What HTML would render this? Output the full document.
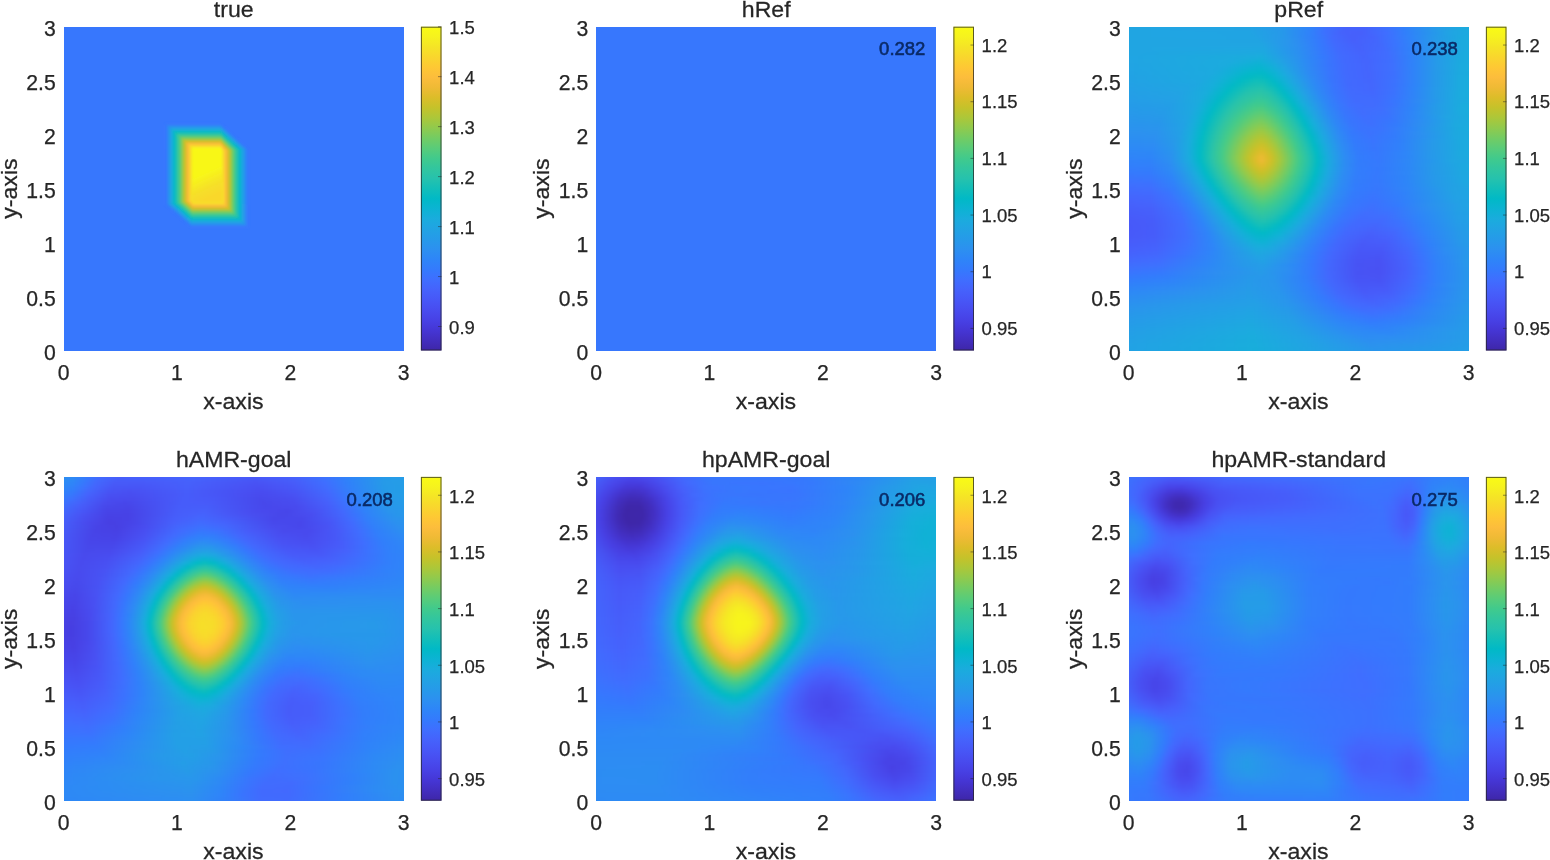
<!DOCTYPE html>
<html lang="en">
<head>
<meta charset="utf-8">
<title>Reconstruction comparison</title>
<style>
html,body{margin:0;padding:0;background:#fff;}
body{width:1550px;height:860px;overflow:hidden;position:relative;}
.hm{position:absolute;width:340px;height:324px;overflow:hidden;}
.hm i{position:absolute;display:block;left:-8px;top:-8px;width:356px;height:340px;filter:blur(1.6px);}
svg{position:absolute;left:0;top:0;display:block;}
text{font-family:"Liberation Sans",Arial,Helvetica,sans-serif;fill:#262626;stroke:#262626;stroke-width:0.25px;}
.t{font-size:21.2px;}
.c{font-size:18.5px;}
.l{font-size:21.6px;}
.a{font-size:18.5px;fill:#0a2a66;stroke:#0a2a66;stroke-width:0.55px;}
.m{text-anchor:middle;}
.e{text-anchor:end;}
#h0{left:64px;top:27px;background:#3777fd;}
#h1{left:596px;top:27px;background:#3777fd;}
#h2{left:1129px;top:27px;}
#h2 i{
background-image:linear-gradient(90deg,#20a4e2 0.5px,#21a3e4 126.5px,#2797ea 163.5px,#3180fa 193.5px,#416afe 216.5px,#4464fd 235.5px,#3e6ffe 259.5px,#3180fa 280.5px,#249ce7 316.5px,#1caadf 343.5px,#1baade 355.5px),
linear-gradient(90deg,#20a5e2 0.5px,#21a3e3 126.5px,#2798ea 161.5px,#3082f9 190.5px,#3b72fe 204.5px,#4562fc 224.5px,#4563fc 243.5px,#3b72fe 266.5px,#3082f9 284.5px,#259be8 315.5px,#1caadf 342.5px,#1baade 355.5px),
linear-gradient(90deg,#20a5e2 0.5px,#21a3e3 127.5px,#2798ea 161.5px,#3081fa 190.5px,#3d70fe 204.5px,#4561fc 224.5px,#4561fc 243.5px,#3c71fe 267.5px,#3080fa 284.5px,#259ce7 316.5px,#1caade 342.5px,#1babde 355.5px),
linear-gradient(90deg,#20a5e2 0.5px,#20a4e3 128.5px,#2699e9 160.5px,#3081fa 189.5px,#3b72fe 202.5px,#4562fc 220.5px,#465ffb 239.5px,#3f6eff 265.5px,#3080fa 285.5px,#20a4e3 328.5px,#1babde 352.5px,#1babde 355.5px),
linear-gradient(90deg,#20a5e2 0.5px,#20a4e3 132.5px,#2798ea 162.5px,#327dfb 193.5px,#4269fe 212.5px,#465ffb 231.5px,#4464fd 252.5px,#3a74fe 272.5px,#2e85f8 291.5px,#2699e9 313.5px,#1ca9df 339.5px,#1babdd 355.5px),
linear-gradient(90deg,#20a5e2 0.5px,#20a4e2 137.5px,#2a94ed 169.5px,#347afd 197.5px,#416afe 212.5px,#4660fb 232.5px,#4366fd 254.5px,#3a74fe 273.5px,#2e85f8 292.5px,#269ae9 314.5px,#1caade 340.5px,#1aabdd 355.5px),
linear-gradient(90deg,#20a5e2 0.5px,#20a5e2 141.5px,#2c90f0 175.5px,#347afd 198.5px,#416afe 214.5px,#4561fc 235.5px,#4268fd 258.5px,#3975fe 275.5px,#2e86f7 294.5px,#2699e9 314.5px,#1caade 340.5px,#1aabdd 355.5px),
linear-gradient(90deg,#20a5e2 0.5px,#1ea7e1 142.5px,#2c8ef1 178.5px,#3579fd 200.5px,#416afe 216.5px,#4562fc 238.5px,#416afe 262.5px,#3081fa 289.5px,#21a4e3 327.5px,#1aacdd 350.5px,#1aacdd 355.5px),
linear-gradient(90deg,#20a4e2 0.5px,#1ca9df 142.5px,#2c8df2 180.5px,#3678fd 202.5px,#416afe 219.5px,#4563fd 241.5px,#406dfe 266.5px,#2f84f9 292.5px,#269ae8 315.5px,#1baade 340.5px,#1aacdd 355.5px),
linear-gradient(90deg,#20a4e3 0.5px,#1babdd 119.5px,#19addc 141.5px,#2995ec 172.5px,#337bfd 200.5px,#416bfe 219.5px,#4464fd 242.5px,#406dfe 267.5px,#2e84f8 293.5px,#2699e9 314.5px,#1baade 339.5px,#1aacdd 355.5px),
linear-gradient(90deg,#21a4e3 0.5px,#1babde 110.5px,#12b0d7 139.5px,#21a3e3 159.5px,#2d89f5 186.5px,#3876fd 206.5px,#416afe 222.5px,#4464fd 245.5px,#3e6ffe 270.5px,#3082f9 291.5px,#259be8 316.5px,#1baade 340.5px,#1aacdd 355.5px),
linear-gradient(90deg,#21a3e3 0.5px,#1babde 103.5px,#0bb3d2 137.5px,#13afd8 148.5px,#21a2e4 163.5px,#2d8af4 186.5px,#3776fd 206.5px,#416afe 223.5px,#4465fd 246.5px,#3e70fe 271.5px,#2f83f9 292.5px,#269ae9 315.5px,#1babde 340.5px,#1aacdd 355.5px),
linear-gradient(90deg,#21a3e4 0.5px,#1baade 97.5px,#0db2d4 119.5px,#06b6cd 139.5px,#11b1d6 151.5px,#1ea7e1 162.5px,#2d8bf3 186.5px,#3876fd 207.5px,#416afe 223.5px,#4465fd 246.5px,#3e70fe 271.5px,#2f84f8 293.5px,#269ae8 315.5px,#1babde 340.5px,#1aacdc 355.5px),
linear-gradient(90deg,#21a2e4 0.5px,#1caadf 91.5px,#13afd8 106.5px,#04b8ca 128.5px,#03b8c8 142.5px,#10b1d6 155.5px,#1ea7e1 165.5px,#2d8af4 188.5px,#3876fd 208.5px,#416afe 224.5px,#4465fd 247.5px,#3d70fe 272.5px,#2f84f8 293.5px,#2699e9 314.5px,#1baade 339.5px,#19acdc 355.5px),
linear-gradient(90deg,#22a1e4 0.5px,#1ca9df 86.5px,#15afd9 100.5px,#01b9c6 124.5px,#08bbc0 139.5px,#01b9c7 147.5px,#13b0d8 160.5px,#1fa6e1 169.5px,#2d8bf3 189.5px,#3875fd 209.5px,#416afe 225.5px,#4465fd 248.5px,#3c71fe 273.5px,#2f84f8 293.5px,#2699e9 314.5px,#1babde 339.5px,#19acdc 355.5px),
linear-gradient(90deg,#22a1e5 0.5px,#1da8e0 79.5px,#16aeda 95.5px,#01bac5 118.5px,#11beba 134.5px,#0fbdbb 142.5px,#01b9c7 152.5px,#14afd8 164.5px,#20a4e3 173.5px,#2d8bf4 191.5px,#3875fd 210.5px,#416afe 226.5px,#4366fd 249.5px,#3c72fe 273.5px,#2f84f8 293.5px,#2699e9 314.5px,#1babde 339.5px,#19acdc 355.5px),
linear-gradient(90deg,#23a0e5 0.5px,#1ea6e1 73.5px,#17aedb 91.5px,#01b9c6 112.5px,#18bfb5 131.5px,#1ac0b4 141.5px,#04bac3 154.5px,#02b8c8 157.5px,#16aeda 168.5px,#259ce7 181.5px,#2d89f5 194.5px,#3975fe 212.5px,#4169fe 228.5px,#4367fd 251.5px,#3b72fe 273.5px,#2e85f8 294.5px,#2699e9 314.5px,#1babde 339.5px,#19acdc 355.5px),
linear-gradient(90deg,#239fe6 0.5px,#20a5e2 66.5px,#17addb 88.5px,#01bac5 108.5px,#1fc1b1 128.5px,#25c2ad 140.5px,#14beb8 151.5px,#01bac5 159.5px,#11b0d7 169.5px,#1ea7e0 176.5px,#2d8af4 195.5px,#3876fd 212.5px,#416bfe 227.5px,#4367fd 250.5px,#3c72fe 272.5px,#2e85f8 293.5px,#269ae9 314.5px,#1babde 339.5px,#19acdc 355.5px),
linear-gradient(90deg,#249ee6 0.5px,#21a3e3 60.5px,#19addc 84.5px,#01bac5 104.5px,#25c2ad 125.5px,#2cc4a6 139.5px,#24c2ae 148.5px,#01b9c6 163.5px,#14afd8 173.5px,#21a4e3 181.5px,#2d8af4 197.5px,#3776fd 213.5px,#416bfe 229.5px,#4268fe 252.5px,#3b72fe 272.5px,#2e86f7 294.5px,#2699e9 313.5px,#1babde 338.5px,#19addc 355.5px),
linear-gradient(90deg,#249de7 0.5px,#22a2e4 56.5px,#1aacdd 81.5px,#01b9c6 100.5px,#29c3aa 122.5px,#32c69e 138.5px,#2cc4a5 147.5px,#21c1b0 154.5px,#00bac6 166.5px,#15afd9 176.5px,#21a3e3 184.5px,#2d8af4 199.5px,#3876fd 215.5px,#416bfe 231.5px,#416afe 254.5px,#3a74fe 273.5px,#2e86f7 294.5px,#2699e9 313.5px,#1babde 338.5px,#19acdc 355.5px),
linear-gradient(90deg,#259ce8 0.5px,#23a0e5 52.5px,#1babdd 78.5px,#01b9c6 97.5px,#29c3aa 117.5px,#39c896 136.5px,#37c898 143.5px,#23c1ae 157.5px,#01bac6 169.5px,#16aeda 179.5px,#239ee6 189.5px,#2d89f5 202.5px,#3975fe 218.5px,#416bfe 234.5px,#406cfe 257.5px,#3579fd 278.5px,#2c8ef1 301.5px,#1da8e0 333.5px,#19acdc 355.5px),
linear-gradient(90deg,#259ae8 0.5px,#239ee6 49.5px,#1ca9df 74.5px,#11b1d6 83.5px,#01b9c6 94.5px,#29c3a9 113.5px,#3fca8e 133.5px,#41ca8c 141.5px,#2cc4a5 156.5px,#1cc0b3 163.5px,#01b9c6 172.5px,#17aedb 182.5px,#2798ea 195.5px,#3180fa 210.5px,#3f6eff 229.5px,#416bfe 251.5px,#3a73fe 270.5px,#2d87f6 294.5px,#249de7 317.5px,#1aacdd 341.5px,#19acdc 355.5px),
linear-gradient(90deg,#2699e9 0.5px,#249ce7 45.5px,#1da8e0 71.5px,#15afd9 79.5px,#01bac5 92.5px,#29c3aa 109.5px,#48cb86 132.5px,#4ecb81 140.5px,#3ac895 152.5px,#23c1af 164.5px,#02bac4 174.5px,#05b7cb 177.5px,#1da8e0 188.5px,#2d8af4 205.5px,#3777fd 220.5px,#406dfe 237.5px,#3f6ffe 260.5px,#2e84f8 290.5px,#2699e9 312.5px,#1babde 338.5px,#19acdc 355.5px),
linear-gradient(90deg,#2798ea 0.5px,#259be8 43.5px,#1ea7e0 69.5px,#15aed9 77.5px,#01b9c7 89.5px,#09bcbf 93.5px,#29c3a9 106.5px,#4acb85 126.5px,#5acc77 137.5px,#59cc78 142.5px,#3ac895 156.5px,#23c1af 167.5px,#01bac5 177.5px,#15aed9 186.5px,#22a1e4 194.5px,#2d89f5 208.5px,#3876fd 223.5px,#406dfe 241.5px,#3c71fe 264.5px,#2e87f7 292.5px,#269ae8 313.5px,#1babde 339.5px,#19acdc 355.5px),
linear-gradient(90deg,#2896eb 0.5px,#2699e9 40.5px,#1fa5e2 66.5px,#16aeda 75.5px,#01b9c7 87.5px,#0abcbf 91.5px,#2bc3a8 104.5px,#47cb87 120.5px,#65cc6f 134.5px,#69cc6b 140.5px,#59cc78 148.5px,#3bc993 159.5px,#22c1af 170.5px,#02bac4 179.5px,#05b7cc 182.5px,#1da8df 192.5px,#2d8af4 209.5px,#3777fd 224.5px,#3f6eff 243.5px,#3a73fe 266.5px,#2d88f6 293.5px,#21a4e3 325.5px,#19acdc 348.5px,#1aacdd 355.5px),
linear-gradient(90deg,#2995ec 0.5px,#2797ea 39.5px,#20a4e3 64.5px,#16aeda 74.5px,#01bac5 86.5px,#2ac3a9 101.5px,#47cb87 116.5px,#6fcc66 132.5px,#78cc5f 140.5px,#67cc6d 148.5px,#3ec990 161.5px,#20c1b0 173.5px,#01b9c6 182.5px,#17aedb 191.5px,#259ae8 202.5px,#2d89f5 212.5px,#3776fd 227.5px,#3e6ffe 247.5px,#3677fd 271.5px,#2d8cf3 297.5px,#1da8e0 333.5px,#1aacdd 355.5px),
linear-gradient(90deg,#2a93ed 0.5px,#2895ec 37.5px,#21a2e4 62.5px,#18addb 72.5px,#01b9c6 84.5px,#2ac3a8 99.5px,#47cb87 113.5px,#7acc5d 131.5px,#87cb54 139.5px,#80cc59 144.5px,#59cc78 156.5px,#3dc991 164.5px,#22c1af 175.5px,#00b9c6 184.5px,#17aedb 193.5px,#259ce7 203.5px,#2d88f6 214.5px,#3876fd 230.5px,#3d70fe 250.5px,#337bfc 275.5px,#2c8ff0 300.5px,#1da9df 334.5px,#1aacdd 355.5px),
linear-gradient(90deg,#2b92ee 0.5px,#2a94ed 36.5px,#22a1e5 60.5px,#18addb 71.5px,#02b9c7 82.5px,#04bac3 84.5px,#2ac3a8 97.5px,#46cb88 110.5px,#83cb57 129.5px,#95ca49 138.5px,#93ca4a 142.5px,#7ccc5c 150.5px,#3fca8f 166.5px,#23c1af 177.5px,#01bac6 186.5px,#17addb 195.5px,#2798ea 207.5px,#3081fa 221.5px,#3a73fe 238.5px,#3a74fe 260.5px,#2e87f7 290.5px,#2699e9 311.5px,#1baade 338.5px,#1aacdd 355.5px),
linear-gradient(90deg,#2c90f0 0.5px,#2b92ee 35.5px,#239fe6 58.5px,#18addb 70.5px,#02b9c7 81.5px,#08bbc0 84.5px,#29c3a9 95.5px,#47cb87 108.5px,#8dcb4f 128.5px,#a2c840 137.5px,#a3c83f 141.5px,#8ecb4e 149.5px,#48cb86 166.5px,#2cc4a6 176.5px,#18bfb6 182.5px,#01b9c6 188.5px,#1da8e0 200.5px,#2d8bf4 216.5px,#3479fd 230.5px,#3b72fe 249.5px,#337cfc 274.5px,#2c90f0 300.5px,#1da8df 334.5px,#1aabdd 355.5px),
linear-gradient(90deg,#2c8ef1 0.5px,#2c90f0 33.5px,#249de7 56.5px,#19addc 69.5px,#02b9c7 80.5px,#08bcc0 83.5px,#2ac3a8 94.5px,#47cb87 106.5px,#90ca4d 125.5px,#acc739 135.5px,#b2c535 140.5px,#a6c73d 146.5px,#84cb56 155.5px,#41ca8d 170.5px,#23c1af 181.5px,#01b9c6 190.5px,#1ca9df 201.5px,#2d8cf3 217.5px,#337bfc 230.5px,#3a74fe 248.5px,#337bfc 272.5px,#2c8ef1 298.5px,#1da8e0 334.5px,#1aabdd 355.5px),
linear-gradient(90deg,#2c8cf2 0.5px,#2c8ef1 32.5px,#269ae8 54.5px,#1aacdd 68.5px,#02b9c7 79.5px,#01bac5 80.5px,#2bc3a7 93.5px,#45cb88 104.5px,#8fca4e 122.5px,#b4c534 133.5px,#bfc32e 140.5px,#b3c534 146.5px,#8ccb50 156.5px,#45cb89 171.5px,#1ec0b2 184.5px,#02bac5 191.5px,#11b1d6 198.5px,#1da8e0 203.5px,#2d8bf3 219.5px,#337afd 233.5px,#3975fe 252.5px,#3080fa 279.5px,#2799ea 310.5px,#1ca9df 338.5px,#1babde 355.5px),
linear-gradient(90deg,#2d8af4 0.5px,#2d8cf3 32.5px,#2798ea 52.5px,#1babde 67.5px,#01b9c6 79.5px,#2bc3a7 92.5px,#47cb87 103.5px,#90ca4d 120.5px,#b6c533 130.5px,#cac129 138.5px,#cbc129 141.5px,#bfc32e 146.5px,#a5c83e 153.5px,#60cc72 167.5px,#40ca8d 174.5px,#20c1b0 185.5px,#01b9c6 193.5px,#1ca9df 204.5px,#2d8cf3 220.5px,#337bfc 234.5px,#3876fd 252.5px,#3081fa 279.5px,#2799e9 310.5px,#1ca9df 339.5px,#1babde 355.5px),
linear-gradient(90deg,#2d88f6 0.5px,#2d8af5 31.5px,#2896ec 51.5px,#1babde 67.5px,#02b9c7 78.5px,#01bac5 79.5px,#2ac3a8 91.5px,#47cb87 102.5px,#8fca4e 118.5px,#b5c533 127.5px,#c9c129 133.5px,#d7be29 140.5px,#cac129 146.5px,#abc739 154.5px,#64cc6f 168.5px,#3ec98f 176.5px,#21c1b0 186.5px,#01bac6 194.5px,#1ca9df 205.5px,#2d8cf3 221.5px,#327cfc 234.5px,#3776fd 252.5px,#3081fa 279.5px,#2799e9 310.5px,#1ca9df 339.5px,#1baade 355.5px),
linear-gradient(90deg,#2e86f7 0.5px,#2d87f6 30.5px,#2994ed 51.5px,#1babde 67.5px,#02b9c7 78.5px,#05bbc2 80.5px,#2bc4a7 91.5px,#45cb88 101.5px,#90ca4d 117.5px,#b8c431 126.5px,#cbc029 131.5px,#e1bc2b 139.5px,#dfbc2a 142.5px,#c5c22a 150.5px,#a5c73d 157.5px,#5bcc77 171.5px,#3fca8f 177.5px,#22c1af 187.5px,#01bac5 195.5px,#15aed9 203.5px,#22a2e4 210.5px,#2d8bf4 223.5px,#337bfc 237.5px,#3678fd 256.5px,#2e86f8 285.5px,#2798ea 309.5px,#1da9df 338.5px,#1baade 355.5px),
linear-gradient(90deg,#2f84f8 0.5px,#2e85f8 29.5px,#2b91ef 49.5px,#1aacdd 68.5px,#02b9c7 78.5px,#01bac5 79.5px,#29c3aa 90.5px,#42ca8b 100.5px,#8acb52 115.5px,#b5c533 124.5px,#cac129 129.5px,#e2bc2c 136.5px,#ebbb33 140.5px,#dbbd29 146.5px,#c8c129 151.5px,#a1c840 159.5px,#5bcc77 172.5px,#3fca8f 178.5px,#21c1b0 188.5px,#01b9c6 196.5px,#1ca9df 207.5px,#2d8cf3 223.5px,#327dfc 236.5px,#3678fd 255.5px,#2e85f8 284.5px,#2798ea 309.5px,#1da9df 339.5px,#1caade 355.5px),
linear-gradient(90deg,#3081fa 0.5px,#2f82f9 29.5px,#2c8ff1 49.5px,#1babde 68.5px,#01b9c7 79.5px,#11beba 84.5px,#2ac3a9 91.5px,#44cb89 101.5px,#8ecb4f 116.5px,#b8c431 125.5px,#c9c129 129.5px,#dfbc2a 135.5px,#edba34 140.5px,#d8be29 147.5px,#c4c22b 152.5px,#a2c840 159.5px,#5ccc76 172.5px,#3fca8e 178.5px,#22c1af 188.5px,#01bac5 196.5px,#15afd9 204.5px,#21a2e4 211.5px,#2d8bf3 224.5px,#327cfc 238.5px,#3579fd 258.5px,#2d89f5 289.5px,#20a5e2 330.5px,#1ca9df 355.5px),
linear-gradient(90deg,#317ffb 0.5px,#3180fa 29.5px,#2d8bf3 48.5px,#22a2e4 64.5px,#15aed9 72.5px,#02b9c8 80.5px,#01bac5 81.5px,#29c3aa 92.5px,#43ca8b 102.5px,#8bcb51 117.5px,#b5c533 126.5px,#cac129 131.5px,#e1bc2b 139.5px,#e0bc2a 142.5px,#c6c22a 150.5px,#a1c840 158.5px,#58cc79 172.5px,#3dc990 178.5px,#20c1b0 188.5px,#01b9c6 196.5px,#1ca9df 207.5px,#2c8cf2 223.5px,#327dfb 236.5px,#3579fd 255.5px,#2e85f8 283.5px,#2798ea 310.5px,#1da8e0 340.5px,#1ca9df 355.5px),
linear-gradient(90deg,#337cfc 0.5px,#327dfb 29.5px,#2d8bf4 50.5px,#239fe6 64.5px,#17addb 73.5px,#02b9c7 82.5px,#06bbc2 84.5px,#29c3a9 94.5px,#44cb8a 104.5px,#90ca4d 120.5px,#b7c432 129.5px,#c9c129 134.5px,#d6be29 140.5px,#cac129 146.5px,#a7c73d 155.5px,#5ccc76 170.5px,#40ca8d 176.5px,#21c1b0 187.5px,#01bac6 195.5px,#1caadf 206.5px,#2d8cf3 223.5px,#327dfc 237.5px,#3479fd 257.5px,#2d87f6 287.5px,#269ae8 313.5px,#1da8e0 342.5px,#1da9df 355.5px),
linear-gradient(90deg,#3579fd 0.5px,#347afd 28.5px,#2d88f6 50.5px,#2896eb 61.5px,#1aacdd 74.5px,#01b9c7 84.5px,#0abcbf 87.5px,#29c3a9 96.5px,#43ca8a 106.5px,#8dcb50 122.5px,#b5c533 132.5px,#c7c129 139.5px,#c4c22b 143.5px,#a8c73c 152.5px,#6ccc69 165.5px,#3fca8f 175.5px,#20c1b0 186.5px,#01bac6 194.5px,#1da8e0 206.5px,#2d8cf3 222.5px,#327dfc 236.5px,#3579fd 256.5px,#2e87f7 286.5px,#2699e9 312.5px,#1ea7e0 341.5px,#1da8e0 355.5px),
linear-gradient(90deg,#3875fd 0.5px,#3777fd 28.5px,#2e84f8 50.5px,#2896eb 63.5px,#1aacdd 76.5px,#02b9c7 86.5px,#06bbc2 88.5px,#29c3aa 98.5px,#45cb88 109.5px,#90ca4d 126.5px,#b0c636 135.5px,#b9c431 140.5px,#afc637 146.5px,#8acb51 156.5px,#43ca8a 172.5px,#22c1af 184.5px,#01b9c6 193.5px,#1da8e0 205.5px,#2d8cf3 221.5px,#327efb 234.5px,#3579fd 254.5px,#2e84f8 283.5px,#2798ea 311.5px,#1ea7e1 341.5px,#1da8e0 355.5px),
linear-gradient(90deg,#3b72fe 0.5px,#3a73fe 28.5px,#2f83f9 52.5px,#2797eb 66.5px,#18addc 79.5px,#02b8c8 88.5px,#01bac6 89.5px,#2ac3a8 101.5px,#47cb87 112.5px,#90ca4d 130.5px,#a7c73c 138.5px,#a9c73b 141.5px,#9ac946 148.5px,#6ccc68 160.5px,#40ca8e 171.5px,#20c1b0 183.5px,#02bac5 191.5px,#0db3d3 197.5px,#1ca9df 203.5px,#2d8cf3 220.5px,#327dfb 234.5px,#3578fd 255.5px,#2e85f8 284.5px,#2699e9 313.5px,#1ea7e1 343.5px,#1ea7e0 355.5px),
linear-gradient(90deg,#3f6ffe 0.5px,#3d70fe 28.5px,#3180fa 52.5px,#2a93ed 66.5px,#19acdc 81.5px,#01b9c7 91.5px,#11beba 96.5px,#2bc3a7 104.5px,#46cb87 115.5px,#86cb54 132.5px,#97ca48 139.5px,#95ca49 143.5px,#7dcc5b 152.5px,#3fca8f 169.5px,#20c1b0 181.5px,#01b9c6 190.5px,#1da9df 202.5px,#2d8cf3 219.5px,#327cfc 234.5px,#3678fd 255.5px,#2e85f8 285.5px,#2699e9 314.5px,#1fa6e1 344.5px,#1ea7e1 355.5px),
linear-gradient(90deg,#406bfe 0.5px,#406dfe 29.5px,#327dfb 53.5px,#2c8df2 65.5px,#1aabdd 83.5px,#01b9c6 94.5px,#29c3aa 106.5px,#45cb89 118.5px,#7bcc5d 134.5px,#87cb54 140.5px,#7ecc5a 146.5px,#56cc7a 159.5px,#3dc991 167.5px,#23c1ae 178.5px,#01b9c6 188.5px,#16aeda 197.5px,#249de7 207.5px,#2d8af5 219.5px,#337bfd 235.5px,#3677fd 257.5px,#2e87f7 289.5px,#22a1e4 330.5px,#1fa6e1 355.5px),
linear-gradient(90deg,#4268fd 0.5px,#416afe 29.5px,#3974fe 47.5px,#2d87f6 64.5px,#269ae9 75.5px,#17addb 87.5px,#02b9c8 96.5px,#01bac5 97.5px,#29c3aa 109.5px,#46cb88 122.5px,#6dcc68 135.5px,#75cc62 141.5px,#67cc6d 149.5px,#3cc992 164.5px,#22c1af 176.5px,#01b9c6 186.5px,#1da8e0 199.5px,#2d8cf3 216.5px,#337bfc 232.5px,#3876fd 253.5px,#3081fa 282.5px,#22a1e4 332.5px,#1fa6e2 355.5px),
linear-gradient(90deg,#4465fd 0.5px,#4367fd 29.5px,#3b73fe 49.5px,#2e86f7 66.5px,#2897eb 76.5px,#19acdc 89.5px,#02b9c7 99.5px,#01bac5 100.5px,#2ac3a8 113.5px,#48cb86 127.5px,#62cc71 138.5px,#63cc70 142.5px,#4ecb81 153.5px,#33c69d 165.5px,#22c1af 173.5px,#02bac5 183.5px,#11b1d6 191.5px,#1da8e0 197.5px,#2d8cf3 214.5px,#337bfc 230.5px,#3974fe 251.5px,#327efb 278.5px,#22a1e5 333.5px,#20a5e2 355.5px),
linear-gradient(90deg,#4562fc 0.5px,#4465fd 29.5px,#3b72fe 52.5px,#2e85f8 68.5px,#2797ea 79.5px,#19addc 92.5px,#02b9c7 102.5px,#01bac5 103.5px,#29c3aa 116.5px,#4fcb81 136.5px,#54cc7c 141.5px,#47cb87 150.5px,#22c1af 170.5px,#01b9c6 181.5px,#17addb 191.5px,#2798ea 204.5px,#2d87f6 215.5px,#3677fd 233.5px,#3a73fe 255.5px,#3081fa 285.5px,#23a0e5 333.5px,#20a4e2 355.5px),
linear-gradient(90deg,#4660fb 0.5px,#4563fc 30.5px,#3c72fe 55.5px,#2e86f8 71.5px,#2798ea 82.5px,#18addc 95.5px,#02b9c8 105.5px,#01bac6 106.5px,#29c3aa 120.5px,#42ca8b 137.5px,#44cb89 142.5px,#35c79a 155.5px,#23c1ae 166.5px,#01b9c6 178.5px,#16aeda 188.5px,#249de7 199.5px,#2d8af4 211.5px,#3678fd 229.5px,#3c71fe 251.5px,#337bfd 277.5px,#2b91ef 309.5px,#22a2e4 342.5px,#21a4e3 355.5px),
linear-gradient(90deg,#465efa 0.5px,#4660fb 30.5px,#3c71fe 57.5px,#2e86f7 74.5px,#2799e9 85.5px,#18addb 98.5px,#03b8c8 108.5px,#03bac4 110.5px,#28c3aa 124.5px,#3ac894 139.5px,#36c79a 148.5px,#23c1af 162.5px,#01b9c6 175.5px,#15aeda 185.5px,#239fe5 195.5px,#2d89f5 209.5px,#3777fd 227.5px,#3e6ffe 249.5px,#3777fd 274.5px,#2d8cf3 304.5px,#23a0e5 337.5px,#21a3e3 355.5px),
linear-gradient(90deg,#465cf9 0.5px,#465ffb 30.5px,#3e6ffe 58.5px,#2e85f8 76.5px,#2699e9 88.5px,#18addb 101.5px,#02b9c7 112.5px,#04bac3 114.5px,#28c3aa 129.5px,#32c69e 140.5px,#2ac3a8 152.5px,#1ac0b4 161.5px,#01bac6 171.5px,#15aeda 182.5px,#23a0e5 192.5px,#2d8af4 206.5px,#3776fd 224.5px,#406dfe 245.5px,#3b72fe 269.5px,#2e87f7 299.5px,#239ee6 336.5px,#21a2e4 355.5px),
linear-gradient(90deg,#475af9 0.5px,#465efa 31.5px,#3f6eff 59.5px,#2e85f8 78.5px,#2798ea 90.5px,#18addc 104.5px,#03b8c8 115.5px,#02bac5 117.5px,#23c1ae 132.5px,#2bc3a7 141.5px,#23c1af 151.5px,#01bac5 167.5px,#11b0d7 177.5px,#1ea7e0 184.5px,#2d8af4 203.5px,#3777fd 220.5px,#406cfe 239.5px,#406dfe 263.5px,#2f83f9 296.5px,#249de7 335.5px,#22a2e4 355.5px),
linear-gradient(90deg,#4759f8 0.5px,#465cfa 31.5px,#3f6eff 61.5px,#2e84f8 80.5px,#2799ea 93.5px,#16aeda 108.5px,#03b8c8 119.5px,#01bac5 121.5px,#1cc0b3 135.5px,#21c1b0 142.5px,#12beb9 154.5px,#01b9c6 163.5px,#15afd9 175.5px,#22a1e4 185.5px,#2d89f5 201.5px,#3975fd 219.5px,#416afe 236.5px,#416afe 260.5px,#3a73fe 279.5px,#2e85f8 301.5px,#249de7 337.5px,#22a1e5 355.5px),
linear-gradient(90deg,#4758f8 0.5px,#465cf9 31.5px,#406dfe 61.5px,#2f83f9 81.5px,#2699e9 96.5px,#17addb 111.5px,#04b7ca 122.5px,#02bac5 126.5px,#15bfb8 138.5px,#13beb8 145.5px,#01b9c6 158.5px,#12b0d7 170.5px,#1ea7e1 178.5px,#2d8bf4 197.5px,#3776fd 214.5px,#416afe 230.5px,#4366fd 254.5px,#3c72fe 280.5px,#2f82f9 300.5px,#259be8 336.5px,#22a0e5 355.5px),
linear-gradient(90deg,#4758f8 0.5px,#465cfa 32.5px,#3f6eff 63.5px,#2f84f8 84.5px,#269ae9 99.5px,#16aeda 115.5px,#05b7cb 126.5px,#01bac5 131.5px,#0bbcbe 141.5px,#02b9c7 153.5px,#12b0d7 166.5px,#1fa6e1 175.5px,#2d89f5 195.5px,#3875fd 212.5px,#4269fe 227.5px,#4563fc 251.5px,#406cfe 276.5px,#2f83f9 303.5px,#259ae8 337.5px,#23a0e5 355.5px),
linear-gradient(90deg,#4759f8 0.5px,#465cfa 32.5px,#3f6efe 63.5px,#2e84f8 86.5px,#2799e9 101.5px,#16aeda 119.5px,#06b6cc 131.5px,#01b9c6 142.5px,#0db3d4 158.5px,#1ea7e0 170.5px,#2d8af5 192.5px,#3875fd 209.5px,#4268fe 224.5px,#4660fb 248.5px,#4367fd 272.5px,#3974fe 289.5px,#2f84f9 306.5px,#269ae8 339.5px,#239fe6 355.5px),
linear-gradient(90deg,#4759f8 0.5px,#465dfa 33.5px,#3e6ffe 65.5px,#2e85f8 88.5px,#2798ea 103.5px,#16aeda 123.5px,#08b5ce 136.5px,#08b5ce 145.5px,#15afd9 158.5px,#269ae8 177.5px,#2e87f7 191.5px,#3974fe 207.5px,#4367fd 222.5px,#465dfa 246.5px,#4563fd 270.5px,#3b73fe 290.5px,#3082f9 306.5px,#2699e9 338.5px,#249ee6 355.5px),
linear-gradient(90deg,#475bf9 0.5px,#465ffb 33.5px,#3d71fe 66.5px,#2e85f8 89.5px,#2798ea 106.5px,#15afd9 129.5px,#0cb3d3 141.5px,#1da8e0 161.5px,#2d8af5 186.5px,#3876fd 203.5px,#4268fd 217.5px,#475bf9 242.5px,#465efb 265.5px,#3d70fe 290.5px,#3180fa 306.5px,#2798ea 338.5px,#249de7 355.5px),
linear-gradient(90deg,#465cfa 0.5px,#4561fc 34.5px,#3c72fe 66.5px,#2e86f8 91.5px,#2798ea 108.5px,#18addb 133.5px,#14afd9 143.5px,#22a1e4 163.5px,#2d89f5 184.5px,#3776fd 200.5px,#4267fd 215.5px,#4759f8 240.5px,#475bf9 263.5px,#406cfe 288.5px,#3080fa 308.5px,#2797ea 339.5px,#249de7 355.5px),
linear-gradient(90deg,#465ffb 0.5px,#4563fd 35.5px,#3b73fe 65.5px,#2e85f8 91.5px,#2897eb 110.5px,#1baade 135.5px,#1ca9df 148.5px,#2a94ed 172.5px,#337cfc 193.5px,#4269fe 211.5px,#4758f8 237.5px,#4758f8 260.5px,#4268fd 286.5px,#3578fd 302.5px,#2c8df2 324.5px,#259ce7 354.5px,#259ce7 355.5px),
linear-gradient(90deg,#4561fc 0.5px,#4366fd 35.5px,#3b73fe 62.5px,#2f84f9 88.5px,#2797ea 113.5px,#1ea7e0 137.5px,#22a2e4 153.5px,#2e86f7 181.5px,#3875fd 197.5px,#4366fd 212.5px,#4756f6 238.5px,#4756f7 261.5px,#4367fd 287.5px,#3777fd 302.5px,#2d8bf4 323.5px,#259be8 353.5px,#259ce8 355.5px),
linear-gradient(90deg,#4464fd 0.5px,#4269fe 36.5px,#3875fd 62.5px,#2d88f6 93.5px,#2799e9 117.5px,#20a4e3 140.5px,#2798ea 161.5px,#337afd 191.5px,#4269fe 207.5px,#4755f6 235.5px,#4754f5 258.5px,#4563fd 284.5px,#3a73fe 300.5px,#3082f9 314.5px,#2797ea 344.5px,#259be8 355.5px),
linear-gradient(90deg,#4268fd 0.5px,#406dfe 37.5px,#2f84f8 84.5px,#2798ea 119.5px,#22a1e5 141.5px,#2b92ee 165.5px,#3579fd 191.5px,#4268fd 207.5px,#4754f5 235.5px,#4852f4 258.5px,#4562fc 284.5px,#3a73fe 301.5px,#3082f9 315.5px,#2897eb 344.5px,#259be8 355.5px),
linear-gradient(90deg,#406cfe 0.5px,#3d71fe 38.5px,#2e85f8 83.5px,#2699e9 123.5px,#249de7 143.5px,#2d88f6 174.5px,#3776fd 193.5px,#4366fd 209.5px,#4753f4 236.5px,#4852f4 259.5px,#4562fc 285.5px,#3a74fe 302.5px,#3081fa 315.5px,#2897eb 345.5px,#259ae8 355.5px),
linear-gradient(90deg,#3e70fe 0.5px,#3975fd 39.5px,#2d8af4 89.5px,#259ce8 139.5px,#2c8ff1 165.5px,#347afd 189.5px,#4268fd 206.5px,#4754f5 234.5px,#4851f3 257.5px,#465ffb 282.5px,#3b72fe 301.5px,#3081fa 315.5px,#2896eb 345.5px,#269ae8 355.5px),
linear-gradient(90deg,#3974fe 0.5px,#347afd 41.5px,#2c8ff0 98.5px,#269ae8 140.5px,#2d8bf4 170.5px,#3677fd 192.5px,#4367fd 208.5px,#4753f4 236.5px,#4852f4 259.5px,#4562fc 285.5px,#3a73fe 302.5px,#3082f9 316.5px,#2896eb 346.5px,#269ae9 355.5px),
linear-gradient(90deg,#3578fd 0.5px,#317efb 45.5px,#2699e9 130.5px,#2896ec 151.5px,#317ffa 184.5px,#4268fe 207.5px,#4754f5 235.5px,#4853f4 258.5px,#4562fc 284.5px,#3b73fe 301.5px,#3081fa 315.5px,#2896eb 346.5px,#269ae9 355.5px),
linear-gradient(90deg,#327cfc 0.5px,#2f83f9 48.5px,#2699e9 128.5px,#2995ec 152.5px,#317ffa 185.5px,#4268fd 209.5px,#4755f6 236.5px,#4754f5 259.5px,#4464fd 285.5px,#3a73fe 301.5px,#3081fa 315.5px,#2896eb 346.5px,#269ae9 355.5px),
linear-gradient(90deg,#3080fa 0.5px,#2d87f6 51.5px,#269ae9 127.5px,#2995ec 154.5px,#317ffb 187.5px,#4268fd 211.5px,#4757f7 238.5px,#4757f7 261.5px,#4268fd 288.5px,#3678fd 304.5px,#2d8cf3 327.5px,#269ae9 355.5px),
linear-gradient(90deg,#2e84f8 0.5px,#2d8cf3 57.5px,#259be8 127.5px,#2995ec 156.5px,#317efb 190.5px,#4268fd 214.5px,#4759f8 240.5px,#475af9 264.5px,#406bfe 290.5px,#3080fa 312.5px,#2896eb 345.5px,#269ae9 355.5px),
linear-gradient(90deg,#2d88f6 0.5px,#2c90f0 59.5px,#259ce7 127.5px,#2896ec 158.5px,#327efb 193.5px,#4268fd 217.5px,#475bf9 243.5px,#465efb 267.5px,#3d70fe 293.5px,#3180fa 310.5px,#2896eb 344.5px,#269ae9 355.5px),
linear-gradient(90deg,#2d8bf3 0.5px,#2994ed 66.5px,#249de7 129.5px,#2896ec 161.5px,#327cfc 198.5px,#4269fe 220.5px,#465efb 245.5px,#4563fc 270.5px,#3b73fe 293.5px,#3081fa 310.5px,#2897eb 345.5px,#269ae8 355.5px),
linear-gradient(90deg,#2c8ef1 0.5px,#2798ea 74.5px,#239fe6 132.5px,#2995ec 166.5px,#3479fd 205.5px,#416afe 225.5px,#4562fc 250.5px,#4169fe 276.5px,#3578fd 296.5px,#2d8cf3 323.5px,#259ae8 355.5px),
linear-gradient(90deg,#2b91ef 0.5px,#259ce7 81.5px,#23a0e5 136.5px,#2994ed 172.5px,#3579fd 210.5px,#416bfe 231.5px,#4366fd 256.5px,#3c71fe 283.5px,#2f82f9 306.5px,#2798ea 345.5px,#259be8 355.5px),
linear-gradient(90deg,#2a94ed 0.5px,#21a2e4 130.5px,#2699e9 167.5px,#3578fd 217.5px,#406cfe 241.5px,#3f6dfe 267.5px,#2f84f8 305.5px,#2799e9 346.5px,#259be8 355.5px),
linear-gradient(90deg,#2896eb 0.5px,#20a4e3 130.5px,#269ae8 169.5px,#347afd 222.5px,#3d70fe 250.5px,#3777fd 278.5px,#2c8cf2 316.5px,#259be8 355.5px),
linear-gradient(90deg,#2798ea 0.5px,#1fa5e2 130.5px,#259ce7 170.5px,#337cfc 227.5px,#3975fd 255.5px,#317ffa 288.5px,#2699e9 343.5px,#259ce7 355.5px),
linear-gradient(90deg,#269ae9 0.5px,#1ea7e1 130.5px,#249ee6 171.5px,#2e86f7 215.5px,#337afd 248.5px,#317ffa 280.5px,#259ae8 346.5px,#259ce7 355.5px),
linear-gradient(90deg,#259be8 0.5px,#1da8df 130.5px,#239fe6 173.5px,#2d88f6 220.5px,#317ffb 253.5px,#2e86f7 288.5px,#259ce7 350.5px,#249de7 355.5px),
linear-gradient(90deg,#249de7 0.5px,#1caadf 131.5px,#23a0e5 176.5px,#2d89f5 227.5px,#2f83f9 261.5px,#2a93ee 314.5px,#249de7 355.5px),
linear-gradient(90deg,#249ee6 0.5px,#1babde 131.5px,#22a1e4 178.5px,#2d8bf4 234.5px,#2d88f6 270.5px,#2799ea 329.5px,#249de7 355.5px),
linear-gradient(90deg,#239fe6 0.5px,#1aacdd 132.5px,#22a2e4 182.5px,#2d8cf3 243.5px,#2c8ef2 282.5px,#249ee6 355.5px),
linear-gradient(90deg,#23a0e5 0.5px,#19acdc 132.5px,#21a3e4 184.5px,#2c8ff0 247.5px,#2b92ee 291.5px,#249ee6 355.5px),
linear-gradient(90deg,#22a1e5 0.5px,#19addc 133.5px,#21a3e3 188.5px,#2b92ee 250.5px,#2896eb 301.5px,#239ee6 355.5px),
linear-gradient(90deg,#22a1e5 0.5px,#18addb 134.5px,#21a3e3 192.5px,#2994ed 254.5px,#259ae8 318.5px,#239fe6 355.5px),
linear-gradient(90deg,#22a1e4 0.5px,#18addb 135.5px,#21a3e3 196.5px,#2896eb 259.5px,#239fe6 355.5px),
linear-gradient(90deg,#22a2e4 0.5px,#18addc 137.5px,#22a2e4 205.5px,#2798ea 266.5px,#239fe6 355.5px);
background-position:0 0px,0 4px,0 8px,0 12px,0 16px,0 20px,0 24px,0 28px,0 32px,0 36px,0 40px,0 44px,0 48px,0 52px,0 56px,0 60px,0 64px,0 68px,0 72px,0 76px,0 80px,0 84px,0 88px,0 92px,0 96px,0 100px,0 104px,0 108px,0 112px,0 116px,0 120px,0 124px,0 128px,0 132px,0 136px,0 140px,0 144px,0 148px,0 152px,0 156px,0 160px,0 164px,0 168px,0 172px,0 176px,0 180px,0 184px,0 188px,0 192px,0 196px,0 200px,0 204px,0 208px,0 212px,0 216px,0 220px,0 224px,0 228px,0 232px,0 236px,0 240px,0 244px,0 248px,0 252px,0 256px,0 260px,0 264px,0 268px,0 272px,0 276px,0 280px,0 284px,0 288px,0 292px,0 296px,0 300px,0 304px,0 308px,0 312px,0 316px,0 320px,0 324px,0 328px,0 332px,0 336px;
background-size:100% 4px,100% 4px,100% 4px,100% 4px,100% 4px,100% 4px,100% 4px,100% 4px,100% 4px,100% 4px,100% 4px,100% 4px,100% 4px,100% 4px,100% 4px,100% 4px,100% 4px,100% 4px,100% 4px,100% 4px,100% 4px,100% 4px,100% 4px,100% 4px,100% 4px,100% 4px,100% 4px,100% 4px,100% 4px,100% 4px,100% 4px,100% 4px,100% 4px,100% 4px,100% 4px,100% 4px,100% 4px,100% 4px,100% 4px,100% 4px,100% 4px,100% 4px,100% 4px,100% 4px,100% 4px,100% 4px,100% 4px,100% 4px,100% 4px,100% 4px,100% 4px,100% 4px,100% 4px,100% 4px,100% 4px,100% 4px,100% 4px,100% 4px,100% 4px,100% 4px,100% 4px,100% 4px,100% 4px,100% 4px,100% 4px,100% 4px,100% 4px,100% 4px,100% 4px,100% 4px,100% 4px,100% 4px,100% 4px,100% 4px,100% 4px,100% 4px,100% 4px,100% 4px,100% 4px,100% 4px,100% 4px,100% 4px,100% 4px,100% 4px,100% 4px;
background-repeat:no-repeat;}
#h3{left:64px;top:477px;}
#h3 i{
background-image:linear-gradient(90deg,#2b92ee 0.5px,#2c8cf2 16.5px,#3479fd 34.5px,#416bfe 48.5px,#4563fd 70.5px,#4367fd 138.5px,#465ffb 199.5px,#4269fe 242.5px,#3776fd 269.5px,#2d8cf3 303.5px,#259be8 336.5px,#259be8 355.5px),
linear-gradient(90deg,#2b91ef 0.5px,#2d8bf3 16.5px,#3579fd 32.5px,#416afe 45.5px,#4660fb 65.5px,#4464fd 138.5px,#475af9 199.5px,#4464fd 240.5px,#3a73fe 268.5px,#2e85f8 293.5px,#259be8 331.5px,#259ce7 355.5px),
linear-gradient(90deg,#2c90f0 0.5px,#2d89f5 16.5px,#3777fd 31.5px,#4269fe 42.5px,#465dfa 61.5px,#465efb 94.5px,#4562fc 136.5px,#4756f7 199.5px,#465ffb 238.5px,#3c72fe 270.5px,#2f83f9 292.5px,#259be8 329.5px,#249de7 355.5px),
linear-gradient(90deg,#2c8df2 0.5px,#2e85f8 16.5px,#3777fd 28.5px,#4268fd 39.5px,#475af8 58.5px,#4759f8 85.5px,#4660fb 132.5px,#4852f4 200.5px,#475bf9 237.5px,#3f6eff 269.5px,#3080fa 291.5px,#269ae8 327.5px,#249ee6 353.5px,#249ee6 355.5px),
linear-gradient(90deg,#2d8af4 0.5px,#3081fa 16.5px,#3975fe 26.5px,#4465fd 38.5px,#4756f6 57.5px,#4755f6 83.5px,#465ffb 130.5px,#484ff2 202.5px,#4758f8 238.5px,#406cfe 270.5px,#3082f9 295.5px,#259ae8 328.5px,#239ee6 354.5px,#249ee6 355.5px),
linear-gradient(90deg,#2e86f7 0.5px,#337bfc 17.5px,#4367fd 32.5px,#4754f5 52.5px,#4850f2 74.5px,#465dfa 130.5px,#4754f5 168.5px,#484cf0 206.5px,#4756f6 241.5px,#416afe 272.5px,#3082f9 297.5px,#259ae8 329.5px,#239ee6 354.5px,#249ee6 355.5px),
linear-gradient(90deg,#3081fa 0.5px,#3677fd 15.5px,#4563fd 31.5px,#4850f2 52.5px,#484df0 74.5px,#465cfa 130.5px,#4755f6 163.5px,#484aee 204.5px,#4851f3 237.5px,#4367fd 272.5px,#3876fd 287.5px,#2e87f7 304.5px,#259be8 333.5px,#249ee6 355.5px),
linear-gradient(90deg,#327cfc 0.5px,#3c71fe 15.5px,#465cf9 33.5px,#484bef 54.5px,#484bee 77.5px,#465cfa 127.5px,#4758f8 157.5px,#4749ec 204.5px,#484df0 236.5px,#4562fc 270.5px,#3b73fe 287.5px,#3081fa 300.5px,#2798ea 329.5px,#249de7 353.5px,#249de7 355.5px),
linear-gradient(90deg,#3677fd 0.5px,#4562fc 23.5px,#484bee 48.5px,#4746ea 69.5px,#465cfa 126.5px,#475af9 154.5px,#4748eb 207.5px,#484cef 238.5px,#4660fb 271.5px,#3c72fe 289.5px,#3081fa 303.5px,#2798ea 331.5px,#259ce7 355.5px),
linear-gradient(90deg,#3b72fe 0.5px,#475bf9 25.5px,#4747ea 50.5px,#4745e8 72.5px,#465cfa 123.5px,#465dfa 150.5px,#4747eb 210.5px,#484aee 240.5px,#465dfa 271.5px,#3c71fe 291.5px,#3180fa 304.5px,#2896eb 331.5px,#259be8 355.5px),
linear-gradient(90deg,#3f6dfe 0.5px,#4756f7 26.5px,#4744e8 50.5px,#4743e7 72.5px,#465dfa 122.5px,#4660fb 149.5px,#484aee 200.5px,#4746ea 231.5px,#4853f4 261.5px,#4268fe 286.5px,#3081fa 308.5px,#2995ec 334.5px,#2699e9 355.5px),
linear-gradient(90deg,#4269fe 0.5px,#4852f4 26.5px,#4742e6 51.5px,#4742e6 72.5px,#465dfa 120.5px,#4563fd 147.5px,#484ff1 193.5px,#4746e9 226.5px,#484df0 255.5px,#4366fd 286.5px,#3875fd 300.5px,#2e86f7 316.5px,#2896eb 341.5px,#2798ea 355.5px),
linear-gradient(90deg,#4366fd 0.5px,#484ef1 28.5px,#4740e4 52.5px,#4742e6 72.5px,#465efb 118.5px,#4367fd 145.5px,#465cf9 174.5px,#4747eb 217.5px,#4748ec 246.5px,#4759f8 275.5px,#3f6eff 296.5px,#317ffb 311.5px,#2b92ee 337.5px,#2896ec 355.5px),
linear-gradient(90deg,#4563fd 0.5px,#4849ed 31.5px,#473fe2 54.5px,#4745e9 78.5px,#4660fb 117.5px,#406bfe 144.5px,#4464fd 167.5px,#4749ec 217.5px,#4747eb 245.5px,#4755f6 273.5px,#416afe 295.5px,#3180fa 315.5px,#2b91ef 341.5px,#2a94ed 355.5px),
linear-gradient(90deg,#4561fc 0.5px,#4743e7 40.5px,#4740e3 61.5px,#484cf0 88.5px,#4366fd 121.5px,#3c71fe 146.5px,#4367fd 170.5px,#484cef 215.5px,#4747eb 244.5px,#4853f4 271.5px,#4269fe 296.5px,#3080fa 318.5px,#2c90f0 344.5px,#2b92ef 355.5px),
linear-gradient(90deg,#465ffb 0.5px,#4743e7 38.5px,#4741e4 60.5px,#484ef1 87.5px,#4269fe 120.5px,#3777fd 145.5px,#3c71fe 163.5px,#475bf9 192.5px,#484aed 227.5px,#484aee 254.5px,#475af9 282.5px,#3f6eff 303.5px,#317efb 319.5px,#2c8ef1 345.5px,#2c8ff0 355.5px),
linear-gradient(90deg,#465dfa 0.5px,#4744e8 36.5px,#4742e6 60.5px,#4851f3 88.5px,#4269fe 116.5px,#327dfc 142.5px,#337bfc 157.5px,#4465fd 185.5px,#484ef1 222.5px,#484aee 250.5px,#4757f7 278.5px,#406cfe 302.5px,#317ffb 322.5px,#2d8cf3 348.5px,#2c8df2 355.5px),
linear-gradient(90deg,#465cfa 0.5px,#4745e9 34.5px,#4743e7 58.5px,#4852f4 86.5px,#4269fe 111.5px,#317ffb 133.5px,#2e86f8 150.5px,#3678fd 171.5px,#4367fd 188.5px,#4851f3 222.5px,#484cef 250.5px,#4757f7 278.5px,#406bfe 303.5px,#317efb 324.5px,#2d8bf4 351.5px,#2d8bf3 355.5px),
linear-gradient(90deg,#475bf9 0.5px,#4746ea 33.5px,#4746ea 58.5px,#4757f7 88.5px,#406dfe 110.5px,#3080fa 127.5px,#2c8ef1 146.5px,#2d88f6 161.5px,#3776fd 179.5px,#4367fd 194.5px,#4852f4 226.5px,#484ef1 254.5px,#475af9 282.5px,#3f6eff 307.5px,#317efb 326.5px,#2d8af5 354.5px,#2d8af4 355.5px),
linear-gradient(90deg,#475af9 0.5px,#4748eb 31.5px,#4748eb 56.5px,#4759f8 86.5px,#406dfe 106.5px,#3080fa 121.5px,#2995ec 142.5px,#2896ec 154.5px,#317ffb 178.5px,#4269fe 197.5px,#4755f6 227.5px,#4851f3 256.5px,#465dfa 285.5px,#3c71fe 311.5px,#317ffb 329.5px,#2d88f6 355.5px),
linear-gradient(90deg,#4759f8 0.5px,#4749ec 29.5px,#484aed 54.5px,#475bf9 84.5px,#3f6eff 102.5px,#3180fa 115.5px,#249de7 140.5px,#23a0e5 152.5px,#2c8ff1 171.5px,#3479fd 188.5px,#416afe 202.5px,#4758f8 231.5px,#4755f6 260.5px,#4563fc 291.5px,#3975fe 315.5px,#3081fa 334.5px,#2d87f6 355.5px),
linear-gradient(90deg,#4758f8 0.5px,#484aed 28.5px,#484cf0 54.5px,#4660fb 85.5px,#3b72fe 101.5px,#2f84f8 113.5px,#249ce7 130.5px,#1babde 146.5px,#1fa6e1 158.5px,#2d8bf3 180.5px,#3776fd 196.5px,#416afe 208.5px,#475af9 236.5px,#4759f8 265.5px,#416afe 299.5px,#317ffb 331.5px,#2e86f7 355.5px),
linear-gradient(90deg,#4757f7 0.5px,#484aee 26.5px,#484ef1 51.5px,#4563fc 83.5px,#3a73fe 97.5px,#2f84f9 108.5px,#2798ea 121.5px,#16aeda 137.5px,#0ab4d1 147.5px,#0eb2d4 155.5px,#21a4e3 169.5px,#2d89f5 187.5px,#3875fd 202.5px,#4269fe 215.5px,#465dfa 244.5px,#4660fb 274.5px,#3c71fe 308.5px,#317ffb 331.5px,#2e86f8 355.5px),
linear-gradient(90deg,#4756f7 0.5px,#484bee 25.5px,#4850f2 50.5px,#4366fd 82.5px,#3a73fe 93.5px,#2e86f7 105.5px,#2797eb 115.5px,#19addc 128.5px,#06b7cc 137.5px,#01bac6 141.5px,#0abcbf 148.5px,#03bac4 155.5px,#03b8c8 158.5px,#13b0d8 167.5px,#1ea7e0 173.5px,#2d8bf4 191.5px,#3876fd 207.5px,#416afe 222.5px,#4561fc 252.5px,#4367fd 284.5px,#3875fd 311.5px,#3081fa 337.5px,#2e86f8 355.5px),
linear-gradient(90deg,#4755f6 0.5px,#484bee 24.5px,#4851f3 49.5px,#4268fd 79.5px,#3875fd 90.5px,#2d88f6 102.5px,#259ce7 113.5px,#16aeda 123.5px,#02b8c8 131.5px,#01bac6 132.5px,#1ec0b2 142.5px,#26c2ad 149.5px,#1ac0b4 157.5px,#02bac5 165.5px,#09b4d0 170.5px,#1baade 177.5px,#2d8cf3 195.5px,#3678fd 211.5px,#406bfe 229.5px,#4366fd 261.5px,#3c71fe 298.5px,#317ffb 328.5px,#2e86f8 355.5px),
linear-gradient(90deg,#4754f5 0.5px,#484bee 23.5px,#4853f4 48.5px,#4269fe 76.5px,#3776fd 87.5px,#2d8bf3 100.5px,#1baade 116.5px,#02b9c8 125.5px,#02bac5 126.5px,#28c3ab 136.5px,#38c897 146.5px,#38c897 151.5px,#26c2ac 162.5px,#01b9c6 172.5px,#1baade 182.5px,#2c8df2 199.5px,#337bfc 214.5px,#3f6dfe 238.5px,#406cfe 272.5px,#3081fa 330.5px,#2e86f7 355.5px),
linear-gradient(90deg,#4852f4 0.5px,#484aee 22.5px,#4753f4 46.5px,#4268fd 72.5px,#3876fd 83.5px,#2d8bf4 96.5px,#1ea7e1 110.5px,#15afd9 114.5px,#02b9c8 120.5px,#02bac4 121.5px,#2ac3a8 130.5px,#50cc80 143.5px,#59cc78 148.5px,#53cc7d 153.5px,#31c6a0 165.5px,#21c1b0 170.5px,#01bac5 177.5px,#14afd9 184.5px,#21a4e3 190.5px,#2d8bf4 205.5px,#3579fd 224.5px,#3d70fe 253.5px,#3777fd 292.5px,#2e86f7 349.5px,#2e86f7 355.5px),
linear-gradient(90deg,#4851f3 0.5px,#484aed 21.5px,#4853f4 44.5px,#4269fe 69.5px,#3776fd 80.5px,#2d8bf3 93.5px,#1baade 108.5px,#01b9c6 116.5px,#2cc4a6 125.5px,#44cb89 132.5px,#6fcc66 141.5px,#80cc59 147.5px,#7fcc5a 151.5px,#68cc6c 158.5px,#3ec990 167.5px,#22c1af 175.5px,#04bac3 181.5px,#01b9c7 182.5px,#1ca9df 191.5px,#2c8df2 208.5px,#327efb 224.5px,#3876fd 254.5px,#327efb 301.5px,#2d87f6 354.5px,#2d87f6 355.5px),
linear-gradient(90deg,#484ff2 0.5px,#4749ec 20.5px,#4852f4 42.5px,#4269fe 67.5px,#3479fd 79.5px,#2c8df2 91.5px,#1aabdd 105.5px,#02b9c7 112.5px,#09bcbf 114.5px,#2ac3a8 120.5px,#47cb87 127.5px,#85cb55 137.5px,#9fc842 143.5px,#aac73a 148.5px,#a3c83f 153.5px,#8bcb50 159.5px,#57cc7a 168.5px,#3fca8e 172.5px,#1fc1b1 180.5px,#04bac3 185.5px,#01b9c7 186.5px,#1babde 194.5px,#2c90f0 210.5px,#3081fa 226.5px,#337bfc 256.5px,#2d88f6 354.5px,#2d88f6 355.5px),
linear-gradient(90deg,#484ef1 0.5px,#4748eb 20.5px,#4753f4 42.5px,#416afe 65.5px,#3080fa 81.5px,#2797ea 93.5px,#1aacdd 102.5px,#01b9c6 109.5px,#29c3a9 116.5px,#43ca8a 122.5px,#8ccb50 132.5px,#afc636 138.5px,#c7c129 145.5px,#cbc029 149.5px,#c3c22c 154.5px,#acc739 160.5px,#81cc58 167.5px,#41ca8c 176.5px,#1ec0b1 184.5px,#02bac5 189.5px,#0bb3d2 193.5px,#1caade 198.5px,#2c90f0 214.5px,#2f83f9 232.5px,#3080fa 269.5px,#2d89f5 350.5px,#2d89f5 355.5px),
linear-gradient(90deg,#484cef 0.5px,#4747ea 19.5px,#4852f3 40.5px,#4268fd 62.5px,#3876fd 72.5px,#2d8af4 84.5px,#20a4e3 96.5px,#17addb 100.5px,#01b9c6 106.5px,#2bc3a7 113.5px,#41ca8c 118.5px,#8bcb51 127.5px,#b5c533 133.5px,#cac129 137.5px,#e0bc2b 144.5px,#e5bb2e 149.5px,#dcbd29 155.5px,#c7c129 161.5px,#a5c83e 167.5px,#66cc6d 175.5px,#40ca8d 180.5px,#21c1b0 187.5px,#03bac4 192.5px,#02b9c7 193.5px,#1baade 201.5px,#2b91ef 217.5px,#2e86f7 236.5px,#2e86f7 280.5px,#2d8bf4 350.5px,#2d8af4 355.5px),
linear-gradient(90deg,#484aee 0.5px,#4745e9 19.5px,#4852f4 40.5px,#4269fe 61.5px,#3677fd 71.5px,#2d8cf3 83.5px,#1caade 96.5px,#02b9c7 103.5px,#0bbcbe 105.5px,#2ac3a8 110.5px,#42ca8b 115.5px,#89cb52 123.5px,#b2c535 128.5px,#c6c22a 131.5px,#debc2a 136.5px,#f2ba37 143.5px,#f6bb39 150.5px,#ecba33 157.5px,#dcbd29 162.5px,#c9c129 166.5px,#a7c73c 171.5px,#63cc70 179.5px,#42ca8b 183.5px,#21c1b0 190.5px,#03bac4 195.5px,#05b7cb 197.5px,#1baade 204.5px,#2a93ed 219.5px,#2d89f5 238.5px,#2d8bf3 297.5px,#2d8bf3 355.5px),
linear-gradient(90deg,#4749ec 0.5px,#4744e8 18.5px,#4850f2 38.5px,#4268fd 59.5px,#3776fd 69.5px,#2d8cf3 81.5px,#1baade 94.5px,#01b9c6 101.5px,#2dc4a5 108.5px,#41ca8c 112.5px,#82cc58 119.5px,#afc636 124.5px,#c6c22a 127.5px,#ddbd29 131.5px,#f3ba38 137.5px,#febe3c 144.5px,#fec03b 151.5px,#fabc3b 157.5px,#ebbb33 163.5px,#dabd29 167.5px,#c9c129 170.5px,#acc738 174.5px,#63cc70 182.5px,#41ca8c 186.5px,#25c2ad 192.5px,#01b9c6 198.5px,#1aabdd 206.5px,#2797ea 219.5px,#2d8cf2 237.5px,#2c8ff1 300.5px,#2c8df2 355.5px),
linear-gradient(90deg,#4747eb 0.5px,#4743e7 18.5px,#4850f2 38.5px,#4269fe 59.5px,#3579fd 69.5px,#2c8df2 80.5px,#1caade 92.5px,#04b7ca 98.5px,#01b9c6 99.5px,#29c3a9 105.5px,#43cb8a 110.5px,#89cb52 117.5px,#afc636 121.5px,#c7c129 124.5px,#e0bc2b 128.5px,#f5bb39 133.5px,#febd3d 137.5px,#feca33 147.5px,#fec537 156.5px,#fdbd3d 161.5px,#ecba33 167.5px,#debc29 170.5px,#c4c22b 174.5px,#a3c83f 178.5px,#5fcc73 185.5px,#3ec990 189.5px,#20c1b0 195.5px,#02bac5 200.5px,#13afd8 206.5px,#1da8e0 210.5px,#2995ec 225.5px,#2c8ef1 247.5px,#2b91ef 333.5px,#2c8ef1 355.5px),
linear-gradient(90deg,#4746ea 0.5px,#4742e6 17.5px,#484ef1 36.5px,#4268fd 58.5px,#3777fd 67.5px,#2d8cf3 78.5px,#1da9df 90.5px,#05b7cb 96.5px,#02b9c7 97.5px,#0cbcbe 99.5px,#2dc4a4 104.5px,#43cb8a 108.5px,#8bcb50 115.5px,#b3c534 119.5px,#ccc029 122.5px,#e0bc2b 125.5px,#f3ba38 129.5px,#febd3d 133.5px,#fccf31 143.5px,#fbd22f 151.5px,#fec537 161.5px,#fdbd3d 165.5px,#edba34 170.5px,#debd29 173.5px,#cac129 176.5px,#a8c73c 180.5px,#61cc72 187.5px,#3fca8f 191.5px,#20c1b0 197.5px,#02bac5 202.5px,#1aacdd 210.5px,#259be8 221.5px,#2b91ef 238.5px,#2a92ee 332.5px,#2c8ff1 355.5px),
linear-gradient(90deg,#4745e9 0.5px,#4741e5 17.5px,#484df0 36.5px,#4268fd 57.5px,#3777fd 66.5px,#2d8cf3 77.5px,#1ca9df 89.5px,#04b8ca 95.5px,#01bac5 96.5px,#2bc4a7 102.5px,#41ca8c 106.5px,#7fcc5a 112.5px,#b3c534 117.5px,#c5c22a 119.5px,#dcbd29 122.5px,#f5bb39 127.5px,#febd3d 130.5px,#fbd130 139.5px,#f8d82c 149.5px,#fcd030 159.5px,#fdbd3d 168.5px,#ebbb32 173.5px,#d9be29 176.5px,#c3c22c 179.5px,#9ec943 183.5px,#56cc7b 190.5px,#43ca8a 192.5px,#25c2ad 198.5px,#01b9c6 204.5px,#18addb 211.5px,#239fe6 220.5px,#2a94ed 236.5px,#2994ed 329.5px,#2c8ff0 355.5px),
linear-gradient(90deg,#4744e8 0.5px,#4740e3 16.5px,#484bef 34.5px,#4465fd 55.5px,#3974fe 64.5px,#2e85f8 73.5px,#2797ea 81.5px,#1aacdd 89.5px,#03b8c9 94.5px,#02bac4 95.5px,#27c2ac 100.5px,#43ca8a 105.5px,#8fca4d 112.5px,#b9c431 116.5px,#cbc129 118.5px,#e1bc2b 121.5px,#f5bb39 125.5px,#febe3c 128.5px,#fad32f 137.5px,#f7dc2a 148.5px,#fad52d 159.5px,#fec239 168.5px,#fdbd3d 170.5px,#eabb32 175.5px,#dfbc2a 177.5px,#c9c129 180.5px,#a4c83f 184.5px,#59cc78 191.5px,#3fca8e 194.5px,#20c1b0 200.5px,#01bac5 205.5px,#17aedb 212.5px,#23a0e5 221.5px,#2995ec 237.5px,#2896eb 325.5px,#2c90f0 355.5px),
linear-gradient(90deg,#4743e7 0.5px,#473fe2 16.5px,#484bee 34.5px,#4465fd 55.5px,#3975fe 64.5px,#2e87f7 73.5px,#2699e9 81.5px,#1aacdd 88.5px,#01bac5 94.5px,#2cc4a6 100.5px,#43ca8b 104.5px,#84cb56 110.5px,#b1c636 114.5px,#c4c22b 116.5px,#dcbd29 119.5px,#f3ba38 123.5px,#fdbd3d 126.5px,#fad32e 135.5px,#f7dd2a 145.5px,#f8db2b 157.5px,#fdcc32 166.5px,#fcbc3c 172.5px,#ecba33 176.5px,#d9bd29 179.5px,#cac129 181.5px,#afc637 184.5px,#64cc6f 191.5px,#3fca8f 195.5px,#1fc1b1 201.5px,#01b9c6 206.5px,#17addb 213.5px,#23a0e5 222.5px,#2995ec 238.5px,#2797ea 322.5px,#2b91ef 355.5px),
linear-gradient(90deg,#4743e6 0.5px,#473fe1 15.5px,#4748ec 32.5px,#4464fd 54.5px,#3a73fe 63.5px,#2e85f8 72.5px,#2797ea 80.5px,#19addc 88.5px,#03b8c8 93.5px,#04bac3 94.5px,#29c3aa 99.5px,#3fca8f 103.5px,#67cc6c 107.5px,#acc738 113.5px,#c9c129 116.5px,#e0bc2b 119.5px,#f5bb39 123.5px,#febf3b 126.5px,#fad42e 134.5px,#f7de29 144.5px,#f7dc2a 157.5px,#fcce31 166.5px,#febe3d 172.5px,#f0ba36 176.5px,#debc29 179.5px,#c7c12a 182.5px,#a0c841 186.5px,#5ecc74 192.5px,#42ca8c 195.5px,#22c1af 201.5px,#03bac4 206.5px,#05b7cc 208.5px,#1babde 215.5px,#259be8 227.5px,#2995ec 246.5px,#2799e9 316.5px,#2b91ef 355.5px),
linear-gradient(90deg,#4742e6 0.5px,#463ee1 15.5px,#4748ec 32.5px,#4464fd 54.5px,#3a73fe 63.5px,#2e85f8 72.5px,#2797eb 80.5px,#1aacdd 88.5px,#03b8c9 93.5px,#02bac4 94.5px,#28c2ab 99.5px,#45cb89 104.5px,#87cb53 110.5px,#b3c534 114.5px,#c7c12a 116.5px,#debc29 119.5px,#f4bb39 123.5px,#febe3c 126.5px,#fad32f 134.5px,#f7de29 144.5px,#f7dd2a 156.5px,#fcd030 165.5px,#fdbd3d 172.5px,#eeba35 176.5px,#dbbd29 179.5px,#c3c22b 182.5px,#a7c73d 185.5px,#5bcc77 192.5px,#40ca8e 195.5px,#20c1b0 201.5px,#01bac5 206.5px,#17addb 213.5px,#23a0e5 222.5px,#2995ec 238.5px,#2799e9 319.5px,#2b91ef 355.5px),
linear-gradient(90deg,#4742e6 0.5px,#463ee1 15.5px,#4748ec 32.5px,#4464fd 54.5px,#3974fe 64.5px,#2e86f7 73.5px,#2798ea 81.5px,#1babde 88.5px,#02b9c7 94.5px,#05bbc2 95.5px,#29c3a9 100.5px,#3fca8e 104.5px,#72cc64 109.5px,#abc739 114.5px,#c8c129 117.5px,#dfbc2a 120.5px,#f4bb39 124.5px,#febe3c 127.5px,#fbd22f 135.5px,#f7de29 145.5px,#f8db2b 156.5px,#fdcc32 165.5px,#fcbd3c 171.5px,#edba34 175.5px,#dbbd29 178.5px,#c3c22b 181.5px,#a7c73c 184.5px,#5ccc76 191.5px,#40ca8d 194.5px,#21c1b0 200.5px,#02bac5 205.5px,#17aedb 212.5px,#22a1e5 220.5px,#2995ec 235.5px,#2897eb 270.5px,#2798ea 320.5px,#2b91ef 355.5px),
linear-gradient(90deg,#4742e6 0.5px,#463ee1 15.5px,#4748ec 32.5px,#4465fd 55.5px,#3a74fe 64.5px,#2e85f8 73.5px,#2897eb 81.5px,#1babdd 89.5px,#02b9c7 95.5px,#0dbdbd 97.5px,#29c3a9 101.5px,#3fca8f 105.5px,#66cc6e 109.5px,#a8c73b 115.5px,#c4c22b 118.5px,#dcbd29 121.5px,#f2ba38 125.5px,#febf3c 129.5px,#fad32e 138.5px,#f7dc2a 148.5px,#fad52d 158.5px,#fec239 167.5px,#fdbd3d 169.5px,#e9bb31 174.5px,#debd29 176.5px,#c8c129 179.5px,#a3c83f 183.5px,#59cc79 190.5px,#3fca8f 193.5px,#1fc1b1 199.5px,#01b9c6 204.5px,#18addb 211.5px,#239fe6 220.5px,#2a94ed 236.5px,#2797ea 280.5px,#2797ea 327.5px,#2b91ef 355.5px),
linear-gradient(90deg,#4743e7 0.5px,#473fe2 15.5px,#4748ec 32.5px,#4464fd 55.5px,#3974fe 65.5px,#2d88f6 75.5px,#2699e9 83.5px,#1babde 90.5px,#02b9c8 96.5px,#04bac3 97.5px,#28c2ab 102.5px,#43ca8a 107.5px,#8ccb50 114.5px,#b5c533 118.5px,#c7c129 120.5px,#ddbd29 123.5px,#f5bb39 128.5px,#febe3c 131.5px,#fbd130 140.5px,#f8d82c 149.5px,#fcce31 159.5px,#fcbc3c 167.5px,#eeba35 171.5px,#debd29 174.5px,#c8c129 177.5px,#a5c83e 181.5px,#5ccc76 188.5px,#41ca8c 191.5px,#22c1af 197.5px,#03bac4 202.5px,#05b7cc 204.5px,#1baade 211.5px,#2798ea 224.5px,#2b91ef 242.5px,#2798ea 314.5px,#2b91ef 355.5px),
linear-gradient(90deg,#4743e7 0.5px,#473fe3 16.5px,#484aee 34.5px,#4465fd 56.5px,#3a73fe 65.5px,#2f84f8 74.5px,#2897eb 83.5px,#19addc 92.5px,#04b8c9 97.5px,#01bac5 98.5px,#2ac3a8 104.5px,#3fca8f 108.5px,#63cc70 112.5px,#acc739 119.5px,#c5c22a 122.5px,#e1bc2b 126.5px,#f3ba38 130.5px,#febe3c 134.5px,#fccf30 144.5px,#fbd130 151.5px,#fec239 161.5px,#fbbc3c 164.5px,#eabb32 169.5px,#dabd29 172.5px,#c6c22a 175.5px,#a3c83f 179.5px,#5ccc76 186.5px,#41ca8c 189.5px,#23c1ae 195.5px,#04bac3 200.5px,#02b9c7 201.5px,#1aacdd 208.5px,#259ae8 219.5px,#2c90f0 235.5px,#2a93ed 272.5px,#2897eb 319.5px,#2c90ef 355.5px),
linear-gradient(90deg,#4744e8 0.5px,#4740e4 17.5px,#484df0 36.5px,#4268fd 58.5px,#3677fd 68.5px,#2d8cf3 79.5px,#1ca9df 92.5px,#06b6cc 98.5px,#02b8c8 99.5px,#04bac3 100.5px,#2bc4a7 106.5px,#46cb88 111.5px,#8bcb51 118.5px,#b1c636 122.5px,#c8c129 125.5px,#e1bc2b 129.5px,#f5bb39 134.5px,#febe3d 138.5px,#fec934 147.5px,#fec438 155.5px,#fbbc3c 160.5px,#eeba35 165.5px,#dabd29 169.5px,#c7c129 172.5px,#a7c73d 176.5px,#63cc70 183.5px,#40ca8d 187.5px,#22c1af 193.5px,#03bac4 198.5px,#05b7cc 200.5px,#1caadf 207.5px,#2994ed 222.5px,#2d8cf3 240.5px,#2896eb 314.5px,#2c90f0 355.5px),
linear-gradient(90deg,#4746e9 0.5px,#4741e5 17.5px,#484df0 36.5px,#4367fd 58.5px,#3974fe 67.5px,#2d87f6 78.5px,#269ae9 87.5px,#19acdc 95.5px,#02b9c7 101.5px,#0bbcbe 103.5px,#2bc3a7 108.5px,#44cb89 113.5px,#8fcb4e 121.5px,#b1c635 125.5px,#c7c129 128.5px,#debc29 132.5px,#f4ba38 138.5px,#febe3c 145.5px,#febe3c 151.5px,#f5bb39 158.5px,#e5bb2e 163.5px,#d7be29 166.5px,#c5c22b 169.5px,#a6c73d 173.5px,#5ccc76 181.5px,#43ca8b 184.5px,#26c2ac 190.5px,#01bac5 196.5px,#19addc 203.5px,#259ce7 212.5px,#2c8df2 227.5px,#2d8af5 249.5px,#2995ec 311.5px,#2c8ff0 355.5px),
linear-gradient(90deg,#4747eb 0.5px,#4743e7 18.5px,#4850f2 38.5px,#4268fd 59.5px,#3678fd 70.5px,#2c8cf2 82.5px,#1baade 96.5px,#02b9c7 103.5px,#0abcbf 105.5px,#29c3a9 110.5px,#40ca8d 115.5px,#85cb55 123.5px,#b5c533 129.5px,#c8c129 132.5px,#dfbc2a 137.5px,#f2ba37 144.5px,#f4bb38 150.5px,#eabb32 156.5px,#d9be29 161.5px,#c5c22b 165.5px,#aac73a 169.5px,#6ecc67 176.5px,#44cb8a 181.5px,#22c1af 188.5px,#03bac4 193.5px,#02b9c8 194.5px,#1aabdd 201.5px,#2995ec 214.5px,#2d88f6 230.5px,#2d88f6 256.5px,#2a93ed 310.5px,#2c8ef1 355.5px),
linear-gradient(90deg,#4749ec 0.5px,#4744e8 18.5px,#4850f2 38.5px,#4269fe 60.5px,#3180fa 76.5px,#2797eb 89.5px,#19addc 99.5px,#03b8c8 105.5px,#02bac4 106.5px,#2bc4a7 113.5px,#41ca8c 118.5px,#88cb53 127.5px,#b3c534 133.5px,#c8c129 137.5px,#debc29 144.5px,#e2bc2c 149.5px,#d7be29 155.5px,#c4c22b 160.5px,#a7c73c 165.5px,#71cc64 172.5px,#42ca8b 178.5px,#22c1af 185.5px,#04bac3 190.5px,#02b9c7 191.5px,#1caade 199.5px,#2c8ff1 215.5px,#2f83f9 232.5px,#2e85f8 259.5px,#2b92ee 311.5px,#2c8df2 355.5px),
linear-gradient(90deg,#484aee 0.5px,#4746ea 19.5px,#4853f4 40.5px,#4169fe 61.5px,#3081fa 78.5px,#2798ea 91.5px,#19acdc 101.5px,#01b9c6 108.5px,#2bc4a7 116.5px,#45cb88 122.5px,#8dcb4f 132.5px,#afc637 138.5px,#c4c22b 144.5px,#c9c129 149.5px,#bfc32e 154.5px,#a5c83e 160.5px,#7fcc5a 166.5px,#3fca8f 175.5px,#21c1b0 182.5px,#04bac3 187.5px,#02b9c7 188.5px,#1caade 196.5px,#2c8ef1 212.5px,#3081fa 227.5px,#317ffb 250.5px,#2c90f0 310.5px,#2c8cf2 355.5px),
linear-gradient(90deg,#484cf0 0.5px,#4748eb 19.5px,#4753f5 40.5px,#4269fe 61.5px,#3081fa 79.5px,#2798ea 93.5px,#1aacdd 103.5px,#03b8c9 110.5px,#01bac5 111.5px,#2ac3a8 119.5px,#46cb88 126.5px,#88cb53 137.5px,#a1c841 143.5px,#aac73a 148.5px,#a1c841 153.5px,#87cb53 159.5px,#44cb8a 170.5px,#23c1ae 178.5px,#02bac4 184.5px,#08b5cf 187.5px,#1caadf 193.5px,#2c8df2 209.5px,#317efb 224.5px,#337afd 245.5px,#2c8ef1 311.5px,#2d8bf3 355.5px),
linear-gradient(90deg,#484ef1 0.5px,#484aed 20.5px,#4756f6 42.5px,#416bfe 63.5px,#2f82f9 81.5px,#2798ea 95.5px,#18addc 106.5px,#03b8c8 113.5px,#01bac5 114.5px,#28c3aa 122.5px,#48cb86 131.5px,#72cc63 140.5px,#84cb56 146.5px,#84cb56 150.5px,#71cc64 156.5px,#3dc992 167.5px,#24c2ae 174.5px,#01b9c6 181.5px,#1ca9df 190.5px,#2d8cf3 206.5px,#337bfc 222.5px,#3875fd 242.5px,#2d88f6 292.5px,#2c8df2 331.5px,#2d8af4 355.5px),
linear-gradient(90deg,#4851f3 0.5px,#484cef 20.5px,#4757f7 42.5px,#406cfe 64.5px,#2f82f9 82.5px,#2897eb 96.5px,#1aacdd 108.5px,#01b9c6 117.5px,#2ac3a8 127.5px,#4bcb84 138.5px,#5ecc74 145.5px,#61cc72 149.5px,#50cc80 156.5px,#32c69e 165.5px,#22c1af 170.5px,#01bac5 177.5px,#15aeda 184.5px,#22a1e5 191.5px,#2d8bf3 203.5px,#3578fd 219.5px,#3d71fe 238.5px,#3578fd 265.5px,#2d8af5 306.5px,#2d8af4 351.5px,#2d8af5 355.5px),
linear-gradient(90deg,#4753f4 0.5px,#484ef1 21.5px,#4759f8 44.5px,#3f6eff 66.5px,#3081fa 82.5px,#2799e9 99.5px,#1aacdd 111.5px,#02b9c7 120.5px,#02bac5 121.5px,#2ac3a8 132.5px,#3fca8e 144.5px,#41ca8c 150.5px,#31c69f 159.5px,#22c1af 165.5px,#00bac6 173.5px,#1caade 183.5px,#2c8cf2 199.5px,#347afd 213.5px,#3f6dfe 231.5px,#3e6ffe 254.5px,#3081fa 287.5px,#2d8af4 322.5px,#2d89f5 355.5px),
linear-gradient(90deg,#4755f6 0.5px,#4850f3 22.5px,#465cfa 46.5px,#3e70fe 67.5px,#3080fa 82.5px,#2797ea 100.5px,#19acdc 114.5px,#02b9c7 124.5px,#01bac5 125.5px,#26c2ac 137.5px,#30c6a0 147.5px,#2cc4a6 154.5px,#22c1af 159.5px,#02bac4 168.5px,#06b6cc 171.5px,#1da9df 180.5px,#2c8cf2 196.5px,#3579fd 210.5px,#406cfe 225.5px,#4269fe 246.5px,#3a73fe 269.5px,#3180fa 291.5px,#2d89f5 325.5px,#2d88f6 355.5px),
linear-gradient(90deg,#4758f8 0.5px,#4852f4 22.5px,#465dfa 46.5px,#3c71fe 68.5px,#3081fa 83.5px,#2798ea 102.5px,#1aacdd 117.5px,#03b8c9 128.5px,#01bac5 130.5px,#1cc0b3 142.5px,#20c1b0 149.5px,#12beb9 157.5px,#01bac5 163.5px,#11b1d6 171.5px,#1da8e0 177.5px,#2d8bf4 194.5px,#3876fd 209.5px,#416afe 222.5px,#4465fd 243.5px,#3c71fe 271.5px,#317ffb 293.5px,#2d88f6 327.5px,#2e87f7 355.5px),
linear-gradient(90deg,#475af9 0.5px,#4755f6 23.5px,#4660fb 48.5px,#3b73fe 69.5px,#2f83f9 85.5px,#2798ea 104.5px,#18addc 121.5px,#04b7ca 133.5px,#02bac5 137.5px,#0dbdbd 147.5px,#06bbc2 154.5px,#01b9c6 157.5px,#12b0d7 167.5px,#1ea6e1 174.5px,#2d8bf3 191.5px,#3776fd 206.5px,#416afe 218.5px,#4561fc 238.5px,#4269fe 262.5px,#347afd 288.5px,#2e86f7 322.5px,#2e86f7 355.5px),
linear-gradient(90deg,#465dfa 0.5px,#4757f7 24.5px,#4563fc 50.5px,#3a73fe 69.5px,#2f83f9 85.5px,#2699e9 106.5px,#18addb 125.5px,#08b5ce 137.5px,#03b8c9 149.5px,#0eb2d4 160.5px,#1da8e0 169.5px,#2d8bf4 189.5px,#3876fd 204.5px,#4269fe 216.5px,#465ffb 236.5px,#4464fd 259.5px,#3a74fe 282.5px,#317ffb 301.5px,#2e86f7 337.5px,#2e86f8 355.5px),
linear-gradient(90deg,#465ffb 0.5px,#475af9 25.5px,#4465fd 51.5px,#3a73fe 68.5px,#2f84f9 85.5px,#2799e9 107.5px,#16aeda 131.5px,#0bb4d2 145.5px,#0fb1d5 154.5px,#20a4e2 168.5px,#2d89f5 188.5px,#3876fd 202.5px,#4269fe 214.5px,#465dfa 235.5px,#4562fc 258.5px,#3a73fe 284.5px,#317ffb 304.5px,#2e86f8 341.5px,#2e85f8 355.5px),
linear-gradient(90deg,#4562fc 0.5px,#465dfa 26.5px,#4268fd 52.5px,#3876fd 69.5px,#2d88f6 89.5px,#22a2e4 119.5px,#14afd9 142.5px,#16aeda 152.5px,#259ae8 173.5px,#2e87f7 188.5px,#3876fd 201.5px,#4268fd 213.5px,#465cfa 234.5px,#465ffb 256.5px,#3b72fe 284.5px,#327efb 304.5px,#2e85f8 341.5px,#2e85f8 355.5px),
linear-gradient(90deg,#4464fd 0.5px,#465ffb 27.5px,#416bfe 54.5px,#2f83f9 82.5px,#259ce7 113.5px,#1aabdd 141.5px,#1da8e0 156.5px,#2c8df2 182.5px,#3777fd 199.5px,#4269fe 211.5px,#465cf9 232.5px,#465efa 254.5px,#3d70fe 283.5px,#327dfb 305.5px,#2e85f8 342.5px,#2e84f8 355.5px),
linear-gradient(90deg,#4366fd 0.5px,#4562fc 28.5px,#3f6eff 56.5px,#3080fa 78.5px,#21a3e3 125.5px,#1da8e0 148.5px,#269ae9 169.5px,#337afd 196.5px,#416afe 210.5px,#465cf9 232.5px,#465efa 254.5px,#3d70fe 283.5px,#327dfb 306.5px,#2e85f8 344.5px,#2f84f8 355.5px),
linear-gradient(90deg,#4269fe 0.5px,#4465fd 29.5px,#3c71fe 57.5px,#2f83f9 79.5px,#22a1e5 123.5px,#1fa6e1 147.5px,#2798ea 169.5px,#347afd 196.5px,#416afe 210.5px,#465cfa 232.5px,#465efa 254.5px,#3d70fe 284.5px,#327dfb 307.5px,#2e85f8 345.5px,#2f84f8 355.5px),
linear-gradient(90deg,#416bfe 0.5px,#4268fd 30.5px,#3b72fe 55.5px,#2e85f8 80.5px,#23a0e5 121.5px,#20a4e3 146.5px,#2897eb 169.5px,#3479fd 197.5px,#4269fe 212.5px,#465dfa 234.5px,#4660fb 257.5px,#3b73fe 287.5px,#317efb 309.5px,#2e85f8 347.5px,#2e84f8 355.5px),
linear-gradient(90deg,#3f6efe 0.5px,#416bfe 31.5px,#3a74fe 54.5px,#2e87f7 81.5px,#239fe5 121.5px,#21a3e4 147.5px,#2a93ed 172.5px,#347afd 197.5px,#416afe 213.5px,#465efb 235.5px,#4562fc 259.5px,#3a74fe 288.5px,#317ffb 310.5px,#2e85f8 347.5px,#2e85f8 355.5px),
linear-gradient(90deg,#3d70fe 0.5px,#3f6efe 32.5px,#327dfc 64.5px,#249ee6 117.5px,#21a2e4 144.5px,#2896eb 168.5px,#3578fd 199.5px,#416afe 215.5px,#4660fb 238.5px,#4366fd 264.5px,#3777fd 292.5px,#2f84f8 326.5px,#2e85f8 355.5px),
linear-gradient(90deg,#3b72fe 0.5px,#3d70fe 33.5px,#3081fa 68.5px,#239ee6 118.5px,#22a1e4 145.5px,#2a93ed 171.5px,#3579fd 200.5px,#416afe 217.5px,#4562fc 240.5px,#416afe 268.5px,#317ffb 308.5px,#2e86f7 344.5px,#2e86f8 355.5px),
linear-gradient(90deg,#3974fe 0.5px,#3a73fe 34.5px,#2e86f8 73.5px,#239fe6 118.5px,#22a1e5 146.5px,#2b91ef 174.5px,#347afd 200.5px,#416bfe 219.5px,#4464fd 243.5px,#3d70fe 276.5px,#317ffb 306.5px,#2d87f6 342.5px,#2e86f7 355.5px),
linear-gradient(90deg,#3776fd 0.5px,#3777fd 36.5px,#2d89f5 76.5px,#239fe6 120.5px,#239fe5 148.5px,#2c8ef2 178.5px,#3578fd 203.5px,#416bfe 223.5px,#4367fd 248.5px,#3a73fe 279.5px,#3080fa 309.5px,#2d88f6 343.5px,#2e87f7 355.5px),
linear-gradient(90deg,#3578fd 0.5px,#347afd 38.5px,#2d8cf3 79.5px,#239fe6 121.5px,#239fe6 149.5px,#2d8af4 182.5px,#3776fd 207.5px,#406bfe 227.5px,#416bfe 254.5px,#2f83f9 312.5px,#2d89f5 344.5px,#2d88f6 355.5px),
linear-gradient(90deg,#337afd 0.5px,#327dfc 41.5px,#2c8df2 80.5px,#239fe6 123.5px,#249de7 151.5px,#2e85f8 189.5px,#3f6eff 223.5px,#406cfe 251.5px,#2f83f9 312.5px,#2d8bf4 343.5px,#2d89f5 355.5px),
linear-gradient(90deg,#327cfc 0.5px,#3180fa 45.5px,#2a93ee 90.5px,#239fe5 128.5px,#269ae8 156.5px,#337afd 203.5px,#3f6efe 231.5px,#3c71fe 263.5px,#2e85f8 314.5px,#2d8cf3 343.5px,#2d8af4 355.5px),
linear-gradient(90deg,#327efb 0.5px,#2f83f9 49.5px,#2798ea 101.5px,#239fe6 135.5px,#2995ec 163.5px,#337bfd 202.5px,#3e6ffe 230.5px,#3a73fe 264.5px,#2d88f6 318.5px,#2c8df2 345.5px,#2d8bf4 355.5px),
linear-gradient(90deg,#317ffa 0.5px,#2e87f7 55.5px,#2798ea 103.5px,#249de7 137.5px,#2a93ee 165.5px,#337afd 201.5px,#3e70fe 229.5px,#3975fe 265.5px,#2d89f5 319.5px,#2c8ef1 345.5px,#2d8cf3 355.5px),
linear-gradient(90deg,#3081fa 0.5px,#2d8af4 64.5px,#249de7 126.5px,#2797ea 154.5px,#347afd 200.5px,#3e70fe 228.5px,#3776fd 267.5px,#2d8af5 318.5px,#2c8ff0 343.5px,#2c8df2 355.5px),
linear-gradient(90deg,#2f83f9 0.5px,#2c8ef1 75.5px,#259be8 128.5px,#2995ec 156.5px,#347afd 197.5px,#3e6ffe 225.5px,#3875fd 263.5px,#2d89f5 316.5px,#2c90ef 342.5px,#2c8df2 355.5px),
linear-gradient(90deg,#2f84f8 0.5px,#2b91ef 84.5px,#269ae8 131.5px,#2b91ef 160.5px,#3479fd 194.5px,#3f6eff 221.5px,#3a73fe 255.5px,#2d88f6 312.5px,#2b91ef 340.5px,#2c8ef1 355.5px),
linear-gradient(90deg,#2e85f8 0.5px,#2a93ed 94.5px,#2798ea 134.5px,#2c8df2 163.5px,#3578fd 192.5px,#406dfe 217.5px,#3d71fe 249.5px,#3081fa 297.5px,#2b91ef 338.5px,#2c8ef1 355.5px),
linear-gradient(90deg,#2e86f7 0.5px,#2995ec 105.5px,#2896ec 140.5px,#2e86f7 170.5px,#3a74fe 195.5px,#406bfe 216.5px,#3e70fe 247.5px,#317ffa 292.5px,#2b91ef 338.5px,#2c8ef1 355.5px),
linear-gradient(90deg,#2e87f7 0.5px,#2995ec 134.5px,#2d8af4 162.5px,#3777fd 188.5px,#406cfe 208.5px,#416bfe 235.5px,#3080fa 294.5px,#2b91ef 338.5px,#2c8ef1 355.5px),
linear-gradient(90deg,#2d88f6 0.5px,#2a93ed 134.5px,#2d87f6 163.5px,#3876fd 187.5px,#416bfe 206.5px,#416afe 232.5px,#3578fd 270.5px,#2d8bf3 319.5px,#2b91ef 343.5px,#2c8df2 355.5px),
linear-gradient(90deg,#2d88f6 0.5px,#2b92ee 135.5px,#2e85f8 165.5px,#3875fd 186.5px,#416afe 205.5px,#4269fe 231.5px,#3776fd 265.5px,#2d8bf4 319.5px,#2c90f0 344.5px,#2c8df2 355.5px),
linear-gradient(90deg,#2d88f6 0.5px,#2c90ef 135.5px,#2f84f9 165.5px,#3974fe 186.5px,#416afe 206.5px,#416afe 233.5px,#317ffb 290.5px,#2c8ff0 339.5px,#2d8cf3 355.5px),
linear-gradient(90deg,#2d87f6 0.5px,#2c8ff1 136.5px,#3081f9 167.5px,#416bfe 204.5px,#416afe 231.5px,#317ffb 289.5px,#2c8ef1 340.5px,#2d8bf3 355.5px),
linear-gradient(90deg,#2e87f7 0.5px,#2c8df2 137.5px,#317ffa 170.5px,#406cfe 206.5px,#406dfe 235.5px,#317efb 286.5px,#2c8df2 340.5px,#2d8af4 355.5px),
linear-gradient(90deg,#2e86f7 0.5px,#2d8cf3 138.5px,#327efb 173.5px,#406dfe 208.5px,#3d70fe 239.5px,#327efb 284.5px,#2d8bf3 341.5px,#2d89f5 355.5px);
background-position:0 0px,0 4px,0 8px,0 12px,0 16px,0 20px,0 24px,0 28px,0 32px,0 36px,0 40px,0 44px,0 48px,0 52px,0 56px,0 60px,0 64px,0 68px,0 72px,0 76px,0 80px,0 84px,0 88px,0 92px,0 96px,0 100px,0 104px,0 108px,0 112px,0 116px,0 120px,0 124px,0 128px,0 132px,0 136px,0 140px,0 144px,0 148px,0 152px,0 156px,0 160px,0 164px,0 168px,0 172px,0 176px,0 180px,0 184px,0 188px,0 192px,0 196px,0 200px,0 204px,0 208px,0 212px,0 216px,0 220px,0 224px,0 228px,0 232px,0 236px,0 240px,0 244px,0 248px,0 252px,0 256px,0 260px,0 264px,0 268px,0 272px,0 276px,0 280px,0 284px,0 288px,0 292px,0 296px,0 300px,0 304px,0 308px,0 312px,0 316px,0 320px,0 324px,0 328px,0 332px,0 336px;
background-size:100% 4px,100% 4px,100% 4px,100% 4px,100% 4px,100% 4px,100% 4px,100% 4px,100% 4px,100% 4px,100% 4px,100% 4px,100% 4px,100% 4px,100% 4px,100% 4px,100% 4px,100% 4px,100% 4px,100% 4px,100% 4px,100% 4px,100% 4px,100% 4px,100% 4px,100% 4px,100% 4px,100% 4px,100% 4px,100% 4px,100% 4px,100% 4px,100% 4px,100% 4px,100% 4px,100% 4px,100% 4px,100% 4px,100% 4px,100% 4px,100% 4px,100% 4px,100% 4px,100% 4px,100% 4px,100% 4px,100% 4px,100% 4px,100% 4px,100% 4px,100% 4px,100% 4px,100% 4px,100% 4px,100% 4px,100% 4px,100% 4px,100% 4px,100% 4px,100% 4px,100% 4px,100% 4px,100% 4px,100% 4px,100% 4px,100% 4px,100% 4px,100% 4px,100% 4px,100% 4px,100% 4px,100% 4px,100% 4px,100% 4px,100% 4px,100% 4px,100% 4px,100% 4px,100% 4px,100% 4px,100% 4px,100% 4px,100% 4px,100% 4px,100% 4px;
background-repeat:no-repeat;}
#h4{left:596px;top:477px;}
#h4 i{
background-image:linear-gradient(90deg,#406dfe 0.5px,#4757f7 27.5px,#4851f3 48.5px,#465cf9 71.5px,#3a73fe 104.5px,#337afd 135.5px,#347afd 209.5px,#2d89f5 273.5px,#259ce7 330.5px,#259be8 355.5px),
linear-gradient(90deg,#416afe 0.5px,#4852f3 26.5px,#484aed 46.5px,#4753f4 67.5px,#406cfe 96.5px,#3678fd 123.5px,#3579fd 211.5px,#2d89f5 273.5px,#249ee6 329.5px,#249de7 355.5px),
linear-gradient(90deg,#4367fd 0.5px,#484bee 27.5px,#4743e7 45.5px,#484bee 64.5px,#4465fd 92.5px,#3875fd 118.5px,#3777fd 156.5px,#3677fd 210.5px,#2d88f5 270.5px,#23a0e5 326.5px,#239fe5 355.5px),
linear-gradient(90deg,#4563fd 0.5px,#484aed 22.5px,#463ddf 40.5px,#463ee1 54.5px,#4851f3 76.5px,#4269fe 99.5px,#3876fd 124.5px,#3974fe 173.5px,#3579fd 223.5px,#2d8bf3 275.5px,#22a1e4 324.5px,#22a1e4 355.5px),
linear-gradient(90deg,#4660fb 0.5px,#4747eb 20.5px,#4538d7 38.5px,#4537d6 51.5px,#4746e9 70.5px,#465efb 91.5px,#3c72fe 115.5px,#3777fd 146.5px,#3975fe 203.5px,#2e85f8 260.5px,#2798ea 297.5px,#20a5e2 333.5px,#21a3e3 355.5px),
linear-gradient(90deg,#465efa 0.5px,#4745e8 18.5px,#4434cf 35.5px,#4332c8 46.5px,#4435d1 57.5px,#484aee 77.5px,#4660fb 95.5px,#3b72fe 118.5px,#3777fd 149.5px,#3974fe 202.5px,#2e84f8 258.5px,#2798ea 295.5px,#1ea6e1 331.5px,#20a5e2 355.5px),
linear-gradient(90deg,#475bf9 0.5px,#4743e7 16.5px,#4332c9 32.5px,#412ebe 43.5px,#422fc2 53.5px,#463ddf 70.5px,#4753f4 86.5px,#4269fe 105.5px,#3876fd 129.5px,#3875fd 165.5px,#3876fd 211.5px,#2d87f6 264.5px,#2798ea 294.5px,#1da8e0 330.5px,#1ea7e1 355.5px),
linear-gradient(90deg,#4759f8 0.5px,#4741e5 15.5px,#422fc2 31.5px,#402bb5 41.5px,#402bb6 51.5px,#4332ca 63.5px,#4746ea 79.5px,#465dfa 95.5px,#3c71fe 117.5px,#3579fd 145.5px,#3975fd 202.5px,#2f84f8 255.5px,#2798ea 291.5px,#1ca9df 328.5px,#1da8e0 355.5px),
linear-gradient(90deg,#4757f7 0.5px,#4740e4 14.5px,#412ebd 30.5px,#3f28ae 40.5px,#3f28ae 50.5px,#412dbd 60.5px,#4741e5 77.5px,#4758f8 92.5px,#3f6eff 112.5px,#3479fd 136.5px,#3876fd 176.5px,#3579fd 220.5px,#2d8af4 267.5px,#1ca9df 323.5px,#1babde 350.5px,#1caadf 355.5px),
linear-gradient(90deg,#4755f6 0.5px,#4740e3 13.5px,#412dba 29.5px,#3e27a9 39.5px,#3e27aa 52.5px,#422ebf 63.5px,#4741e5 78.5px,#4757f7 92.5px,#3f6ffe 112.5px,#337bfc 135.5px,#337afd 163.5px,#3677fd 206.5px,#2e85f8 255.5px,#2797ea 287.5px,#1aacdd 326.5px,#18addc 347.5px,#1babde 355.5px),
linear-gradient(90deg,#4754f5 0.5px,#463fe1 13.5px,#402bb5 30.5px,#3e26a8 38.5px,#3e27aa 54.5px,#422fc2 65.5px,#4742e6 79.5px,#4759f8 93.5px,#3e6ffe 111.5px,#327cfc 131.5px,#317ffb 155.5px,#3579fd 202.5px,#2f84f8 250.5px,#2896eb 284.5px,#19addc 325.5px,#16aeda 345.5px,#1aacdd 355.5px),
linear-gradient(90deg,#4754f5 0.5px,#4740e3 12.5px,#402bb6 29.5px,#3e26a8 37.5px,#3e27ab 55.5px,#4331c7 67.5px,#4742e6 79.5px,#4759f8 93.5px,#3d70fe 111.5px,#327dfb 127.5px,#2f83f9 151.5px,#337bfd 201.5px,#2f84f8 247.5px,#2897eb 283.5px,#17addb 324.5px,#14afd8 344.5px,#18addc 355.5px),
linear-gradient(90deg,#4754f5 0.5px,#463ee1 13.5px,#402ab4 30.5px,#3e26a8 38.5px,#3e27aa 54.5px,#4331c5 66.5px,#4743e7 79.5px,#475af9 93.5px,#3c71fe 110.5px,#317efb 124.5px,#2d88f6 148.5px,#327dfc 201.5px,#2e85f8 246.5px,#2896eb 281.5px,#16aeda 323.5px,#12b0d7 343.5px,#17aedb 355.5px),
linear-gradient(90deg,#4754f5 0.5px,#473fe2 13.5px,#402bb7 30.5px,#3e26a8 40.5px,#3e27aa 51.5px,#412dbc 61.5px,#4741e5 77.5px,#4759f8 91.5px,#3d70fe 107.5px,#327efb 119.5px,#2c8cf2 143.5px,#2d88f6 167.5px,#317ffb 204.5px,#2e87f7 248.5px,#2896eb 280.5px,#15afd9 323.5px,#11b1d6 343.5px,#16aeda 355.5px),
linear-gradient(90deg,#4755f6 0.5px,#463fe1 14.5px,#412cba 31.5px,#3f28ad 41.5px,#3f29b0 51.5px,#4230c3 62.5px,#4745e9 78.5px,#465efa 93.5px,#3a73fe 107.5px,#3081fa 118.5px,#2b92ee 142.5px,#2c90f0 160.5px,#3082f9 198.5px,#2e85f8 239.5px,#2895ec 277.5px,#15aed9 321.5px,#10b1d6 341.5px,#15aed9 355.5px),
linear-gradient(90deg,#4756f6 0.5px,#473fe2 15.5px,#412ebe 32.5px,#402ab4 42.5px,#402cb8 52.5px,#4434ce 64.5px,#4748eb 78.5px,#4561fc 93.5px,#3a74fe 105.5px,#3081fa 115.5px,#2897eb 139.5px,#2798ea 153.5px,#2e87f7 191.5px,#2f84f8 226.5px,#2b91ef 267.5px,#17addb 317.5px,#0fb1d5 338.5px,#15afd9 355.5px),
linear-gradient(90deg,#4757f7 0.5px,#4740e3 16.5px,#4330c5 32.5px,#412dbc 43.5px,#422fc1 53.5px,#463ddf 69.5px,#4755f6 84.5px,#406cfe 98.5px,#317ffb 110.5px,#259ae8 135.5px,#23a0e5 150.5px,#2d8af4 191.5px,#2e86f8 224.5px,#2c90ef 264.5px,#18addc 315.5px,#0fb1d5 336.5px,#15afd9 355.5px),
linear-gradient(90deg,#4758f8 0.5px,#4740e4 18.5px,#4332ca 34.5px,#4230c5 45.5px,#4434ce 56.5px,#4746ea 73.5px,#4562fc 90.5px,#3a73fe 100.5px,#3080fa 108.5px,#23a0e5 133.5px,#1da8e0 149.5px,#2994ed 180.5px,#2d88f6 208.5px,#2d8bf4 246.5px,#2699e9 279.5px,#15aed9 319.5px,#0fb1d5 340.5px,#15aeda 355.5px),
linear-gradient(90deg,#475af9 0.5px,#4741e5 20.5px,#4434cf 38.5px,#4434d0 49.5px,#4740e3 65.5px,#465dfa 85.5px,#3b72fe 97.5px,#3082f9 106.5px,#21a4e3 130.5px,#14afd8 146.5px,#1da8e0 163.5px,#2c8ef1 198.5px,#2d89f5 228.5px,#2a93ed 267.5px,#17addb 316.5px,#10b1d6 337.5px,#16aeda 355.5px),
linear-gradient(90deg,#465cf9 0.5px,#4740e4 24.5px,#4538d7 39.5px,#463ada 52.5px,#4849ed 69.5px,#4464fd 87.5px,#3975fe 96.5px,#2e85f8 105.5px,#249ee6 120.5px,#16aeda 133.5px,#08b5cf 143.5px,#07b6ce 151.5px,#14afd9 163.5px,#21a3e3 176.5px,#2c8ff1 203.5px,#2d8bf4 233.5px,#2896eb 272.5px,#16aeda 318.5px,#11b1d6 339.5px,#17aedb 355.5px),
linear-gradient(90deg,#465dfa 0.5px,#4740e3 30.5px,#463cdd 44.5px,#4745e8 61.5px,#4563fd 84.5px,#3a74fe 93.5px,#2e85f8 102.5px,#2699e9 113.5px,#18addb 126.5px,#05b7ca 136.5px,#02bac5 140.5px,#0bbcbe 147.5px,#02b9c7 158.5px,#15aed9 171.5px,#21a3e3 182.5px,#2c90ef 206.5px,#2d8cf3 234.5px,#2798ea 273.5px,#15afd9 322.5px,#13b0d8 343.5px,#18addc 355.5px),
linear-gradient(90deg,#465ffb 0.5px,#4743e7 31.5px,#4741e5 48.5px,#484ef1 66.5px,#4268fd 84.5px,#3777fd 92.5px,#2c8cf2 103.5px,#1aabdd 120.5px,#03b8c9 130.5px,#02bac5 132.5px,#1dc0b2 143.5px,#21c1b0 149.5px,#11beba 159.5px,#01b9c7 166.5px,#1ca9df 182.5px,#2a93ed 206.5px,#2c8df2 232.5px,#2797ea 271.5px,#15aed9 323.5px,#14afd9 344.5px,#1aacdd 355.5px),
linear-gradient(90deg,#4660fb 0.5px,#4747eb 31.5px,#4746ea 49.5px,#4754f5 68.5px,#4268fe 82.5px,#3678fd 90.5px,#2c8ef1 101.5px,#1aabdd 116.5px,#02b8c8 125.5px,#01bac5 126.5px,#27c2ac 137.5px,#32c69e 146.5px,#2ec5a3 154.5px,#22c1af 161.5px,#01b9c6 172.5px,#1baade 186.5px,#2995ec 208.5px,#2c8ef1 233.5px,#2798ea 271.5px,#16aeda 323.5px,#16aeda 345.5px,#1aabdd 355.5px),
linear-gradient(90deg,#4561fc 0.5px,#484bee 31.5px,#484aee 50.5px,#4759f8 69.5px,#406dfe 82.5px,#3081fa 92.5px,#269ae8 104.5px,#19addc 113.5px,#01b9c6 121.5px,#28c3aa 131.5px,#42ca8b 143.5px,#48cb86 148.5px,#3ac894 157.5px,#22c1af 168.5px,#01bac5 177.5px,#15aeda 187.5px,#21a3e3 196.5px,#2a93ee 217.5px,#2c91ef 245.5px,#22a1e5 290.5px,#16aeda 327.5px,#1aacdd 350.5px,#1baade 355.5px),
linear-gradient(90deg,#4563fc 0.5px,#484ef1 31.5px,#484ef1 51.5px,#465efb 70.5px,#3c71fe 82.5px,#2f84f8 91.5px,#269ae9 101.5px,#18addb 110.5px,#01b9c6 117.5px,#29c3a9 126.5px,#48cb86 136.5px,#64cc6f 144.5px,#69cc6b 148.5px,#5dcc75 154.5px,#39c895 165.5px,#24c2ae 173.5px,#01b9c6 182.5px,#1aacdd 193.5px,#259be8 208.5px,#2b91ef 229.5px,#2896eb 263.5px,#18addc 324.5px,#1babde 350.5px,#1ca9df 355.5px),
linear-gradient(90deg,#4464fd 0.5px,#4850f3 31.5px,#4852f3 51.5px,#4562fc 70.5px,#3c72fe 80.5px,#2f82f9 88.5px,#2699e9 98.5px,#1aabdd 106.5px,#03b8c8 113.5px,#02bac5 114.5px,#2ac3a8 122.5px,#48cb86 130.5px,#7bcc5d 140.5px,#8dcb4f 146.5px,#8ccb50 150.5px,#76cc61 157.5px,#3fca8f 169.5px,#23c1af 178.5px,#01bac5 186.5px,#1aacdd 197.5px,#259be8 212.5px,#2b92ee 233.5px,#2798ea 268.5px,#1aacdd 324.5px,#1da8e0 355.5px),
linear-gradient(90deg,#4465fd 0.5px,#4853f4 31.5px,#4754f5 51.5px,#4464fd 69.5px,#3b72fe 78.5px,#2f83f9 86.5px,#2797ea 95.5px,#18addc 104.5px,#02b9c8 110.5px,#03bac4 111.5px,#29c3a9 118.5px,#46cb88 125.5px,#8bcb51 136.5px,#a6c73d 142.5px,#b2c535 147.5px,#abc739 152.5px,#92ca4c 159.5px,#54cc7c 170.5px,#3fca8f 174.5px,#1fc1b1 183.5px,#01b9c6 190.5px,#19acdc 200.5px,#259ce7 214.5px,#2a93ed 234.5px,#2799e9 268.5px,#1aabdd 324.5px,#1ea7e1 355.5px),
linear-gradient(90deg,#4465fd 0.5px,#4755f6 31.5px,#4757f7 52.5px,#4367fd 69.5px,#3974fe 77.5px,#2e85f8 85.5px,#2798ea 93.5px,#1aacdd 101.5px,#03b8c8 107.5px,#02bac4 108.5px,#2ac3a8 115.5px,#45cb89 121.5px,#8ecb4e 131.5px,#b2c535 137.5px,#c9c129 143.5px,#d0bf29 148.5px,#c6c22a 154.5px,#aac73a 161.5px,#81cc58 168.5px,#40ca8d 178.5px,#1ec0b2 187.5px,#02bac4 193.5px,#09b5d0 197.5px,#1caade 205.5px,#2699e9 222.5px,#2994ed 245.5px,#1babde 326.5px,#1fa6e1 355.5px),
linear-gradient(90deg,#4366fd 0.5px,#4756f7 31.5px,#4759f8 52.5px,#416afe 69.5px,#3578fd 77.5px,#2d8cf3 86.5px,#1baade 98.5px,#01b9c6 105.5px,#2ac3a8 112.5px,#41ca8c 117.5px,#89cb52 126.5px,#b5c533 132.5px,#cbc129 136.5px,#e0bc2b 142.5px,#e9bb31 148.5px,#debc29 155.5px,#c5c22b 162.5px,#a9c73b 167.5px,#69cc6b 176.5px,#40ca8e 182.5px,#21c1b0 190.5px,#03bac4 196.5px,#01b9c7 197.5px,#19addc 206.5px,#249ee6 218.5px,#2995ec 237.5px,#259be8 271.5px,#1ca9df 323.5px,#20a5e2 355.5px),
linear-gradient(90deg,#4366fd 0.5px,#4758f8 31.5px,#475bf9 52.5px,#416bfe 68.5px,#2f82f9 80.5px,#2798ea 89.5px,#18addb 97.5px,#03b8c9 102.5px,#02bac5 103.5px,#29c3aa 109.5px,#40ca8d 114.5px,#86cb55 122.5px,#afc636 127.5px,#cac129 131.5px,#debc2a 135.5px,#f2ba37 141.5px,#f9bc3b 148.5px,#f1ba37 156.5px,#dbbd29 163.5px,#c7c129 167.5px,#a7c73c 172.5px,#60cc73 181.5px,#42ca8b 185.5px,#21c1af 193.5px,#03bac4 199.5px,#01b9c7 200.5px,#19acdc 209.5px,#249de7 222.5px,#2895ec 242.5px,#239fe6 284.5px,#1da9df 327.5px,#21a3e3 355.5px),
linear-gradient(90deg,#4367fd 0.5px,#4759f8 31.5px,#465dfa 52.5px,#406cfe 67.5px,#3081f9 78.5px,#2798ea 87.5px,#18addb 95.5px,#03b8c8 100.5px,#03bac4 101.5px,#2bc3a7 107.5px,#45cb89 112.5px,#90ca4d 120.5px,#b3c534 124.5px,#c9c129 127.5px,#e0bc2b 131.5px,#f4bb38 136.5px,#febe3c 141.5px,#fec636 148.5px,#fbbc3c 158.5px,#ecba34 164.5px,#dbbd29 168.5px,#c4c22b 172.5px,#a7c73c 176.5px,#5bcc77 185.5px,#3fca8f 189.5px,#21c1b0 196.5px,#02bac5 202.5px,#0cb3d3 207.5px,#1baade 213.5px,#259ce8 227.5px,#2896eb 248.5px,#1da8e0 324.5px,#21a2e4 355.5px),
linear-gradient(90deg,#4367fd 0.5px,#475af8 31.5px,#465efb 52.5px,#3f6eff 67.5px,#2f83f9 77.5px,#2699e9 86.5px,#19addc 93.5px,#03b8c9 98.5px,#03bac4 99.5px,#2bc4a7 105.5px,#40ca8e 109.5px,#78cc5f 115.5px,#b3c535 121.5px,#cbc129 124.5px,#debc29 127.5px,#f5bb39 132.5px,#febf3c 136.5px,#fcd030 145.5px,#fbd030 151.5px,#fec13a 161.5px,#fbbc3c 164.5px,#ebbb33 169.5px,#ddbd29 172.5px,#c3c22c 176.5px,#a3c83f 180.5px,#5bcc76 188.5px,#3ec990 192.5px,#1fc1b1 199.5px,#01b9c6 205.5px,#19acdc 214.5px,#249de7 227.5px,#2897eb 247.5px,#1ea7e1 324.5px,#22a1e5 355.5px),
linear-gradient(90deg,#4367fd 0.5px,#475af9 31.5px,#465ffb 51.5px,#3e6ffe 66.5px,#2f84f9 76.5px,#2798ea 84.5px,#1aabdd 91.5px,#01bac5 97.5px,#2bc4a7 103.5px,#40ca8d 107.5px,#7bcc5d 113.5px,#afc637 118.5px,#c9c129 121.5px,#debd29 124.5px,#f3ba38 128.5px,#febf3c 132.5px,#fad42e 141.5px,#f7dc2a 148.5px,#fad52e 157.5px,#fec23a 166.5px,#fabc3b 169.5px,#ebbb32 173.5px,#dabd29 176.5px,#c6c22a 179.5px,#a4c83e 183.5px,#59cc79 191.5px,#41ca8d 194.5px,#27c2ac 200.5px,#01bac5 207.5px,#19acdc 216.5px,#239ee6 228.5px,#2797ea 247.5px,#1fa6e1 323.5px,#23a0e5 355.5px),
linear-gradient(90deg,#4268fd 0.5px,#475bf9 31.5px,#4660fb 51.5px,#3e6ffe 65.5px,#2f84f8 75.5px,#2699e9 83.5px,#19addc 90.5px,#02b9c7 95.5px,#0cbdbd 97.5px,#29c3a9 101.5px,#3fca8f 105.5px,#70cc65 110.5px,#b0c636 116.5px,#cbc129 119.5px,#e1bc2b 122.5px,#f5bb39 126.5px,#febf3c 129.5px,#f9d72c 138.5px,#f5e526 147.5px,#f6e128 156.5px,#fdcd32 166.5px,#fcbc3c 172.5px,#ecba34 176.5px,#dbbd29 179.5px,#c5c22b 182.5px,#a1c841 186.5px,#5ccc76 193.5px,#42ca8b 196.5px,#27c2ac 202.5px,#01bac6 209.5px,#19acdc 218.5px,#249ee6 231.5px,#2798ea 251.5px,#1fa5e2 321.5px,#239fe6 355.5px),
linear-gradient(90deg,#4268fd 0.5px,#465cf9 31.5px,#4561fc 51.5px,#3e70fe 64.5px,#2e84f8 74.5px,#2699e9 82.5px,#1babde 88.5px,#01bac6 94.5px,#27c2ac 99.5px,#43ca8b 104.5px,#8fca4e 111.5px,#b9c431 115.5px,#cbc129 117.5px,#e1bc2c 120.5px,#f6bb3a 124.5px,#febd3d 126.5px,#fad32f 133.5px,#f5e725 143.5px,#f6ec22 151.5px,#f6e228 161.5px,#fec934 171.5px,#fcbc3c 175.5px,#ebbb33 179.5px,#dfbc2a 181.5px,#c8c129 184.5px,#a3c83f 188.5px,#5ccc76 195.5px,#42ca8c 198.5px,#26c2ad 204.5px,#04bac3 210.5px,#01b9c7 211.5px,#18addb 219.5px,#23a0e5 230.5px,#2798ea 249.5px,#20a5e2 322.5px,#249ee6 355.5px),
linear-gradient(90deg,#4268fd 0.5px,#465cfa 31.5px,#4562fc 51.5px,#3c71fe 64.5px,#2e84f8 73.5px,#2897eb 80.5px,#1babde 87.5px,#04b8ca 92.5px,#02bac5 93.5px,#28c2ab 98.5px,#3ec990 102.5px,#5acc77 105.5px,#aac73a 112.5px,#c8c129 115.5px,#dfbc2a 118.5px,#f6bb39 122.5px,#fdbd3d 124.5px,#fad42e 131.5px,#f5ea23 141.5px,#f6f11e 150.5px,#f5eb22 160.5px,#f9d82c 169.5px,#fec13a 176.5px,#febd3d 177.5px,#ecba33 181.5px,#dfbc2a 183.5px,#c8c129 186.5px,#a1c840 190.5px,#58cc79 197.5px,#3fca8e 200.5px,#22c1af 206.5px,#01b9c6 212.5px,#17addb 220.5px,#23a0e5 231.5px,#2798ea 249.5px,#21a4e3 322.5px,#249de7 355.5px),
linear-gradient(90deg,#4268fd 0.5px,#465dfa 31.5px,#4563fc 51.5px,#3c71fe 63.5px,#2f84f8 72.5px,#2896eb 79.5px,#1babde 86.5px,#01bac5 92.5px,#28c3ab 97.5px,#3ec98f 101.5px,#67cc6d 105.5px,#adc638 111.5px,#cac129 114.5px,#e2bc2c 117.5px,#f4ba38 120.5px,#febf3c 123.5px,#f9d62d 130.5px,#f5ea23 139.5px,#f7f41c 150.5px,#f6f01f 160.5px,#f7df29 169.5px,#fec438 177.5px,#fdbd3d 179.5px,#eabb32 183.5px,#dcbd29 185.5px,#c3c22c 188.5px,#a5c73d 191.5px,#5acc77 198.5px,#40ca8d 201.5px,#23c1af 207.5px,#01b9c6 213.5px,#18addb 221.5px,#239fe5 232.5px,#2798ea 250.5px,#21a3e3 321.5px,#259ce7 355.5px),
linear-gradient(90deg,#4269fe 0.5px,#465efa 31.5px,#4563fc 50.5px,#3d71fe 62.5px,#2e86f8 72.5px,#2798ea 79.5px,#19addc 86.5px,#01b9c7 91.5px,#2cc4a6 97.5px,#44cb89 101.5px,#88cb53 107.5px,#b6c533 111.5px,#c9c129 113.5px,#e2bc2c 116.5px,#f4ba38 119.5px,#febf3b 122.5px,#fad42e 128.5px,#f5ea23 137.5px,#f7f41c 148.5px,#f6f21d 161.5px,#f6e128 170.5px,#fec537 178.5px,#febd3d 180.5px,#f1ba37 183.5px,#dcbd29 186.5px,#c3c22c 189.5px,#a4c83e 192.5px,#62cc71 198.5px,#45cb88 201.5px,#2bc4a7 206.5px,#03bac4 213.5px,#05b7cb 215.5px,#1babde 223.5px,#259ce7 236.5px,#2798ea 256.5px,#22a2e4 318.5px,#259be8 355.5px),
linear-gradient(90deg,#4269fe 0.5px,#465efa 31.5px,#4464fd 50.5px,#3c72fe 62.5px,#2e87f7 72.5px,#2699e9 79.5px,#1babde 85.5px,#02bac5 91.5px,#28c3aa 96.5px,#3fca8f 100.5px,#69cc6b 104.5px,#afc637 110.5px,#c3c22b 112.5px,#ddbd29 115.5px,#f5bb39 119.5px,#febd3d 121.5px,#f9d62d 128.5px,#f5eb23 137.5px,#f7f51b 149.5px,#f7f31d 161.5px,#f6e227 170.5px,#fec736 178.5px,#febe3c 180.5px,#f2ba38 183.5px,#dfbc2a 186.5px,#c5c22a 189.5px,#a7c73c 192.5px,#5acc78 199.5px,#3fca8e 202.5px,#21c1b0 208.5px,#03bac4 213.5px,#05b7cb 215.5px,#1baade 223.5px,#259ce8 236.5px,#2797eb 256.5px,#22a1e4 318.5px,#269ae9 355.5px),
linear-gradient(90deg,#4169fe 0.5px,#465ffb 31.5px,#4464fd 50.5px,#3b72fe 62.5px,#2e86f7 72.5px,#2799e9 79.5px,#18addc 86.5px,#01b9c6 91.5px,#2cc4a6 97.5px,#44cb89 101.5px,#88cb53 107.5px,#b5c533 111.5px,#c9c129 113.5px,#e1bc2b 116.5px,#f3ba38 119.5px,#febf3c 122.5px,#fad42e 128.5px,#f5e924 137.5px,#f7f41c 148.5px,#f7f21d 160.5px,#f6e227 169.5px,#fec338 178.5px,#fcbc3c 180.5px,#e7bb30 184.5px,#d9be29 186.5px,#c8c129 188.5px,#9fc842 192.5px,#5dcc75 198.5px,#41ca8c 201.5px,#23c1ae 207.5px,#05bbc3 212.5px,#01b9c7 213.5px,#1aacdd 221.5px,#249de7 233.5px,#2896ec 251.5px,#23a0e5 318.5px,#2699e9 355.5px),
linear-gradient(90deg,#416afe 0.5px,#465ffb 31.5px,#4465fd 51.5px,#3b72fe 62.5px,#2e86f8 72.5px,#2797ea 79.5px,#1aabdd 86.5px,#03b8c9 91.5px,#02bac4 92.5px,#28c3aa 97.5px,#3fc98f 101.5px,#67cc6d 105.5px,#acc739 111.5px,#c9c129 114.5px,#e1bc2b 117.5px,#f3ba38 120.5px,#febe3c 123.5px,#f9d62d 130.5px,#f5ea23 139.5px,#f7f31d 150.5px,#f6ee20 160.5px,#f7dc2a 169.5px,#fec13a 177.5px,#febd3d 178.5px,#ebbb33 182.5px,#debd29 184.5px,#c5c22b 187.5px,#a7c73c 190.5px,#5bcc77 197.5px,#40ca8d 200.5px,#22c1af 206.5px,#03bac4 211.5px,#02b9c7 212.5px,#1aabdd 220.5px,#259be8 232.5px,#2994ed 249.5px,#239fe6 317.5px,#2798ea 355.5px),
linear-gradient(90deg,#416afe 0.5px,#4660fb 31.5px,#4366fd 51.5px,#3c72fe 62.5px,#2e85f8 72.5px,#2798ea 80.5px,#1aacdd 87.5px,#03b8c9 92.5px,#03bac4 93.5px,#28c3aa 98.5px,#3ec98f 102.5px,#5acc77 105.5px,#a9c73b 112.5px,#c6c22a 115.5px,#debc2a 118.5px,#f5bb39 122.5px,#fdbd3d 124.5px,#fbd030 130.5px,#f5e725 140.5px,#f6ef1f 149.5px,#f5ea23 159.5px,#f9d72c 168.5px,#fec03b 175.5px,#f9bc3b 177.5px,#ebbb33 180.5px,#debc29 182.5px,#c6c22a 185.5px,#9fc842 189.5px,#5fcc74 195.5px,#42ca8b 198.5px,#24c2ae 204.5px,#01b9c6 210.5px,#1aabdd 218.5px,#259be8 229.5px,#2a92ee 245.5px,#269ae9 284.5px,#249de7 325.5px,#2897eb 355.5px),
linear-gradient(90deg,#416bfe 0.5px,#4561fc 32.5px,#4367fd 52.5px,#3a73fe 63.5px,#2d88f6 74.5px,#259ce8 82.5px,#1aacdd 88.5px,#03b8c9 93.5px,#03bac4 94.5px,#28c2ab 99.5px,#43ca8a 104.5px,#8ecb4e 111.5px,#b7c432 115.5px,#c9c129 117.5px,#e0bc2b 120.5px,#f5bb39 124.5px,#fdbd3d 126.5px,#fccf31 132.5px,#f5e526 142.5px,#f5ea23 150.5px,#f6e028 160.5px,#fec736 170.5px,#febd3d 173.5px,#eeba35 177.5px,#dbbd29 180.5px,#c4c22b 183.5px,#9dc943 187.5px,#54cc7c 194.5px,#42ca8b 196.5px,#24c2ae 202.5px,#01b9c6 208.5px,#1babde 216.5px,#2699e9 228.5px,#2c90f0 244.5px,#2897eb 280.5px,#249de7 321.5px,#2896eb 355.5px),
linear-gradient(90deg,#406bfe 0.5px,#4561fc 32.5px,#4367fd 52.5px,#3b73fe 63.5px,#2e86f7 74.5px,#2897eb 81.5px,#1aacdd 89.5px,#01bac5 95.5px,#2ac3a8 101.5px,#40ca8e 105.5px,#70cc66 110.5px,#afc636 116.5px,#cac129 119.5px,#dfbc2a 122.5px,#f4bb38 126.5px,#febd3d 129.5px,#f9d62d 138.5px,#f6e327 147.5px,#f7dd2a 156.5px,#fec835 166.5px,#fcbd3c 170.5px,#edba34 174.5px,#dcbd29 177.5px,#c6c22a 180.5px,#a1c840 184.5px,#5acc77 191.5px,#40ca8d 194.5px,#22c1af 200.5px,#03bac4 205.5px,#02b9c8 206.5px,#1aacdd 213.5px,#2798ea 225.5px,#2c8df2 241.5px,#2b91ef 268.5px,#259be8 312.5px,#2995ec 355.5px),
linear-gradient(90deg,#406cfe 0.5px,#4562fc 33.5px,#4269fe 54.5px,#3a74fe 64.5px,#2d89f5 76.5px,#22a1e5 86.5px,#17aedb 91.5px,#02b9c7 96.5px,#05bbc3 97.5px,#28c2ab 102.5px,#41ca8c 107.5px,#7bcc5d 113.5px,#adc638 118.5px,#c7c129 121.5px,#dcbd29 124.5px,#f4bb39 129.5px,#febd3d 132.5px,#fbd22f 141.5px,#f8d92b 148.5px,#fbd030 157.5px,#fcbd3c 166.5px,#eabb32 171.5px,#d9bd29 174.5px,#c4c22b 177.5px,#a2c840 181.5px,#5dcc75 188.5px,#42ca8b 191.5px,#25c2ad 197.5px,#01b9c6 203.5px,#1aacdd 210.5px,#2897eb 222.5px,#2d8af4 236.5px,#2d8af4 257.5px,#269ae9 308.5px,#2995ec 352.5px,#2994ed 355.5px),
linear-gradient(90deg,#406dfe 0.5px,#4563fd 33.5px,#416afe 54.5px,#3975fe 65.5px,#2d89f5 77.5px,#23a0e5 87.5px,#19addc 92.5px,#01b9c6 98.5px,#28c3aa 104.5px,#41ca8c 109.5px,#78cc5f 115.5px,#b1c635 121.5px,#c9c129 124.5px,#e1bc2c 128.5px,#f3ba38 132.5px,#febd3d 136.5px,#fcce31 146.5px,#fec934 154.5px,#fcbd3c 161.5px,#eeba35 166.5px,#dabd29 170.5px,#c8c129 173.5px,#a8c73c 177.5px,#5ccc76 185.5px,#42ca8b 188.5px,#26c2ad 194.5px,#01b9c6 200.5px,#1aacdd 207.5px,#2995ec 219.5px,#2e86f7 234.5px,#2e85f8 253.5px,#2798ea 306.5px,#2995ec 348.5px,#2a93ee 355.5px),
linear-gradient(90deg,#3f6efe 0.5px,#4464fd 34.5px,#406bfe 56.5px,#317efb 72.5px,#2896ec 84.5px,#1babdd 93.5px,#03b8c9 99.5px,#01bac5 100.5px,#2cc4a5 107.5px,#46cb88 112.5px,#8fca4e 120.5px,#b8c431 125.5px,#c7c12a 127.5px,#debd29 131.5px,#f4bb38 137.5px,#febe3c 143.5px,#fec13a 149.5px,#fbbc3c 155.5px,#eeba35 161.5px,#ddbd29 165.5px,#c7c129 169.5px,#aac73a 173.5px,#59cc78 182.5px,#41ca8c 185.5px,#1fc1b1 192.5px,#01b9c6 197.5px,#1aacdd 204.5px,#2c90ef 218.5px,#3082f9 232.5px,#3180fa 250.5px,#2896ec 304.5px,#2994ed 344.5px,#2b92ee 355.5px),
linear-gradient(90deg,#3f6eff 0.5px,#4465fd 34.5px,#406dfe 57.5px,#3080fa 74.5px,#2797eb 86.5px,#1aacdd 95.5px,#03b8c9 101.5px,#01bac5 102.5px,#2bc4a7 109.5px,#41ca8c 114.5px,#84cb56 122.5px,#b4c534 128.5px,#c7c12a 131.5px,#dfbc2a 136.5px,#f2ba37 143.5px,#f5bb39 149.5px,#ebbb33 155.5px,#dbbd29 160.5px,#c8c129 164.5px,#a8c73c 169.5px,#65cc6e 177.5px,#3fca8f 182.5px,#23c1ae 188.5px,#04bbc3 193.5px,#02b9c7 194.5px,#1babde 201.5px,#2c8ef1 215.5px,#317ffb 227.5px,#3479fd 243.5px,#2d87f6 274.5px,#2994ec 308.5px,#2b92ee 351.5px,#2b91ef 355.5px),
linear-gradient(90deg,#3e6ffe 0.5px,#4367fd 35.5px,#3f6eff 58.5px,#2f82f9 76.5px,#2896eb 87.5px,#1aacdd 97.5px,#01b9c6 104.5px,#2cc4a5 112.5px,#42ca8b 117.5px,#87cb54 126.5px,#b1c636 132.5px,#cac129 137.5px,#dfbc2a 144.5px,#e2bc2c 148.5px,#d7be29 154.5px,#c4c22b 159.5px,#a9c73b 164.5px,#6dcc68 172.5px,#40ca8d 178.5px,#21c1b0 185.5px,#02bac4 190.5px,#09b5d0 193.5px,#1baade 198.5px,#2d8cf3 212.5px,#347afd 225.5px,#3a73fe 240.5px,#327cfc 263.5px,#2b91ef 301.5px,#2a93ee 338.5px,#2c90f0 355.5px),
linear-gradient(90deg,#3d70fe 0.5px,#4268fd 35.5px,#3e6ffe 59.5px,#2f84f8 78.5px,#2897eb 89.5px,#1aacdd 99.5px,#02b9c8 106.5px,#03bac4 107.5px,#29c3aa 114.5px,#46cb88 121.5px,#92ca4c 132.5px,#b1c635 138.5px,#c5c22b 144.5px,#c8c129 148.5px,#bac431 154.5px,#a4c83f 159.5px,#77cc5f 166.5px,#40ca8d 174.5px,#23c1af 181.5px,#01b9c6 187.5px,#1ca9df 195.5px,#2d8cf3 208.5px,#3578fd 220.5px,#406dfe 234.5px,#3d70fe 252.5px,#3082f9 277.5px,#2c91ef 308.5px,#2c90f0 349.5px,#2c8ff0 355.5px),
linear-gradient(90deg,#3c71fe 0.5px,#4269fe 35.5px,#3c71fe 60.5px,#2e84f8 79.5px,#2798ea 91.5px,#1aabdd 101.5px,#01b9c7 109.5px,#13beb8 113.5px,#2bc4a7 118.5px,#46cb88 125.5px,#86cb54 136.5px,#9fc842 142.5px,#a9c73b 147.5px,#9fc842 152.5px,#85cb55 158.5px,#43ca8a 169.5px,#24c1ae 177.5px,#02bac5 183.5px,#0cb3d3 187.5px,#1baade 191.5px,#2c8df2 204.5px,#3678fd 215.5px,#406bfe 225.5px,#4366fd 241.5px,#3c71fe 262.5px,#3080fa 280.5px,#2c8ff1 309.5px,#2c8ff0 349.5px,#2c8ef1 355.5px),
linear-gradient(90deg,#3b72fe 0.5px,#416bfe 34.5px,#3c71fe 59.5px,#2e84f8 80.5px,#2896eb 92.5px,#1aacdd 104.5px,#01b9c7 112.5px,#12beb9 116.5px,#29c3aa 121.5px,#47cb87 130.5px,#74cc62 140.5px,#84cb56 146.5px,#80cc59 150.5px,#66cc6d 157.5px,#3fca8f 165.5px,#23c1af 173.5px,#03bac4 179.5px,#02b9c7 180.5px,#1ca9df 188.5px,#2d8bf3 201.5px,#3677fd 211.5px,#416bfe 219.5px,#4560fc 234.5px,#4465fd 252.5px,#3a73fe 270.5px,#3080fa 285.5px,#2c8ef2 313.5px,#2c8df2 355.5px),
linear-gradient(90deg,#3a74fe 0.5px,#406cfe 34.5px,#3b72fe 59.5px,#2e86f8 82.5px,#2896eb 94.5px,#19addc 107.5px,#02b8c8 115.5px,#01bac5 116.5px,#2ac3a8 126.5px,#4acb85 137.5px,#5dcc75 144.5px,#60cc73 148.5px,#4ecb81 155.5px,#34c79c 163.5px,#21c1b0 169.5px,#04bac4 175.5px,#02b9c7 176.5px,#1da8e0 185.5px,#2d8bf4 198.5px,#3677fd 207.5px,#4169fe 215.5px,#465cfa 230.5px,#465dfa 247.5px,#3f6ffe 270.5px,#317efb 287.5px,#2d8cf3 314.5px,#2d8cf3 355.5px),
linear-gradient(90deg,#3975fd 0.5px,#3f6eff 38.5px,#3677fd 66.5px,#2d8af4 87.5px,#21a3e4 104.5px,#16aeda 111.5px,#02b9c7 119.5px,#06bbc2 121.5px,#29c3a9 131.5px,#3fca8f 143.5px,#41ca8c 148.5px,#34c79b 156.5px,#24c2ae 163.5px,#02bac4 171.5px,#07b6cd 174.5px,#1ca9df 181.5px,#2d8af4 195.5px,#3777fd 204.5px,#4169fe 211.5px,#4759f8 226.5px,#4756f7 243.5px,#4366fd 266.5px,#3578fd 284.5px,#2d88f5 310.5px,#2d8cf3 349.5px,#2d8bf3 355.5px),
linear-gradient(90deg,#3776fd 0.5px,#3d70fe 39.5px,#347afd 68.5px,#2d8bf3 89.5px,#1fa6e1 109.5px,#15afd9 115.5px,#01b9c6 124.5px,#27c2ac 137.5px,#30c5a1 146.5px,#2bc3a7 153.5px,#1cc0b3 159.5px,#01b9c6 167.5px,#17aeda 175.5px,#259ce7 184.5px,#2d88f6 193.5px,#3777fd 201.5px,#4269fe 208.5px,#4756f6 224.5px,#4851f3 241.5px,#465ffb 262.5px,#3b73fe 282.5px,#317ffb 296.5px,#2d8af5 324.5px,#2d8af4 355.5px),
linear-gradient(90deg,#3677fd 0.5px,#3b72fe 40.5px,#327cfc 71.5px,#2c8df2 92.5px,#1caade 115.5px,#01b9c7 129.5px,#09bcbf 133.5px,#1dc0b2 143.5px,#1ec0b2 149.5px,#0bbcbf 158.5px,#02bac5 161.5px,#0eb2d4 168.5px,#1da9df 174.5px,#2d8bf4 189.5px,#3678fd 198.5px,#4268fd 206.5px,#4853f4 223.5px,#484ef1 240.5px,#4759f8 260.5px,#3f6eff 281.5px,#327dfb 298.5px,#2d88f6 327.5px,#2d89f5 355.5px),
linear-gradient(90deg,#3579fd 0.5px,#3974fe 41.5px,#317ffa 75.5px,#2c91ef 97.5px,#1aacdd 121.5px,#05b7cb 133.5px,#02bac5 138.5px,#0bbcbe 147.5px,#01b9c7 155.5px,#13b0d8 165.5px,#1fa5e2 172.5px,#2d89f5 187.5px,#3677fd 196.5px,#4268fd 204.5px,#4852f3 221.5px,#484bee 238.5px,#4753f5 257.5px,#416afe 280.5px,#327dfb 303.5px,#2d87f6 335.5px,#2d88f6 355.5px),
linear-gradient(90deg,#337afd 0.5px,#3776fd 42.5px,#2f82f9 79.5px,#2896eb 105.5px,#19addc 127.5px,#08b5ce 140.5px,#06b6cc 149.5px,#10b1d6 158.5px,#1ea6e1 167.5px,#2d88f5 185.5px,#3677fd 194.5px,#4268fd 202.5px,#4850f2 221.5px,#4749ec 238.5px,#4852f4 258.5px,#416afe 283.5px,#327dfb 308.5px,#2e87f7 345.5px,#2e87f7 355.5px),
linear-gradient(90deg,#337cfc 0.5px,#3578fd 44.5px,#2e85f8 83.5px,#2896eb 108.5px,#16aeda 136.5px,#10b1d5 147.5px,#1fa5e2 163.5px,#2d88f6 183.5px,#3776fd 193.5px,#4366fd 202.5px,#484ef1 222.5px,#4748eb 239.5px,#4851f3 259.5px,#416afe 286.5px,#327dfb 314.5px,#2e86f8 355.5px),
linear-gradient(90deg,#327dfb 0.5px,#337bfc 47.5px,#2d89f5 90.5px,#2799e9 114.5px,#1babdd 143.5px,#1ea6e1 156.5px,#2c8ef1 177.5px,#3579fd 190.5px,#4268fd 200.5px,#4850f2 220.5px,#4748eb 238.5px,#484ff2 258.5px,#4169fe 289.5px,#327dfb 322.5px,#2e84f8 355.5px),
linear-gradient(90deg,#317efb 0.5px,#327dfb 50.5px,#2d8bf3 95.5px,#1fa6e2 144.5px,#239fe6 159.5px,#3080fa 184.5px,#3c71fe 194.5px,#465dfa 208.5px,#484bef 229.5px,#484aee 248.5px,#4562fc 283.5px,#3678fd 318.5px,#2f83f9 355.5px),
linear-gradient(90deg,#3180fa 0.5px,#3180fa 53.5px,#2c8ef1 101.5px,#22a1e5 145.5px,#2897eb 163.5px,#3479fd 188.5px,#4268fe 200.5px,#4850f3 223.5px,#484aee 243.5px,#4756f6 269.5px,#3f6eff 307.5px,#327dfb 341.5px,#3081fa 355.5px),
linear-gradient(90deg,#3081fa 0.5px,#2f82f9 57.5px,#2994ed 119.5px,#259ce7 147.5px,#2c8df2 170.5px,#3579fd 188.5px,#4268fd 201.5px,#4851f3 226.5px,#484df0 247.5px,#465efa 284.5px,#3b73fe 324.5px,#317ffb 352.5px,#317ffa 355.5px),
linear-gradient(90deg,#2f83f9 0.5px,#2e85f8 62.5px,#2896eb 132.5px,#2896eb 152.5px,#3081fa 180.5px,#3a73fe 193.5px,#4561fc 210.5px,#4850f3 234.5px,#4851f3 258.5px,#4269fe 314.5px,#327efb 355.5px),
linear-gradient(90deg,#2f84f8 0.5px,#2d88f6 72.5px,#2994ed 148.5px,#2f84f8 176.5px,#3875fd 192.5px,#4465fd 208.5px,#4754f5 234.5px,#4853f4 262.5px,#4366fd 317.5px,#3876fd 344.5px,#337bfc 355.5px),
linear-gradient(90deg,#2e85f8 0.5px,#2d8cf3 94.5px,#2b91ef 150.5px,#327efb 183.5px,#4367fd 209.5px,#4756f7 238.5px,#4755f6 276.5px,#4660fb 315.5px,#3b72fe 344.5px,#3479fd 355.5px),
linear-gradient(90deg,#2e87f7 0.5px,#2c8ef1 151.5px,#337bfc 187.5px,#4268fd 211.5px,#4758f8 243.5px,#4754f5 294.5px,#465ffb 323.5px,#3b73fe 349.5px,#3777fd 355.5px),
linear-gradient(90deg,#2d88f6 0.5px,#2d8bf3 151.5px,#347afd 190.5px,#4268fd 216.5px,#4758f8 256.5px,#4851f3 299.5px,#465cf9 324.5px,#3e70fe 349.5px,#3974fe 355.5px),
linear-gradient(90deg,#2d89f5 0.5px,#2d8af4 145.5px,#337bfc 188.5px,#4268fd 222.5px,#484ef1 291.5px,#4851f3 314.5px,#4268fe 344.5px,#3b72fe 355.5px),
linear-gradient(90deg,#2d8af5 0.5px,#2d8af4 106.5px,#2f84f8 164.5px,#3776fd 200.5px,#4366fd 233.5px,#484ef1 282.5px,#484aee 306.5px,#4756f7 328.5px,#406dfe 352.5px,#3d70fe 355.5px),
linear-gradient(90deg,#2d8af4 0.5px,#2d8bf4 90.5px,#3081fa 170.5px,#3875fd 205.5px,#4561fc 250.5px,#4747eb 297.5px,#484aee 316.5px,#4465fd 346.5px,#3f6eff 355.5px),
linear-gradient(90deg,#2d8bf3 0.5px,#2d8bf3 80.5px,#327cfc 187.5px,#4366fd 246.5px,#484ff1 279.5px,#4744e8 302.5px,#484aee 321.5px,#4465fd 348.5px,#406dfe 355.5px),
linear-gradient(90deg,#2d8cf3 0.5px,#2d8cf3 74.5px,#3578fd 205.5px,#4367fd 248.5px,#484ff2 278.5px,#4742e6 301.5px,#4747ea 319.5px,#4464fd 348.5px,#406bfe 355.5px),
linear-gradient(90deg,#2d8cf3 0.5px,#2c8cf2 70.5px,#337afd 200.5px,#3f6dfe 241.5px,#4757f8 270.5px,#4743e7 297.5px,#4743e7 315.5px,#4757f7 338.5px,#416bfe 355.5px),
linear-gradient(90deg,#2d8cf3 0.5px,#2c8df2 67.5px,#327dfb 173.5px,#3776fd 225.5px,#4366fd 255.5px,#484ef1 282.5px,#4741e5 303.5px,#4746ea 320.5px,#4464fd 349.5px,#416afe 355.5px),
linear-gradient(90deg,#2c8cf2 0.5px,#2c8df2 66.5px,#327dfb 165.5px,#3677fd 227.5px,#4268fd 256.5px,#484ff1 283.5px,#4742e6 303.5px,#4747ea 320.5px,#4464fd 349.5px,#416bfe 355.5px),
linear-gradient(90deg,#2c8cf2 0.5px,#2c8df2 65.5px,#327efb 162.5px,#3578fd 230.5px,#4268fd 258.5px,#484ef1 286.5px,#4744e8 305.5px,#484bee 323.5px,#4366fd 350.5px,#406bfe 355.5px),
linear-gradient(90deg,#2d8cf3 0.5px,#2c8df2 65.5px,#327efb 161.5px,#347afd 231.5px,#416afe 259.5px,#4850f3 287.5px,#4747eb 307.5px,#484ff2 326.5px,#4268fe 351.5px,#406cfe 355.5px),
linear-gradient(90deg,#2d8cf3 0.5px,#2c8df2 66.5px,#317efb 162.5px,#337bfc 232.5px,#406cfe 259.5px,#4755f6 286.5px,#484bef 306.5px,#4852f4 325.5px,#4269fe 350.5px,#3f6eff 355.5px),
linear-gradient(90deg,#2d8cf3 0.5px,#2d8cf3 68.5px,#317ffa 165.5px,#327cfc 233.5px,#3d70fe 257.5px,#475bf9 283.5px,#4850f2 305.5px,#4756f6 325.5px,#416bfe 350.5px,#3e70fe 355.5px),
linear-gradient(90deg,#2d8bf3 0.5px,#2d8cf3 70.5px,#3080fa 169.5px,#327dfb 235.5px,#3a73fe 257.5px,#465dfa 286.5px,#4755f6 308.5px,#465cfa 329.5px,#3c71fe 354.5px,#3c72fe 355.5px),
linear-gradient(90deg,#2d8bf4 0.5px,#2d8bf3 74.5px,#3081fa 175.5px,#327efb 238.5px,#3a74fe 260.5px,#4660fb 288.5px,#475af9 310.5px,#4464fd 334.5px,#3974fe 355.5px),
linear-gradient(90deg,#2d8af4 0.5px,#2d8bf4 78.5px,#3082f9 184.5px,#317efb 241.5px,#3974fe 263.5px,#4563fd 291.5px,#465ffb 314.5px,#3f6eff 343.5px,#3776fd 355.5px),
linear-gradient(90deg,#2d8af4 0.5px,#2d8af4 83.5px,#2f83f9 198.5px,#327dfb 248.5px,#3e70fe 276.5px,#4464fd 306.5px,#416bfe 332.5px,#3578fd 355.5px),
linear-gradient(90deg,#2d89f5 0.5px,#2d89f5 89.5px,#317ffa 246.5px,#3875fd 272.5px,#416afe 299.5px,#406cfe 325.5px,#337afd 355.5px);
background-position:0 0px,0 4px,0 8px,0 12px,0 16px,0 20px,0 24px,0 28px,0 32px,0 36px,0 40px,0 44px,0 48px,0 52px,0 56px,0 60px,0 64px,0 68px,0 72px,0 76px,0 80px,0 84px,0 88px,0 92px,0 96px,0 100px,0 104px,0 108px,0 112px,0 116px,0 120px,0 124px,0 128px,0 132px,0 136px,0 140px,0 144px,0 148px,0 152px,0 156px,0 160px,0 164px,0 168px,0 172px,0 176px,0 180px,0 184px,0 188px,0 192px,0 196px,0 200px,0 204px,0 208px,0 212px,0 216px,0 220px,0 224px,0 228px,0 232px,0 236px,0 240px,0 244px,0 248px,0 252px,0 256px,0 260px,0 264px,0 268px,0 272px,0 276px,0 280px,0 284px,0 288px,0 292px,0 296px,0 300px,0 304px,0 308px,0 312px,0 316px,0 320px,0 324px,0 328px,0 332px,0 336px;
background-size:100% 4px,100% 4px,100% 4px,100% 4px,100% 4px,100% 4px,100% 4px,100% 4px,100% 4px,100% 4px,100% 4px,100% 4px,100% 4px,100% 4px,100% 4px,100% 4px,100% 4px,100% 4px,100% 4px,100% 4px,100% 4px,100% 4px,100% 4px,100% 4px,100% 4px,100% 4px,100% 4px,100% 4px,100% 4px,100% 4px,100% 4px,100% 4px,100% 4px,100% 4px,100% 4px,100% 4px,100% 4px,100% 4px,100% 4px,100% 4px,100% 4px,100% 4px,100% 4px,100% 4px,100% 4px,100% 4px,100% 4px,100% 4px,100% 4px,100% 4px,100% 4px,100% 4px,100% 4px,100% 4px,100% 4px,100% 4px,100% 4px,100% 4px,100% 4px,100% 4px,100% 4px,100% 4px,100% 4px,100% 4px,100% 4px,100% 4px,100% 4px,100% 4px,100% 4px,100% 4px,100% 4px,100% 4px,100% 4px,100% 4px,100% 4px,100% 4px,100% 4px,100% 4px,100% 4px,100% 4px,100% 4px,100% 4px,100% 4px,100% 4px,100% 4px;
background-repeat:no-repeat;}
#h5{left:1129px;top:477px;}
#h5 i{
background-image:linear-gradient(90deg,#3777fd 0.5px,#4367fd 50.5px,#3d70fe 126.5px,#3677fd 272.5px,#3578fd 296.5px,#3081fa 328.5px,#337cfc 355.5px),
linear-gradient(90deg,#3776fd 0.5px,#4660fc 48.5px,#4563fd 74.5px,#406cfe 113.5px,#3b72fe 191.5px,#3777fd 270.5px,#3876fd 293.5px,#2f82f9 322.5px,#327cfc 355.5px),
linear-gradient(90deg,#3875fd 0.5px,#4562fc 30.5px,#4757f7 53.5px,#465dfa 78.5px,#4366fd 111.5px,#406dfe 176.5px,#3777fd 259.5px,#3a73fe 291.5px,#3081fa 314.5px,#2f83f9 335.5px,#327dfc 355.5px),
linear-gradient(90deg,#3974fe 0.5px,#4562fc 24.5px,#484ef1 48.5px,#484ef1 66.5px,#4660fb 103.5px,#4367fd 168.5px,#3876fd 247.5px,#3a73fe 273.5px,#3e6ffe 289.5px,#3081fa 311.5px,#2e86f7 330.5px,#327efb 355.5px),
linear-gradient(90deg,#3a73fe 0.5px,#4563fc 20.5px,#4745e9 46.5px,#4742e6 61.5px,#4759f8 98.5px,#4563fd 169.5px,#3974fe 242.5px,#3a73fe 270.5px,#406cfe 288.5px,#3876fd 299.5px,#2f83f9 311.5px,#2d89f5 328.5px,#317ffb 355.5px),
linear-gradient(90deg,#3a73fe 0.5px,#4464fd 17.5px,#484cef 33.5px,#463bdb 48.5px,#4538d7 59.5px,#473fe2 72.5px,#4850f3 91.5px,#4758f8 114.5px,#465efb 163.5px,#3b73fe 238.5px,#3b73fe 267.5px,#4268fd 287.5px,#3c71fe 297.5px,#317ffb 306.5px,#2d8cf3 321.5px,#2d8af4 338.5px,#3080fa 355.5px),
linear-gradient(90deg,#3a74fe 0.5px,#4464fd 16.5px,#484ef1 29.5px,#4536d3 45.5px,#4331c6 54.5px,#4331c8 63.5px,#473fe2 79.5px,#4850f2 95.5px,#4757f7 118.5px,#465dfa 164.5px,#3c72fe 239.5px,#3b72fe 266.5px,#4464fd 286.5px,#406cfe 295.5px,#3080fa 306.5px,#2c8ff0 320.5px,#2c8ff0 335.5px,#2f82f9 355.5px),
linear-gradient(90deg,#3875fd 0.5px,#4268fd 14.5px,#4852f4 26.5px,#463cde 37.5px,#412ebd 50.5px,#402bb6 58.5px,#422ebe 66.5px,#4742e6 84.5px,#4850f3 98.5px,#4757f7 122.5px,#465dfa 168.5px,#3b72fe 245.5px,#3c71fe 266.5px,#4660fb 285.5px,#4366fd 293.5px,#3b72fe 299.5px,#3180fa 305.5px,#2b91ef 317.5px,#2995ec 331.5px,#2e84f8 355.5px),
linear-gradient(90deg,#3677fd 0.5px,#406cfe 13.5px,#4758f8 24.5px,#4741e5 34.5px,#422ec0 46.5px,#3f29b0 54.5px,#3f29b0 61.5px,#412ebd 69.5px,#473fe3 83.5px,#4850f2 96.5px,#4758f8 116.5px,#465ffb 169.5px,#3b72fe 253.5px,#3f6eff 268.5px,#465dfa 285.5px,#4562fc 292.5px,#3c72fe 299.5px,#317ffa 304.5px,#2a93ed 315.5px,#259be8 328.5px,#2b91ef 344.5px,#2e87f7 355.5px),
linear-gradient(90deg,#337bfd 0.5px,#3b73fe 12.5px,#475bf9 24.5px,#4743e7 34.5px,#4230c4 45.5px,#3f29b1 53.5px,#3f28ae 60.5px,#412cb9 67.5px,#4741e5 83.5px,#4851f3 95.5px,#475bf9 114.5px,#4562fc 177.5px,#3c72fe 259.5px,#4269fe 272.5px,#475af9 284.5px,#465efb 291.5px,#3f6ffe 298.5px,#317efb 303.5px,#2995ec 313.5px,#239fe5 325.5px,#259be8 338.5px,#2d89f5 355.5px),
linear-gradient(90deg,#317efb 0.5px,#347afd 11.5px,#4366fd 22.5px,#484df0 32.5px,#4537d6 42.5px,#412dbd 51.5px,#402bb5 58.5px,#412dbc 65.5px,#463ee1 79.5px,#4850f2 90.5px,#465dfa 106.5px,#4268fe 199.5px,#3c71fe 261.5px,#4367fd 273.5px,#4759f8 284.5px,#465dfa 291.5px,#3e6ffe 298.5px,#3080fa 303.5px,#2799e9 313.5px,#20a4e3 324.5px,#22a1e4 336.5px,#2d8bf3 355.5px),
linear-gradient(90deg,#3082f9 0.5px,#3080fa 11.5px,#3776fd 18.5px,#4563fc 26.5px,#4748eb 37.5px,#4435d1 48.5px,#4330c5 56.5px,#4331c7 63.5px,#463de0 75.5px,#4851f3 87.5px,#4561fc 103.5px,#4465fd 131.5px,#416bfe 205.5px,#3d71fe 262.5px,#4465fd 274.5px,#4758f8 284.5px,#465dfa 291.5px,#406dfe 297.5px,#317ffb 302.5px,#259ae8 312.5px,#1da8e0 323.5px,#1ea7e1 335.5px,#2c8ef1 355.5px),
linear-gradient(90deg,#2e86f7 0.5px,#2e87f7 11.5px,#347afd 20.5px,#4366fd 28.5px,#4849ed 40.5px,#463adb 51.5px,#4538d7 60.5px,#473fe2 70.5px,#4756f6 86.5px,#4366fd 103.5px,#416afe 132.5px,#406dfe 212.5px,#3c71fe 262.5px,#4465fd 274.5px,#4759f8 284.5px,#465efb 291.5px,#3e6ffe 297.5px,#327efb 301.5px,#259be8 311.5px,#1baade 321.5px,#19addc 331.5px,#239ee6 345.5px,#2c90f0 355.5px),
linear-gradient(90deg,#2d89f5 0.5px,#2d8cf3 11.5px,#3081fa 20.5px,#3875fd 25.5px,#4563fd 32.5px,#484aee 45.5px,#4742e6 57.5px,#4749ec 70.5px,#4660fb 89.5px,#406cfe 108.5px,#3e6ffe 224.5px,#3c71fe 263.5px,#4563fd 276.5px,#475bf9 285.5px,#4563fc 292.5px,#3c72fe 297.5px,#3080fa 301.5px,#249ee6 311.5px,#18addb 321.5px,#13b0d8 329.5px,#1ea6e1 341.5px,#2b91ef 355.5px),
linear-gradient(90deg,#2d8bf3 0.5px,#2c8ff0 11.5px,#2f84f8 21.5px,#3776fd 27.5px,#4268fd 33.5px,#4754f5 45.5px,#484df0 58.5px,#4757f7 74.5px,#406cfe 98.5px,#3c71fe 126.5px,#3e6ffe 214.5px,#3c72fe 263.5px,#4562fc 278.5px,#465efa 286.5px,#4268fd 293.5px,#3975fe 297.5px,#2e86f7 302.5px,#23a0e5 311.5px,#14afd9 321.5px,#10b1d5 329.5px,#1da8e0 341.5px,#2b92ee 355.5px),
linear-gradient(90deg,#2d8cf3 0.5px,#2b91ef 11.5px,#2e87f7 21.5px,#3776fd 29.5px,#4367fd 36.5px,#4759f8 48.5px,#4758f8 63.5px,#3e6ffe 97.5px,#3a74fe 129.5px,#3d70fe 216.5px,#3b72fe 264.5px,#4561fc 284.5px,#4268fd 291.5px,#3c71fe 295.5px,#3082f9 300.5px,#22a1e5 311.5px,#13afd8 321.5px,#0eb2d5 329.5px,#1da8df 341.5px,#2b92ee 355.5px),
linear-gradient(90deg,#2d8bf3 0.5px,#2c90f0 12.5px,#2f84f8 23.5px,#3776fd 30.5px,#416afe 37.5px,#465ffb 49.5px,#4561fc 67.5px,#3974fe 102.5px,#3975fe 148.5px,#3b72fe 224.5px,#3b73fe 265.5px,#4465fd 284.5px,#406cfe 291.5px,#3081fa 299.5px,#21a3e4 312.5px,#13b0d8 322.5px,#10b1d6 330.5px,#1ea7e1 342.5px,#2b92ee 355.5px),
linear-gradient(90deg,#2d8af5 0.5px,#2c8ef1 12.5px,#2f82f9 23.5px,#3b72fe 32.5px,#4465fd 43.5px,#4464fd 59.5px,#3776fd 103.5px,#3776fd 154.5px,#3a74fe 228.5px,#3a73fe 267.5px,#416afe 285.5px,#3c71fe 292.5px,#2e85f8 300.5px,#22a2e4 312.5px,#14afd9 323.5px,#13afd8 331.5px,#21a4e3 343.5px,#2b91ef 355.5px),
linear-gradient(90deg,#2e87f7 0.5px,#2d89f5 13.5px,#3479fd 26.5px,#416bfe 36.5px,#4464fd 49.5px,#3974fe 87.5px,#337afd 129.5px,#3974fe 220.5px,#3974fe 268.5px,#3f6efe 285.5px,#3777fd 293.5px,#2d8bf3 302.5px,#21a3e3 314.5px,#17addb 325.5px,#1babde 335.5px,#2c8ff0 355.5px),
linear-gradient(90deg,#2f83f9 0.5px,#2f83f9 13.5px,#3776fd 24.5px,#4269fe 34.5px,#4563fd 47.5px,#3875fd 85.5px,#327cfc 125.5px,#3876fd 222.5px,#3975fe 270.5px,#3c72fe 286.5px,#317ffb 296.5px,#21a2e4 315.5px,#1babde 327.5px,#21a4e3 339.5px,#2c8df2 355.5px),
linear-gradient(90deg,#327efb 0.5px,#337afd 14.5px,#4367fd 30.5px,#4660fb 43.5px,#406bfe 65.5px,#347afd 96.5px,#327efb 142.5px,#3776fd 216.5px,#3875fd 273.5px,#3875fd 287.5px,#2e87f7 300.5px,#22a0e5 316.5px,#1ea7e1 328.5px,#249ee6 341.5px,#2d8bf3 355.5px),
linear-gradient(90deg,#3579fd 0.5px,#3d71fe 15.5px,#465efa 32.5px,#465cf9 45.5px,#3f6fff 70.5px,#337cfc 97.5px,#3080fa 140.5px,#3677fd 213.5px,#3677fd 287.5px,#2d89f5 302.5px,#23a0e5 319.5px,#21a2e4 331.5px,#2b92ee 348.5px,#2d89f5 355.5px),
linear-gradient(90deg,#3974fe 0.5px,#4465fd 18.5px,#4756f6 35.5px,#475af8 49.5px,#3e6ffe 72.5px,#327cfc 95.5px,#2f83f9 136.5px,#3678fd 211.5px,#3579fd 287.5px,#2d8af5 303.5px,#249de7 321.5px,#249de7 334.5px,#2d87f6 355.5px),
linear-gradient(90deg,#3e70fe 0.5px,#4758f8 22.5px,#484ff2 36.5px,#4756f7 50.5px,#3f6ffe 72.5px,#327cfc 93.5px,#2e86f7 133.5px,#3579fd 209.5px,#337afd 287.5px,#2d8bf4 305.5px,#259be8 322.5px,#2699e9 335.5px,#2e86f8 355.5px),
linear-gradient(90deg,#406cfe 0.5px,#4755f6 19.5px,#4849ed 33.5px,#484df0 45.5px,#4268fd 67.5px,#337bfc 89.5px,#2d89f5 128.5px,#2f83f9 161.5px,#3479fd 206.5px,#337bfc 287.5px,#2d8bf3 307.5px,#2699e9 324.5px,#2994ed 338.5px,#2f84f8 355.5px),
linear-gradient(90deg,#4269fe 0.5px,#4852f4 18.5px,#4745e8 32.5px,#4748ec 44.5px,#4464fd 65.5px,#337bfc 87.5px,#2d8bf3 125.5px,#2d88f6 153.5px,#337afd 198.5px,#337bfc 287.5px,#2d8bf3 308.5px,#2897eb 325.5px,#2c90ef 340.5px,#2f83f9 355.5px),
linear-gradient(90deg,#4367fd 0.5px,#4850f2 17.5px,#4742e5 31.5px,#4745e9 43.5px,#4562fc 64.5px,#3678fd 82.5px,#2d8af4 112.5px,#2c8ff0 138.5px,#337bfc 198.5px,#337bfc 286.5px,#2d8af5 307.5px,#2995ec 324.5px,#2c90f0 339.5px,#3082f9 355.5px),
linear-gradient(90deg,#4366fd 0.5px,#484ef1 17.5px,#4740e3 31.5px,#4742e6 41.5px,#475af9 59.5px,#3d71fe 75.5px,#317efb 89.5px,#2b91ef 125.5px,#2c8ff0 149.5px,#327dfb 189.5px,#3479fd 256.5px,#327dfb 291.5px,#2c8ef1 312.5px,#2995ec 327.5px,#2d8bf4 344.5px,#3081f9 355.5px),
linear-gradient(90deg,#4366fd 0.5px,#484ef1 17.5px,#4740e4 31.5px,#4743e7 42.5px,#4562fc 64.5px,#3579fd 82.5px,#2c8df2 109.5px,#2995ec 133.5px,#2c8df2 158.5px,#327dfc 192.5px,#3479fd 266.5px,#317ffb 294.5px,#2995ec 323.5px,#2c91ef 337.5px,#3081fa 355.5px),
linear-gradient(90deg,#4367fd 0.5px,#484ef1 18.5px,#4742e6 32.5px,#4747eb 44.5px,#4563fd 64.5px,#347afd 82.5px,#2c8ff1 109.5px,#2798ea 133.5px,#2c8ff0 157.5px,#317ffb 187.5px,#3479fd 234.5px,#327cfc 288.5px,#2d8bf3 309.5px,#2995ec 325.5px,#2c8ef1 340.5px,#3081fa 355.5px),
linear-gradient(90deg,#4268fd 0.5px,#484df0 21.5px,#4745e9 34.5px,#484df1 47.5px,#4269fe 67.5px,#317efb 86.5px,#2798ea 122.5px,#2699e9 142.5px,#317ffb 187.5px,#3479fd 230.5px,#327cfc 288.5px,#2d8cf3 309.5px,#2896eb 325.5px,#2c8ff1 340.5px,#3081fa 355.5px),
linear-gradient(90deg,#4269fe 0.5px,#484ef1 24.5px,#484bee 37.5px,#4758f8 53.5px,#3f6fff 70.5px,#317efb 85.5px,#269ae9 122.5px,#259be8 142.5px,#317ffa 187.5px,#3479fd 228.5px,#327cfc 287.5px,#2d8bf3 308.5px,#2896eb 324.5px,#2b91ef 338.5px,#3081f9 355.5px),
linear-gradient(90deg,#416bfe 0.5px,#4754f5 23.5px,#4850f3 37.5px,#465efa 54.5px,#3b73fe 72.5px,#3080fa 86.5px,#259be8 123.5px,#259be8 143.5px,#3180fa 187.5px,#3479fd 226.5px,#327cfc 287.5px,#2d8cf3 308.5px,#2897eb 324.5px,#2b91ef 338.5px,#3082f9 355.5px),
linear-gradient(90deg,#406dfe 0.5px,#4758f8 26.5px,#4757f8 41.5px,#416bfe 63.5px,#317ffb 84.5px,#259ce7 123.5px,#259ce7 143.5px,#3180fa 187.5px,#3479fd 226.5px,#327cfc 287.5px,#2d8bf4 307.5px,#2797ea 324.5px,#2b92ee 338.5px,#3082f9 355.5px),
linear-gradient(90deg,#3e6ffe 0.5px,#465dfa 27.5px,#465efb 44.5px,#3c71fe 67.5px,#3180fa 84.5px,#259ce7 124.5px,#259ce8 144.5px,#3180fa 187.5px,#3579fd 226.5px,#327cfc 287.5px,#2d8bf4 307.5px,#2797ea 324.5px,#2b92ee 338.5px,#3082f9 355.5px),
linear-gradient(90deg,#3c71fe 0.5px,#4561fc 31.5px,#4367fd 50.5px,#3776fd 71.5px,#2c8df2 101.5px,#249ce7 127.5px,#269ae9 147.5px,#3180fa 186.5px,#3579fd 224.5px,#327cfc 287.5px,#2d8bf4 307.5px,#2897eb 324.5px,#2b91ef 338.5px,#3082f9 355.5px),
linear-gradient(90deg,#3b73fe 0.5px,#4366fd 33.5px,#3f6eff 57.5px,#3180fa 84.5px,#259ae8 125.5px,#2699e9 145.5px,#3180fa 186.5px,#3579fd 225.5px,#337cfc 287.5px,#2d8bf3 308.5px,#2896eb 324.5px,#2b91ef 338.5px,#3081fa 355.5px),
linear-gradient(90deg,#3974fe 0.5px,#416afe 31.5px,#3d70fe 56.5px,#2f82f9 88.5px,#2699e9 126.5px,#2897eb 146.5px,#317ffb 186.5px,#3578fd 227.5px,#337cfc 287.5px,#2d8bf4 308.5px,#2896ec 324.5px,#2c90ef 338.5px,#3081fa 355.5px),
linear-gradient(90deg,#3875fd 0.5px,#406cfe 34.5px,#3974fe 61.5px,#2d89f5 100.5px,#2797ea 129.5px,#2a93ee 151.5px,#317efb 186.5px,#3678fd 229.5px,#337cfc 288.5px,#2d8cf3 310.5px,#2995ec 326.5px,#2d8cf3 342.5px,#3081fa 355.5px),
linear-gradient(90deg,#3876fd 0.5px,#3f6eff 38.5px,#3081fa 89.5px,#2994ec 128.5px,#2c90ef 151.5px,#327dfb 187.5px,#3677fd 234.5px,#337cfc 289.5px,#2d8cf3 311.5px,#2994ed 326.5px,#2d8bf3 342.5px,#3080fa 355.5px),
linear-gradient(90deg,#3876fd 0.5px,#3e6ffe 38.5px,#2f83f9 94.5px,#2b92ee 130.5px,#2d8cf3 155.5px,#337afd 196.5px,#3677fd 262.5px,#327efb 294.5px,#2a93ee 323.5px,#2c8ef1 338.5px,#3080fa 355.5px),
linear-gradient(90deg,#3876fd 0.5px,#3f6eff 38.5px,#2e84f8 100.5px,#2c8ff1 132.5px,#2e86f7 162.5px,#3578fd 202.5px,#3678fd 275.5px,#3081fa 299.5px,#2b92ee 323.5px,#2c8df2 338.5px,#3180fa 355.5px),
linear-gradient(90deg,#3875fd 0.5px,#406dfe 35.5px,#3678fd 71.5px,#2d8bf3 126.5px,#2d87f6 154.5px,#3678fd 203.5px,#3677fd 273.5px,#3080fa 299.5px,#2b92ef 323.5px,#2c8df2 338.5px,#3180fa 355.5px),
linear-gradient(90deg,#3974fe 0.5px,#416afe 32.5px,#3b72fe 60.5px,#317ffa 95.5px,#2d89f5 134.5px,#3876fd 211.5px,#3678fd 280.5px,#2f83f9 303.5px,#2b92ef 324.5px,#2d8cf3 339.5px,#3180fa 355.5px),
linear-gradient(90deg,#3a73fe 0.5px,#4367fd 32.5px,#3e6ffe 58.5px,#327dfb 92.5px,#2e86f7 135.5px,#3974fe 218.5px,#3678fd 282.5px,#2f84f8 304.5px,#2b92ef 324.5px,#2d8cf3 339.5px,#3180fa 355.5px),
linear-gradient(90deg,#3b72fe 0.5px,#4563fd 32.5px,#416bfe 54.5px,#327cfc 91.5px,#2f83f9 137.5px,#3a73fe 223.5px,#3578fd 284.5px,#2e86f8 306.5px,#2b92ee 324.5px,#2c8cf2 339.5px,#3180fa 355.5px),
linear-gradient(90deg,#3d70fe 0.5px,#465ffb 30.5px,#4464fd 49.5px,#3479fd 85.5px,#3081fa 136.5px,#3b72fe 230.5px,#3579fd 286.5px,#2d89f5 309.5px,#2a92ee 325.5px,#2d8cf3 340.5px,#3180fa 355.5px),
linear-gradient(90deg,#3e6ffe 0.5px,#465cf9 27.5px,#465dfa 44.5px,#3c71fe 71.5px,#327cfc 99.5px,#317efb 147.5px,#3c71fe 232.5px,#3578fd 286.5px,#2d89f5 309.5px,#2a93ed 325.5px,#2c8df2 340.5px,#3080fa 355.5px),
linear-gradient(90deg,#406dfe 0.5px,#4758f8 26.5px,#4757f7 41.5px,#406cfe 66.5px,#3479fd 90.5px,#327dfb 143.5px,#3d70fe 236.5px,#3578fd 286.5px,#2d89f5 309.5px,#2a94ed 325.5px,#2c8df2 340.5px,#3080fa 355.5px),
linear-gradient(90deg,#406cfe 0.5px,#4755f6 24.5px,#4852f3 38.5px,#4562fc 58.5px,#3876fd 82.5px,#327cfc 117.5px,#3678fd 174.5px,#3e6ffe 238.5px,#3678fd 286.5px,#2d8af4 309.5px,#2994ec 325.5px,#2c8ef1 340.5px,#3081fa 355.5px),
linear-gradient(90deg,#416afe 0.5px,#4851f3 23.5px,#484df0 37.5px,#475bf9 54.5px,#3c71fe 76.5px,#337afd 102.5px,#3479fd 162.5px,#3f6ffe 238.5px,#3678fd 286.5px,#2d8af4 309.5px,#2995ec 325.5px,#2c8ef1 340.5px,#3081fa 355.5px),
linear-gradient(90deg,#4269fe 0.5px,#484df1 24.5px,#4849ed 37.5px,#4757f7 53.5px,#3f6ffe 74.5px,#3579fd 96.5px,#3579fd 159.5px,#3f6eff 238.5px,#3678fd 286.5px,#2d89f5 308.5px,#2995ec 324.5px,#2c90f0 338.5px,#3081fa 355.5px),
linear-gradient(90deg,#4268fe 0.5px,#484ef1 21.5px,#4746ea 34.5px,#484ef1 47.5px,#4268fd 68.5px,#3776fd 88.5px,#337afd 139.5px,#3f6eff 240.5px,#3677fd 286.5px,#2d89f5 308.5px,#2995ec 324.5px,#2c90f0 338.5px,#3081fa 355.5px),
linear-gradient(90deg,#4268fd 0.5px,#484ff2 19.5px,#4745e9 33.5px,#484bef 46.5px,#4465fd 66.5px,#3875fd 85.5px,#347afd 123.5px,#3b73fe 193.5px,#3f6eff 244.5px,#3578fd 288.5px,#2d8bf4 310.5px,#2995ec 325.5px,#2c8ef1 340.5px,#3081fa 355.5px),
linear-gradient(90deg,#4269fe 0.5px,#4850f2 19.5px,#4745e9 33.5px,#484bee 46.5px,#4465fd 66.5px,#3975fd 85.5px,#347afd 122.5px,#3b73fe 193.5px,#3f6eff 244.5px,#3578fd 288.5px,#2d8bf3 311.5px,#2994ed 326.5px,#2d8cf3 342.5px,#3081fa 355.5px),
linear-gradient(90deg,#416afe 0.5px,#4851f3 19.5px,#4746ea 33.5px,#484cef 46.5px,#4366fd 67.5px,#3875fd 86.5px,#347afd 127.5px,#3c71fe 201.5px,#3f6ffe 249.5px,#3479fd 290.5px,#2c8df2 313.5px,#2a93ed 328.5px,#2e86f7 348.5px,#3080fa 355.5px),
linear-gradient(90deg,#406cfe 0.5px,#4755f6 19.5px,#4849ed 34.5px,#484ff1 47.5px,#4269fe 69.5px,#3776fd 89.5px,#3579fd 146.5px,#3f6eff 242.5px,#3578fd 288.5px,#2d8bf4 312.5px,#2b92ee 327.5px,#2d88f6 345.5px,#3080fa 355.5px),
linear-gradient(90deg,#3f6eff 0.5px,#4756f6 22.5px,#484df0 36.5px,#4754f5 50.5px,#406cfe 72.5px,#3677fd 93.5px,#3677fd 166.5px,#3e6ffe 242.5px,#3579fd 289.5px,#2c8df2 315.5px,#2b91ef 330.5px,#3180fa 355.5px),
linear-gradient(90deg,#3c72fe 0.5px,#475bf9 23.5px,#4853f4 38.5px,#475bf9 54.5px,#3b72fe 79.5px,#3479fd 107.5px,#3975fe 189.5px,#3d70fe 246.5px,#347afd 291.5px,#2c90f0 323.5px,#2d8cf3 338.5px,#3180fa 355.5px),
linear-gradient(90deg,#3876fd 0.5px,#4561fc 24.5px,#4759f8 40.5px,#4561fc 57.5px,#3875fd 85.5px,#347afd 129.5px,#3d70fe 248.5px,#347afd 291.5px,#2c90f0 323.5px,#2d8cf3 338.5px,#3180fa 355.5px),
linear-gradient(90deg,#337bfd 0.5px,#3f6eff 19.5px,#4660fb 39.5px,#4563fd 56.5px,#3777fd 89.5px,#3479fd 146.5px,#3c71fe 248.5px,#3479fd 291.5px,#2c90f0 323.5px,#2d8cf3 338.5px,#3180fa 355.5px),
linear-gradient(90deg,#317ffb 0.5px,#3578fd 18.5px,#4269fe 35.5px,#4465fd 51.5px,#3579fd 97.5px,#3578fd 167.5px,#3c71fe 248.5px,#3479fd 291.5px,#2c90f0 322.5px,#2c8ef2 337.5px,#3080fa 355.5px),
linear-gradient(90deg,#2f84f8 0.5px,#3082f9 17.5px,#3876fd 31.5px,#416bfe 44.5px,#416bfe 62.5px,#347afd 103.5px,#3678fd 175.5px,#3c71fe 249.5px,#3579fd 291.5px,#2c8df2 316.5px,#2b91ef 330.5px,#3081fa 355.5px),
linear-gradient(90deg,#2d88f6 0.5px,#2d89f5 17.5px,#3578fd 36.5px,#406cfe 51.5px,#3f6eff 70.5px,#337bfc 106.5px,#3579fd 168.5px,#3c71fe 248.5px,#3678fd 291.5px,#2d8cf3 314.5px,#2a93ee 328.5px,#2d88f6 346.5px,#3081fa 355.5px),
linear-gradient(90deg,#2d8cf3 0.5px,#2c90f0 16.5px,#2f84f9 32.5px,#3f6efe 53.5px,#406dfe 70.5px,#327dfc 106.5px,#327cfc 151.5px,#3d70fe 247.5px,#3777fd 291.5px,#2d8bf4 312.5px,#2a94ed 327.5px,#2d8cf3 343.5px,#3082f9 355.5px),
linear-gradient(90deg,#2c8ff1 0.5px,#2995ec 16.5px,#2d8bf3 30.5px,#3677fd 45.5px,#406cfe 57.5px,#406cfe 73.5px,#327dfb 103.5px,#3180fa 136.5px,#3b72fe 219.5px,#3f6eff 246.5px,#3975fe 291.5px,#2d88f6 310.5px,#2994ed 325.5px,#2c90f0 339.5px,#2f82f9 355.5px),
linear-gradient(90deg,#2b91ef 0.5px,#2799e9 16.5px,#2c90ef 29.5px,#347afd 44.5px,#406cfe 55.5px,#4268fd 68.5px,#3b73fe 85.5px,#317efb 101.5px,#2f84f8 128.5px,#3a73fe 215.5px,#406cfe 241.5px,#3e6ffe 278.5px,#3974fe 294.5px,#2d8af4 312.5px,#2995ec 326.5px,#2c8ff1 341.5px,#2f82f9 355.5px),
linear-gradient(90deg,#2b92ee 0.5px,#259be8 15.5px,#2a94ed 28.5px,#337afd 44.5px,#406bfe 53.5px,#4464fd 65.5px,#406cfe 80.5px,#317efb 98.5px,#2d87f6 121.5px,#3180fa 157.5px,#3a74fe 213.5px,#4269fe 238.5px,#406dfe 274.5px,#3e6ffe 291.5px,#2e85f8 309.5px,#2a94ed 324.5px,#2b91ef 338.5px,#2f82f9 355.5px),
linear-gradient(90deg,#2a92ee 0.5px,#259be8 15.5px,#2995ec 27.5px,#337bfc 43.5px,#416afe 52.5px,#4660fb 63.5px,#4464fd 75.5px,#3974fe 88.5px,#3180fa 98.5px,#2d8bf4 118.5px,#2d87f6 144.5px,#337bfc 187.5px,#3b72fe 216.5px,#4366fd 239.5px,#416bfe 271.5px,#416afe 289.5px,#3a74fe 299.5px,#2e86f8 311.5px,#2a93ee 325.5px,#2c8ff0 339.5px,#2f82f9 355.5px),
linear-gradient(90deg,#2b92ee 0.5px,#259be8 16.5px,#2a93ed 28.5px,#337afd 42.5px,#4269fe 50.5px,#465cf9 61.5px,#465efa 72.5px,#3f6eff 85.5px,#327efb 95.5px,#2c8df2 113.5px,#2c8ef1 134.5px,#327efb 179.5px,#3776fd 209.5px,#4465fd 233.5px,#4465fd 249.5px,#4268fe 269.5px,#4366fd 288.5px,#3c71fe 300.5px,#3082f9 310.5px,#2b91ef 324.5px,#2c8ff1 338.5px,#3082f9 355.5px),
linear-gradient(90deg,#2c90ef 0.5px,#2699e9 16.5px,#2b91ef 28.5px,#337cfc 40.5px,#4269fe 48.5px,#4758f8 59.5px,#4757f7 69.5px,#4268fd 82.5px,#317ffb 95.5px,#2c90f0 111.5px,#2a93ed 130.5px,#3080fa 176.5px,#3678fd 209.5px,#4465fd 231.5px,#4562fc 246.5px,#4366fd 267.5px,#4562fc 288.5px,#3f6dfe 300.5px,#3080fa 311.5px,#2c8ef1 324.5px,#2c8df2 338.5px,#3081fa 355.5px),
linear-gradient(90deg,#2c8ef1 0.5px,#2896eb 16.5px,#2c8ef1 28.5px,#337afd 39.5px,#4269fe 46.5px,#4755f6 57.5px,#4851f3 67.5px,#465efa 78.5px,#3c72fe 88.5px,#3180fa 95.5px,#2b92ee 110.5px,#2897eb 128.5px,#2f82f9 177.5px,#337afd 208.5px,#4465fd 229.5px,#465ffb 243.5px,#4464fd 267.5px,#465efa 287.5px,#4268fe 299.5px,#3578fd 308.5px,#2d8af5 321.5px,#2c8cf2 334.5px,#3080fa 355.5px),
linear-gradient(90deg,#2d8cf3 0.5px,#2a92ee 16.5px,#2d8bf4 28.5px,#3578fd 38.5px,#4367fd 45.5px,#4851f3 57.5px,#484df0 66.5px,#4757f8 76.5px,#406cfe 86.5px,#317efb 94.5px,#2b92ee 108.5px,#269ae9 125.5px,#2c90f0 150.5px,#2e85f8 179.5px,#317efb 206.5px,#3a74fe 217.5px,#4562fc 232.5px,#465efa 245.5px,#4563fd 266.5px,#475bf9 287.5px,#4465fd 299.5px,#3975fd 308.5px,#3082f9 316.5px,#2d8af4 329.5px,#3081fa 352.5px,#317ffb 355.5px),
linear-gradient(90deg,#2d89f5 0.5px,#2c8ef1 17.5px,#2e85f8 29.5px,#3777fd 37.5px,#4464fd 45.5px,#484df0 57.5px,#4849ed 66.5px,#4755f6 76.5px,#416bfe 86.5px,#3180fa 95.5px,#2a94ed 109.5px,#259be8 125.5px,#2c90ef 151.5px,#2d87f6 178.5px,#2f82f9 204.5px,#3677fd 216.5px,#4367fd 228.5px,#465dfa 241.5px,#4562fc 267.5px,#4759f8 287.5px,#4563fd 299.5px,#3974fe 309.5px,#3080fa 317.5px,#2d88f6 330.5px,#317efb 355.5px),
linear-gradient(90deg,#2e86f7 0.5px,#2d8af4 18.5px,#3180fa 30.5px,#3a73fe 37.5px,#465ffb 46.5px,#484aee 58.5px,#4748ec 67.5px,#4756f6 77.5px,#416afe 86.5px,#317ffa 95.5px,#2a94ed 109.5px,#259be8 125.5px,#2c8ff0 154.5px,#2d8af4 182.5px,#2e85f8 205.5px,#3677fd 218.5px,#4269fe 228.5px,#465efb 241.5px,#4562fc 267.5px,#4758f8 287.5px,#4562fc 299.5px,#3a74fe 310.5px,#317ffb 318.5px,#2e86f8 332.5px,#327dfb 355.5px),
linear-gradient(90deg,#2f84f8 0.5px,#2e86f7 19.5px,#3479fd 32.5px,#4465fd 42.5px,#484bef 56.5px,#4747ea 65.5px,#4851f3 75.5px,#4269fe 86.5px,#317efb 95.5px,#2a92ee 109.5px,#2699e9 126.5px,#2d8cf3 172.5px,#2d8af4 201.5px,#337cfc 217.5px,#4268fe 230.5px,#4660fb 242.5px,#4562fc 267.5px,#4759f8 287.5px,#4562fc 299.5px,#3b73fe 310.5px,#317efb 319.5px,#2f83f9 334.5px,#327dfc 355.5px),
linear-gradient(90deg,#3081fa 0.5px,#2f82f9 20.5px,#3578fd 31.5px,#4562fc 43.5px,#484bee 57.5px,#4748ec 66.5px,#4754f5 76.5px,#4269fe 86.5px,#317ffb 96.5px,#2b91ef 110.5px,#2897eb 128.5px,#2d8cf3 170.5px,#2d8cf3 200.5px,#317ffb 216.5px,#4269fe 232.5px,#4562fc 245.5px,#4464fd 267.5px,#475af9 287.5px,#4562fc 299.5px,#3875fd 312.5px,#317ffb 322.5px,#3081fa 339.5px,#327cfc 355.5px),
linear-gradient(90deg,#317ffa 0.5px,#317ffb 21.5px,#3776fd 31.5px,#4561fc 44.5px,#484cf0 58.5px,#484bef 68.5px,#465dfa 80.5px,#3c71fe 90.5px,#317ffb 97.5px,#2c8ff0 112.5px,#2a93ee 132.5px,#2d8cf3 169.5px,#2c8df2 200.5px,#317ffa 217.5px,#416afe 234.5px,#4465fd 248.5px,#4465fd 268.5px,#465dfa 288.5px,#4367fd 301.5px,#327dfb 321.5px,#3180fa 339.5px,#337cfc 355.5px),
linear-gradient(90deg,#327efb 0.5px,#327cfc 22.5px,#3e70fe 35.5px,#4758f8 50.5px,#484ef1 62.5px,#4754f5 73.5px,#4169fe 86.5px,#317efb 98.5px,#2c8cf2 114.5px,#2c8ef1 137.5px,#2d8af4 170.5px,#2d8cf3 200.5px,#317ffb 218.5px,#416bfe 236.5px,#4269fe 253.5px,#4366fd 271.5px,#4660fb 289.5px,#406cfe 304.5px,#327dfc 321.5px,#317efb 341.5px,#337bfc 355.5px),
linear-gradient(90deg,#327cfc 0.5px,#347afd 24.5px,#4268fd 41.5px,#4754f5 58.5px,#4754f5 69.5px,#4367fd 84.5px,#327efb 99.5px,#2d8af5 117.5px,#2d89f5 175.5px,#2d8af5 202.5px,#337bfc 222.5px,#406dfe 238.5px,#4269fe 271.5px,#4464fd 290.5px,#3b72fe 308.5px,#327dfb 322.5px,#327dfc 346.5px,#337bfc 355.5px),
linear-gradient(90deg,#337bfc 0.5px,#3578fd 25.5px,#4464fd 46.5px,#4758f8 61.5px,#465cf9 73.5px,#3f6ffe 88.5px,#327dfc 100.5px,#2e87f7 121.5px,#2e86f7 175.5px,#2e86f7 204.5px,#3677fd 226.5px,#3f6eff 244.5px,#406cfe 272.5px,#4268fd 291.5px,#3a73fe 307.5px,#327dfb 323.5px,#337bfc 355.5px),
linear-gradient(90deg,#337bfd 0.5px,#3777fd 27.5px,#4562fc 52.5px,#465dfa 66.5px,#4269fe 82.5px,#327dfb 103.5px,#2f83f9 129.5px,#2f84f8 179.5px,#2f83f9 207.5px,#3876fd 229.5px,#3d70fe 249.5px,#3f6dfe 276.5px,#406dfe 295.5px,#327dfc 322.5px,#337bfd 355.5px),
linear-gradient(90deg,#337afd 0.5px,#3776fd 29.5px,#4563fc 58.5px,#4465fd 73.5px,#3975fe 92.5px,#327efb 109.5px,#3080fa 206.5px,#3b73fe 245.5px,#3e6ffe 282.5px,#3974fe 303.5px,#327dfb 324.5px,#337bfd 355.5px),
linear-gradient(90deg,#347afd 0.5px,#3875fd 32.5px,#4367fd 59.5px,#416bfe 77.5px,#337cfc 107.5px,#327efb 208.5px,#3974fe 248.5px,#3a73fe 296.5px,#327dfb 325.5px,#337afd 355.5px),
linear-gradient(90deg,#347afd 0.5px,#3975fe 36.5px,#416bfe 62.5px,#3b72fe 84.5px,#337cfc 113.5px,#337bfc 215.5px,#3776fd 256.5px,#3876fd 298.5px,#327dfb 330.5px,#337afd 355.5px);
background-position:0 0px,0 4px,0 8px,0 12px,0 16px,0 20px,0 24px,0 28px,0 32px,0 36px,0 40px,0 44px,0 48px,0 52px,0 56px,0 60px,0 64px,0 68px,0 72px,0 76px,0 80px,0 84px,0 88px,0 92px,0 96px,0 100px,0 104px,0 108px,0 112px,0 116px,0 120px,0 124px,0 128px,0 132px,0 136px,0 140px,0 144px,0 148px,0 152px,0 156px,0 160px,0 164px,0 168px,0 172px,0 176px,0 180px,0 184px,0 188px,0 192px,0 196px,0 200px,0 204px,0 208px,0 212px,0 216px,0 220px,0 224px,0 228px,0 232px,0 236px,0 240px,0 244px,0 248px,0 252px,0 256px,0 260px,0 264px,0 268px,0 272px,0 276px,0 280px,0 284px,0 288px,0 292px,0 296px,0 300px,0 304px,0 308px,0 312px,0 316px,0 320px,0 324px,0 328px,0 332px,0 336px;
background-size:100% 4px,100% 4px,100% 4px,100% 4px,100% 4px,100% 4px,100% 4px,100% 4px,100% 4px,100% 4px,100% 4px,100% 4px,100% 4px,100% 4px,100% 4px,100% 4px,100% 4px,100% 4px,100% 4px,100% 4px,100% 4px,100% 4px,100% 4px,100% 4px,100% 4px,100% 4px,100% 4px,100% 4px,100% 4px,100% 4px,100% 4px,100% 4px,100% 4px,100% 4px,100% 4px,100% 4px,100% 4px,100% 4px,100% 4px,100% 4px,100% 4px,100% 4px,100% 4px,100% 4px,100% 4px,100% 4px,100% 4px,100% 4px,100% 4px,100% 4px,100% 4px,100% 4px,100% 4px,100% 4px,100% 4px,100% 4px,100% 4px,100% 4px,100% 4px,100% 4px,100% 4px,100% 4px,100% 4px,100% 4px,100% 4px,100% 4px,100% 4px,100% 4px,100% 4px,100% 4px,100% 4px,100% 4px,100% 4px,100% 4px,100% 4px,100% 4px,100% 4px,100% 4px,100% 4px,100% 4px,100% 4px,100% 4px,100% 4px,100% 4px,100% 4px;
background-repeat:no-repeat;}
</style>
</head>
<body>
<div class="hm" id="h0"><i></i></div>
<div class="hm" id="h1"><i></i></div>
<div class="hm" id="h2"><i></i></div>
<div class="hm" id="h3"><i></i></div>
<div class="hm" id="h4"><i></i></div>
<div class="hm" id="h5"><i></i></div>
<svg width="1550" height="860" viewBox="0 0 1550 860">
<defs>
<linearGradient id="cb" x1="0" y1="0" x2="0" y2="1"><stop offset="0" stop-color="#f9fb15"/><stop offset="0.03125" stop-color="#f6f21e"/><stop offset="0.0625" stop-color="#f5e426"/><stop offset="0.09375" stop-color="#f9d62d"/><stop offset="0.125" stop-color="#fec834"/><stop offset="0.15625" stop-color="#fcbd3c"/><stop offset="0.1875" stop-color="#efba35"/><stop offset="0.21875" stop-color="#dcbd29"/><stop offset="0.25" stop-color="#c5c22a"/><stop offset="0.28125" stop-color="#acc739"/><stop offset="0.3125" stop-color="#90ca4d"/><stop offset="0.34375" stop-color="#73cc63"/><stop offset="0.375" stop-color="#59cc79"/><stop offset="0.40625" stop-color="#41ca8c"/><stop offset="0.4375" stop-color="#32c69e"/><stop offset="0.46875" stop-color="#26c2ad"/><stop offset="0.5" stop-color="#12beb9"/><stop offset="0.53125" stop-color="#01b9c6"/><stop offset="0.5625" stop-color="#0cb3d3"/><stop offset="0.59375" stop-color="#1aacdd"/><stop offset="0.625" stop-color="#21a3e3"/><stop offset="0.65625" stop-color="#269ae9"/><stop offset="0.6875" stop-color="#2c90f0"/><stop offset="0.71875" stop-color="#2e85f8"/><stop offset="0.75" stop-color="#347afd"/><stop offset="0.78125" stop-color="#3f6eff"/><stop offset="0.8125" stop-color="#4562fc"/><stop offset="0.84375" stop-color="#4757f7"/><stop offset="0.875" stop-color="#484cef"/><stop offset="0.90625" stop-color="#4741e5"/><stop offset="0.9375" stop-color="#4536d5"/><stop offset="0.96875" stop-color="#422ebf"/><stop offset="1" stop-color="#3e26a8"/></linearGradient>
<linearGradient id="tc" x1="0" y1="0" x2="0.25" y2="1"><stop offset="0" stop-color="#f8f817"/><stop offset="0.55" stop-color="#f8f719"/><stop offset="0.8" stop-color="#f6e128"/><stop offset="1" stop-color="#f9d82c"/></linearGradient>
<filter id="bl" x="-10%" y="-10%" width="120%" height="120%"><feGaussianBlur stdDeviation="0.9"/></filter>
</defs>
<g transform="translate(63.7,26.7)">
<g filter="url(#bl)"><polygon points="101.5,96.7 157.0,96.7 184.6,122.2 184.6,200.8 127.4,200.8 101.5,178.0" fill="#3777fd"/><polygon points="103.2,98.2 157.0,98.2 183.0,122.3 183.0,199.3 127.5,199.3 103.2,177.7" fill="#2d87f6"/><polygon points="104.9,99.7 157.0,99.7 181.3,122.4 181.3,197.7 127.6,197.7 104.9,177.4" fill="#2896eb"/><polygon points="106.6,101.2 157.0,101.2 179.7,122.5 179.7,196.1 127.8,196.1 106.6,177.2" fill="#20a4e3"/><polygon points="108.3,102.7 157.0,102.7 178.0,122.6 178.0,194.5 127.9,194.5 108.3,176.9" fill="#12b0d7"/><polygon points="109.9,104.2 157.0,104.2 176.4,122.7 176.4,192.9 128.0,192.9 109.9,176.6" fill="#01bac5"/><polygon points="111.6,105.7 157.0,105.7 174.7,122.8 174.7,191.3 128.2,191.3 111.6,176.4" fill="#1dc0b2"/><polygon points="113.3,107.2 157.0,107.2 173.1,122.9 173.1,189.7 128.3,189.7 113.3,176.1" fill="#32c69d"/><polygon points="115.0,108.7 157.0,108.7 171.4,123.0 171.4,188.1 128.4,188.1 115.0,175.8" fill="#4ccb83"/><polygon points="116.7,110.2 157.0,110.2 169.8,123.1 169.8,186.5 128.5,186.5 116.7,175.5" fill="#72cc63"/><polygon points="118.3,111.7 157.0,111.7 168.1,123.2 168.1,184.9 128.7,184.9 118.3,175.3" fill="#9cc944"/><polygon points="120.0,113.2 157.0,113.2 166.5,123.4 166.5,183.3 128.8,183.3 120.0,175.0" fill="#c3c22c"/><polygon points="121.7,114.7 157.0,114.7 164.8,123.5 164.8,181.7 128.9,181.7 121.7,174.7" fill="#e3bc2d"/><polygon points="123.4,116.2 157.0,116.2 163.2,123.6 163.2,180.1 129.1,180.1 123.4,174.4" fill="#fabc3b"/><polygon points="125.1,117.7 157.0,117.7 161.5,123.7 161.5,178.6 129.2,178.6 125.1,174.2" fill="#fdcd32"/><polygon points="126.7,119.3 157.0,119.3 159.9,123.8 159.9,177.0 129.3,177.0 126.7,173.9" fill="#f6e228"/><polygon points="128.4,120.8 157.0,120.8 158.3,123.9 158.3,175.4 129.5,175.4 128.4,173.6" fill="url(#tc)"/></g>
<rect x="357.2" y="0" width="20.6" height="323.8" fill="url(#cb)"/>
<rect x="357.7" y="0.5" width="19.6" height="322.8" fill="none" stroke="#262626" stroke-opacity="0.75" stroke-width="1"/>
<line x1="374.3" x2="377.8" y1="0" y2="0" stroke="#262626" stroke-opacity="0.5" stroke-width="1"/>
<text class="c" x="385.4" y="7.62">1.5</text>
<line x1="374.3" x2="377.8" y1="49.97" y2="49.97" stroke="#262626" stroke-opacity="0.5" stroke-width="1"/>
<text class="c" x="385.4" y="57.59">1.4</text>
<line x1="374.3" x2="377.8" y1="99.94" y2="99.94" stroke="#262626" stroke-opacity="0.5" stroke-width="1"/>
<text class="c" x="385.4" y="107.56">1.3</text>
<line x1="374.3" x2="377.8" y1="149.91" y2="149.91" stroke="#262626" stroke-opacity="0.5" stroke-width="1"/>
<text class="c" x="385.4" y="157.53">1.2</text>
<line x1="374.3" x2="377.8" y1="199.88" y2="199.88" stroke="#262626" stroke-opacity="0.5" stroke-width="1"/>
<text class="c" x="385.4" y="207.5">1.1</text>
<line x1="374.3" x2="377.8" y1="249.85" y2="249.85" stroke="#262626" stroke-opacity="0.5" stroke-width="1"/>
<text class="c" x="385.4" y="257.47">1</text>
<line x1="374.3" x2="377.8" y1="299.81" y2="299.81" stroke="#262626" stroke-opacity="0.5" stroke-width="1"/>
<text class="c" x="385.4" y="307.44">0.9</text>
<text class="t m" x="0" y="353">0</text>
<text class="t m" x="113.33" y="353">1</text>
<text class="t m" x="226.67" y="353">2</text>
<text class="t m" x="340" y="353">3</text>
<text class="t e" x="-8" y="332.99">0</text>
<text class="t e" x="-8" y="279.02">0.5</text>
<text class="t e" x="-8" y="225.06">1</text>
<text class="t e" x="-8" y="171.09">1.5</text>
<text class="t e" x="-8" y="117.12">2</text>
<text class="t e" x="-8" y="63.16">2.5</text>
<text class="t e" x="-8" y="9.19">3</text>
<text class="l m" transform="translate(169.7,382.3) scale(1.07,1)">x-axis</text>
<text class="l m" transform="translate(-46.8,161.9) rotate(-90) scale(1.07,1)">y-axis</text>
<text class="l m" transform="translate(170,-10) scale(1.07,1)">true</text>
</g>
<g transform="translate(596.2,26.7)">
<rect x="357.2" y="0" width="20.6" height="323.8" fill="url(#cb)"/>
<rect x="357.7" y="0.5" width="19.6" height="322.8" fill="none" stroke="#262626" stroke-opacity="0.75" stroke-width="1"/>
<line x1="374.3" x2="377.8" y1="18.36" y2="18.36" stroke="#262626" stroke-opacity="0.5" stroke-width="1"/>
<text class="c" x="385.4" y="24.98">1.2</text>
<line x1="374.3" x2="377.8" y1="75.03" y2="75.03" stroke="#262626" stroke-opacity="0.5" stroke-width="1"/>
<text class="c" x="385.4" y="81.65">1.15</text>
<line x1="374.3" x2="377.8" y1="131.7" y2="131.7" stroke="#262626" stroke-opacity="0.5" stroke-width="1"/>
<text class="c" x="385.4" y="138.32">1.1</text>
<line x1="374.3" x2="377.8" y1="188.36" y2="188.36" stroke="#262626" stroke-opacity="0.5" stroke-width="1"/>
<text class="c" x="385.4" y="194.99">1.05</text>
<line x1="374.3" x2="377.8" y1="245.03" y2="245.03" stroke="#262626" stroke-opacity="0.5" stroke-width="1"/>
<text class="c" x="385.4" y="251.65">1</text>
<line x1="374.3" x2="377.8" y1="301.7" y2="301.7" stroke="#262626" stroke-opacity="0.5" stroke-width="1"/>
<text class="c" x="385.4" y="308.32">0.95</text>
<text class="t m" x="0" y="353">0</text>
<text class="t m" x="113.33" y="353">1</text>
<text class="t m" x="226.67" y="353">2</text>
<text class="t m" x="340" y="353">3</text>
<text class="t e" x="-8" y="332.99">0</text>
<text class="t e" x="-8" y="279.02">0.5</text>
<text class="t e" x="-8" y="225.06">1</text>
<text class="t e" x="-8" y="171.09">1.5</text>
<text class="t e" x="-8" y="117.12">2</text>
<text class="t e" x="-8" y="63.16">2.5</text>
<text class="t e" x="-8" y="9.19">3</text>
<text class="l m" transform="translate(169.7,382.3) scale(1.07,1)">x-axis</text>
<text class="l m" transform="translate(-46.8,161.9) rotate(-90) scale(1.07,1)">y-axis</text>
<text class="l m" transform="translate(170,-10) scale(1.07,1)">hRef</text>
<text class="a e" x="329.2" y="28.8">0.282</text>
</g>
<g transform="translate(1128.7,26.7)">
<rect x="357.2" y="0" width="20.6" height="323.8" fill="url(#cb)"/>
<rect x="357.7" y="0.5" width="19.6" height="322.8" fill="none" stroke="#262626" stroke-opacity="0.75" stroke-width="1"/>
<line x1="374.3" x2="377.8" y1="18.36" y2="18.36" stroke="#262626" stroke-opacity="0.5" stroke-width="1"/>
<text class="c" x="385.4" y="24.98">1.2</text>
<line x1="374.3" x2="377.8" y1="75.03" y2="75.03" stroke="#262626" stroke-opacity="0.5" stroke-width="1"/>
<text class="c" x="385.4" y="81.65">1.15</text>
<line x1="374.3" x2="377.8" y1="131.7" y2="131.7" stroke="#262626" stroke-opacity="0.5" stroke-width="1"/>
<text class="c" x="385.4" y="138.32">1.1</text>
<line x1="374.3" x2="377.8" y1="188.36" y2="188.36" stroke="#262626" stroke-opacity="0.5" stroke-width="1"/>
<text class="c" x="385.4" y="194.99">1.05</text>
<line x1="374.3" x2="377.8" y1="245.03" y2="245.03" stroke="#262626" stroke-opacity="0.5" stroke-width="1"/>
<text class="c" x="385.4" y="251.65">1</text>
<line x1="374.3" x2="377.8" y1="301.7" y2="301.7" stroke="#262626" stroke-opacity="0.5" stroke-width="1"/>
<text class="c" x="385.4" y="308.32">0.95</text>
<text class="t m" x="0" y="353">0</text>
<text class="t m" x="113.33" y="353">1</text>
<text class="t m" x="226.67" y="353">2</text>
<text class="t m" x="340" y="353">3</text>
<text class="t e" x="-8" y="332.99">0</text>
<text class="t e" x="-8" y="279.02">0.5</text>
<text class="t e" x="-8" y="225.06">1</text>
<text class="t e" x="-8" y="171.09">1.5</text>
<text class="t e" x="-8" y="117.12">2</text>
<text class="t e" x="-8" y="63.16">2.5</text>
<text class="t e" x="-8" y="9.19">3</text>
<text class="l m" transform="translate(169.7,382.3) scale(1.07,1)">x-axis</text>
<text class="l m" transform="translate(-46.8,161.9) rotate(-90) scale(1.07,1)">y-axis</text>
<text class="l m" transform="translate(170,-10) scale(1.07,1)">pRef</text>
<text class="a e" x="329.2" y="28.8">0.238</text>
</g>
<g transform="translate(63.7,476.9)">
<rect x="357.2" y="0" width="20.6" height="323.8" fill="url(#cb)"/>
<rect x="357.7" y="0.5" width="19.6" height="322.8" fill="none" stroke="#262626" stroke-opacity="0.75" stroke-width="1"/>
<line x1="374.3" x2="377.8" y1="18.36" y2="18.36" stroke="#262626" stroke-opacity="0.5" stroke-width="1"/>
<text class="c" x="385.4" y="25.68">1.2</text>
<line x1="374.3" x2="377.8" y1="75.03" y2="75.03" stroke="#262626" stroke-opacity="0.5" stroke-width="1"/>
<text class="c" x="385.4" y="82.35">1.15</text>
<line x1="374.3" x2="377.8" y1="131.7" y2="131.7" stroke="#262626" stroke-opacity="0.5" stroke-width="1"/>
<text class="c" x="385.4" y="139.02">1.1</text>
<line x1="374.3" x2="377.8" y1="188.36" y2="188.36" stroke="#262626" stroke-opacity="0.5" stroke-width="1"/>
<text class="c" x="385.4" y="195.69">1.05</text>
<line x1="374.3" x2="377.8" y1="245.03" y2="245.03" stroke="#262626" stroke-opacity="0.5" stroke-width="1"/>
<text class="c" x="385.4" y="252.35">1</text>
<line x1="374.3" x2="377.8" y1="301.7" y2="301.7" stroke="#262626" stroke-opacity="0.5" stroke-width="1"/>
<text class="c" x="385.4" y="309.02">0.95</text>
<text class="t m" x="0" y="353">0</text>
<text class="t m" x="113.33" y="353">1</text>
<text class="t m" x="226.67" y="353">2</text>
<text class="t m" x="340" y="353">3</text>
<text class="t e" x="-8" y="332.69">0</text>
<text class="t e" x="-8" y="278.72">0.5</text>
<text class="t e" x="-8" y="224.76">1</text>
<text class="t e" x="-8" y="170.79">1.5</text>
<text class="t e" x="-8" y="116.82">2</text>
<text class="t e" x="-8" y="62.86">2.5</text>
<text class="t e" x="-8" y="8.89">3</text>
<text class="l m" transform="translate(169.7,382.3) scale(1.07,1)">x-axis</text>
<text class="l m" transform="translate(-46.8,161.9) rotate(-90) scale(1.07,1)">y-axis</text>
<text class="l m" transform="translate(170,-10) scale(1.07,1)">hAMR-goal</text>
<text class="a e" x="329.2" y="28.8">0.208</text>
</g>
<g transform="translate(596.2,476.9)">
<rect x="357.2" y="0" width="20.6" height="323.8" fill="url(#cb)"/>
<rect x="357.7" y="0.5" width="19.6" height="322.8" fill="none" stroke="#262626" stroke-opacity="0.75" stroke-width="1"/>
<line x1="374.3" x2="377.8" y1="18.36" y2="18.36" stroke="#262626" stroke-opacity="0.5" stroke-width="1"/>
<text class="c" x="385.4" y="25.68">1.2</text>
<line x1="374.3" x2="377.8" y1="75.03" y2="75.03" stroke="#262626" stroke-opacity="0.5" stroke-width="1"/>
<text class="c" x="385.4" y="82.35">1.15</text>
<line x1="374.3" x2="377.8" y1="131.7" y2="131.7" stroke="#262626" stroke-opacity="0.5" stroke-width="1"/>
<text class="c" x="385.4" y="139.02">1.1</text>
<line x1="374.3" x2="377.8" y1="188.36" y2="188.36" stroke="#262626" stroke-opacity="0.5" stroke-width="1"/>
<text class="c" x="385.4" y="195.69">1.05</text>
<line x1="374.3" x2="377.8" y1="245.03" y2="245.03" stroke="#262626" stroke-opacity="0.5" stroke-width="1"/>
<text class="c" x="385.4" y="252.35">1</text>
<line x1="374.3" x2="377.8" y1="301.7" y2="301.7" stroke="#262626" stroke-opacity="0.5" stroke-width="1"/>
<text class="c" x="385.4" y="309.02">0.95</text>
<text class="t m" x="0" y="353">0</text>
<text class="t m" x="113.33" y="353">1</text>
<text class="t m" x="226.67" y="353">2</text>
<text class="t m" x="340" y="353">3</text>
<text class="t e" x="-8" y="332.69">0</text>
<text class="t e" x="-8" y="278.72">0.5</text>
<text class="t e" x="-8" y="224.76">1</text>
<text class="t e" x="-8" y="170.79">1.5</text>
<text class="t e" x="-8" y="116.82">2</text>
<text class="t e" x="-8" y="62.86">2.5</text>
<text class="t e" x="-8" y="8.89">3</text>
<text class="l m" transform="translate(169.7,382.3) scale(1.07,1)">x-axis</text>
<text class="l m" transform="translate(-46.8,161.9) rotate(-90) scale(1.07,1)">y-axis</text>
<text class="l m" transform="translate(170,-10) scale(1.07,1)">hpAMR-goal</text>
<text class="a e" x="329.2" y="28.8">0.206</text>
</g>
<g transform="translate(1128.7,476.9)">
<rect x="357.2" y="0" width="20.6" height="323.8" fill="url(#cb)"/>
<rect x="357.7" y="0.5" width="19.6" height="322.8" fill="none" stroke="#262626" stroke-opacity="0.75" stroke-width="1"/>
<line x1="374.3" x2="377.8" y1="18.36" y2="18.36" stroke="#262626" stroke-opacity="0.5" stroke-width="1"/>
<text class="c" x="385.4" y="25.68">1.2</text>
<line x1="374.3" x2="377.8" y1="75.03" y2="75.03" stroke="#262626" stroke-opacity="0.5" stroke-width="1"/>
<text class="c" x="385.4" y="82.35">1.15</text>
<line x1="374.3" x2="377.8" y1="131.7" y2="131.7" stroke="#262626" stroke-opacity="0.5" stroke-width="1"/>
<text class="c" x="385.4" y="139.02">1.1</text>
<line x1="374.3" x2="377.8" y1="188.36" y2="188.36" stroke="#262626" stroke-opacity="0.5" stroke-width="1"/>
<text class="c" x="385.4" y="195.69">1.05</text>
<line x1="374.3" x2="377.8" y1="245.03" y2="245.03" stroke="#262626" stroke-opacity="0.5" stroke-width="1"/>
<text class="c" x="385.4" y="252.35">1</text>
<line x1="374.3" x2="377.8" y1="301.7" y2="301.7" stroke="#262626" stroke-opacity="0.5" stroke-width="1"/>
<text class="c" x="385.4" y="309.02">0.95</text>
<text class="t m" x="0" y="353">0</text>
<text class="t m" x="113.33" y="353">1</text>
<text class="t m" x="226.67" y="353">2</text>
<text class="t m" x="340" y="353">3</text>
<text class="t e" x="-8" y="332.69">0</text>
<text class="t e" x="-8" y="278.72">0.5</text>
<text class="t e" x="-8" y="224.76">1</text>
<text class="t e" x="-8" y="170.79">1.5</text>
<text class="t e" x="-8" y="116.82">2</text>
<text class="t e" x="-8" y="62.86">2.5</text>
<text class="t e" x="-8" y="8.89">3</text>
<text class="l m" transform="translate(169.7,382.3) scale(1.07,1)">x-axis</text>
<text class="l m" transform="translate(-46.8,161.9) rotate(-90) scale(1.07,1)">y-axis</text>
<text class="l m" transform="translate(170,-10) scale(1.07,1)">hpAMR-standard</text>
<text class="a e" x="329.2" y="28.8">0.275</text>
</g>
</svg>
</body>
</html>
